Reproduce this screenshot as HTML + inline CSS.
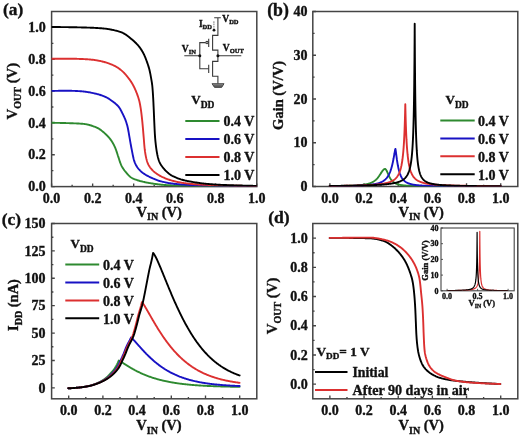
<!DOCTYPE html>
<html><head><meta charset="utf-8"><style>
html,body{margin:0;padding:0;background:#fff;}
svg{display:block;}
svg text{font-family:'Liberation Serif', 'Times New Roman', serif;font-weight:bold;fill:#111;stroke:#111;stroke-width:0.35px;}
</style></head><body>
<svg width="520" height="437" viewBox="0 0 520 437">
<rect width="520" height="437" fill="#fff"/>
<path d="M51.60 186.60V183.40 M92.64 186.60V183.40 M133.68 186.60V183.40 M174.72 186.60V183.40 M215.76 186.60V183.40 M256.80 186.60V183.40 M72.12 186.60V184.80 M113.16 186.60V184.80 M154.20 186.60V184.80 M195.24 186.60V184.80 M236.28 186.60V184.80 M51.60 186.60H54.80 M51.60 154.76H54.80 M51.60 122.93H54.80 M51.60 91.09H54.80 M51.60 59.25H54.80 M51.60 27.42H54.80 M51.60 170.68H53.40 M51.60 138.85H53.40 M51.60 107.01H53.40 M51.60 75.17H53.40 M51.60 43.34H53.40" stroke="#444" stroke-width="1.35" fill="none"/>
<rect x="51.60" y="11.50" width="205.20" height="175.10" stroke="#444" stroke-width="1.5" fill="none"/>
<path d="M329.88 186.50V183.30 M364.05 186.50V183.30 M398.22 186.50V183.30 M432.38 186.50V183.30 M466.55 186.50V183.30 M500.72 186.50V183.30 M346.97 186.50V184.70 M381.13 186.50V184.70 M415.30 186.50V184.70 M449.47 186.50V184.70 M483.63 186.50V184.70 M312.80 186.50H316.00 M312.80 142.75H316.00 M312.80 99.00H316.00 M312.80 55.25H316.00 M312.80 11.50H316.00 M312.80 164.62H314.60 M312.80 120.88H314.60 M312.80 77.12H314.60 M312.80 33.38H314.60" stroke="#444" stroke-width="1.35" fill="none"/>
<rect x="312.80" y="11.50" width="205.00" height="175.00" stroke="#444" stroke-width="1.5" fill="none"/>
<path d="M68.70 398.80V395.60 M102.90 398.80V395.60 M137.10 398.80V395.60 M171.30 398.80V395.60 M205.50 398.80V395.60 M239.70 398.80V395.60 M85.80 398.80V397.00 M120.00 398.80V397.00 M154.20 398.80V397.00 M188.40 398.80V397.00 M222.60 398.80V397.00 M51.60 387.84H54.80 M51.60 360.45H54.80 M51.60 333.06H54.80 M51.60 305.67H54.80 M51.60 278.28H54.80 M51.60 250.89H54.80 M51.60 223.50H54.80 M51.60 374.15H53.40 M51.60 346.76H53.40 M51.60 319.37H53.40 M51.60 291.98H53.40 M51.60 264.59H53.40 M51.60 237.20H53.40" stroke="#444" stroke-width="1.35" fill="none"/>
<rect x="51.60" y="223.50" width="205.20" height="175.30" stroke="#444" stroke-width="1.5" fill="none"/>
<path d="M329.88 398.80V395.60 M364.05 398.80V395.60 M398.22 398.80V395.60 M432.38 398.80V395.60 M466.55 398.80V395.60 M500.72 398.80V395.60 M346.97 398.80V397.00 M381.13 398.80V397.00 M415.30 398.80V397.00 M449.47 398.80V397.00 M483.63 398.80V397.00 M312.80 384.19H316.00 M312.80 354.98H316.00 M312.80 325.76H316.00 M312.80 296.54H316.00 M312.80 267.33H316.00 M312.80 238.11H316.00 M312.80 369.58H314.60 M312.80 340.37H314.60 M312.80 311.15H314.60 M312.80 281.93H314.60 M312.80 252.72H314.60" stroke="#444" stroke-width="1.35" fill="none"/>
<rect x="312.80" y="223.50" width="205.00" height="175.30" stroke="#444" stroke-width="1.5" fill="none"/>
<text x="45.80" y="191.30" font-size="14" text-anchor="end" >0.0</text>
<text x="45.80" y="159.46" font-size="14" text-anchor="end" >0.2</text>
<text x="45.80" y="127.63" font-size="14" text-anchor="end" >0.4</text>
<text x="45.80" y="95.79" font-size="14" text-anchor="end" >0.6</text>
<text x="45.80" y="63.95" font-size="14" text-anchor="end" >0.8</text>
<text x="45.80" y="32.12" font-size="14" text-anchor="end" >1.0</text>
<text x="51.60" y="202.60" font-size="14" text-anchor="middle" >0.0</text>
<text x="92.64" y="202.60" font-size="14" text-anchor="middle" >0.2</text>
<text x="133.68" y="202.60" font-size="14" text-anchor="middle" >0.4</text>
<text x="174.72" y="202.60" font-size="14" text-anchor="middle" >0.6</text>
<text x="215.76" y="202.60" font-size="14" text-anchor="middle" >0.8</text>
<text x="256.80" y="202.60" font-size="14" text-anchor="middle" >1.0</text>
<text x="307.50" y="191.20" font-size="14" text-anchor="end" >0</text>
<text x="307.50" y="147.45" font-size="14" text-anchor="end" >10</text>
<text x="307.50" y="103.70" font-size="14" text-anchor="end" >20</text>
<text x="307.50" y="59.95" font-size="14" text-anchor="end" >30</text>
<text x="307.50" y="16.20" font-size="14" text-anchor="end" >40</text>
<text x="329.88" y="202.60" font-size="14" text-anchor="middle" >0.0</text>
<text x="364.05" y="202.60" font-size="14" text-anchor="middle" >0.2</text>
<text x="398.22" y="202.60" font-size="14" text-anchor="middle" >0.4</text>
<text x="432.38" y="202.60" font-size="14" text-anchor="middle" >0.6</text>
<text x="466.55" y="202.60" font-size="14" text-anchor="middle" >0.8</text>
<text x="500.72" y="202.60" font-size="14" text-anchor="middle" >1.0</text>
<text x="45.50" y="392.54" font-size="14" text-anchor="end" >0</text>
<text x="45.50" y="365.15" font-size="14" text-anchor="end" >25</text>
<text x="45.50" y="337.76" font-size="14" text-anchor="end" >50</text>
<text x="45.50" y="310.37" font-size="14" text-anchor="end" >75</text>
<text x="45.50" y="282.98" font-size="14" text-anchor="end" >100</text>
<text x="45.50" y="255.59" font-size="14" text-anchor="end" >125</text>
<text x="45.50" y="228.20" font-size="14" text-anchor="end" >150</text>
<text x="68.70" y="414.80" font-size="14" text-anchor="middle" >0.0</text>
<text x="102.90" y="414.80" font-size="14" text-anchor="middle" >0.2</text>
<text x="137.10" y="414.80" font-size="14" text-anchor="middle" >0.4</text>
<text x="171.30" y="414.80" font-size="14" text-anchor="middle" >0.6</text>
<text x="205.50" y="414.80" font-size="14" text-anchor="middle" >0.8</text>
<text x="239.70" y="414.80" font-size="14" text-anchor="middle" >1.0</text>
<text x="307.80" y="388.89" font-size="14" text-anchor="end" >0.0</text>
<text x="307.80" y="359.68" font-size="14" text-anchor="end" >0.2</text>
<text x="307.80" y="330.46" font-size="14" text-anchor="end" >0.4</text>
<text x="307.80" y="301.24" font-size="14" text-anchor="end" >0.6</text>
<text x="307.80" y="272.03" font-size="14" text-anchor="end" >0.8</text>
<text x="307.80" y="242.81" font-size="14" text-anchor="end" >1.0</text>
<text x="329.88" y="414.80" font-size="14" text-anchor="middle" >0.0</text>
<text x="364.05" y="414.80" font-size="14" text-anchor="middle" >0.2</text>
<text x="398.22" y="414.80" font-size="14" text-anchor="middle" >0.4</text>
<text x="432.38" y="414.80" font-size="14" text-anchor="middle" >0.6</text>
<text x="466.55" y="414.80" font-size="14" text-anchor="middle" >0.8</text>
<text x="500.72" y="414.80" font-size="14" text-anchor="middle" >1.0</text>
<text x="3.00" y="14.90" font-size="17.4" text-anchor="start" >(a)</text>
<text x="267.20" y="16.40" font-size="17.8" text-anchor="start" >(b)</text>
<text x="1.80" y="224.70" font-size="17.4" text-anchor="start" >(c)</text>
<text x="268.20" y="223.20" font-size="17.6" text-anchor="start" >(d)</text>
<text x="136.50" y="216.60" font-size="14.5" text-anchor="start" >V<tspan font-size="10" dy="3.8">IN</tspan><tspan dy="-3.8"> (V)</tspan></text>
<text x="398.50" y="216.60" font-size="14.5" text-anchor="start" >V<tspan font-size="10" dy="3.8">IN</tspan><tspan dy="-3.8"> (V)</tspan></text>
<text x="136.30" y="430.00" font-size="14.5" text-anchor="start" >V<tspan font-size="10" dy="3.8">IN</tspan><tspan dy="-3.8"> (V)</tspan></text>
<text x="398.50" y="430.00" font-size="14.5" text-anchor="start" >V<tspan font-size="10" dy="3.8">IN</tspan><tspan dy="-3.8"> (V)</tspan></text>
<text transform="translate(17.20,119.40) rotate(-90)" font-size="14.8">V<tspan font-size="10" dy="3.8">OUT</tspan><tspan dy="-3.8"> (V)</tspan></text>
<text transform="translate(283.40,129.90) rotate(-90)" font-size="14.5">Gain (V/V)</text>
<text transform="translate(18.30,331.00) rotate(-90)" font-size="14.5">I<tspan font-size="10" dy="3.8">DD</tspan><tspan dy="-3.8"> (nA)</tspan></text>
<text transform="translate(277.20,334.20) rotate(-90)" font-size="14.8">V<tspan font-size="10" dy="3.8">OUT</tspan><tspan dy="-3.8"> (V)</tspan></text>
<text x="191.30" y="104.20" font-size="13" text-anchor="start" >V<tspan font-size="9.5" dy="3.8">DD</tspan></text>
<path d="M185.3 121.10H219.5" stroke="#2e8a30" stroke-width="2.0"/>
<text x="223.50" y="126.30" font-size="14" text-anchor="start" >0.4 V</text>
<path d="M185.3 139.10H219.5" stroke="#1812c4" stroke-width="2.0"/>
<text x="223.50" y="144.30" font-size="14" text-anchor="start" >0.6 V</text>
<path d="M185.3 157.10H219.5" stroke="#dc3030" stroke-width="2.0"/>
<text x="223.50" y="162.30" font-size="14" text-anchor="start" >0.8 V</text>
<path d="M185.3 175.10H219.5" stroke="#000000" stroke-width="2.0"/>
<text x="223.50" y="180.30" font-size="14" text-anchor="start" >1.0 V</text>
<text x="445.50" y="104.00" font-size="13" text-anchor="start" >V<tspan font-size="9.5" dy="3.8">DD</tspan></text>
<path d="M440.3 120.60H474.7" stroke="#2e8a30" stroke-width="2.0"/>
<text x="478.10" y="126.10" font-size="14" text-anchor="start" >0.4 V</text>
<path d="M440.3 138.45H474.7" stroke="#1812c4" stroke-width="2.0"/>
<text x="478.10" y="143.95" font-size="14" text-anchor="start" >0.6 V</text>
<path d="M440.3 156.30H474.7" stroke="#dc3030" stroke-width="2.0"/>
<text x="478.10" y="161.80" font-size="14" text-anchor="start" >0.8 V</text>
<path d="M440.3 174.15H474.7" stroke="#000000" stroke-width="2.0"/>
<text x="478.10" y="179.65" font-size="14" text-anchor="start" >1.0 V</text>
<text x="70.50" y="247.90" font-size="13" text-anchor="start" >V<tspan font-size="9.5" dy="3.8">DD</tspan></text>
<path d="M65.3 264.60H99.2" stroke="#2e8a30" stroke-width="2.0"/>
<text x="103.10" y="270.30" font-size="14" text-anchor="start" >0.4 V</text>
<path d="M65.3 282.50H99.2" stroke="#1812c4" stroke-width="2.0"/>
<text x="103.10" y="288.20" font-size="14" text-anchor="start" >0.6 V</text>
<path d="M65.3 300.40H99.2" stroke="#dc3030" stroke-width="2.0"/>
<text x="103.10" y="306.10" font-size="14" text-anchor="start" >0.8 V</text>
<path d="M65.3 318.30H99.2" stroke="#000000" stroke-width="2.0"/>
<text x="103.10" y="324.00" font-size="14" text-anchor="start" >1.0 V</text>
<text x="316.40" y="355.60" font-size="13.3" text-anchor="start" >V<tspan font-size="9.2" dy="3.8">DD</tspan><tspan dy="-3.8">= 1 V</tspan></text>
<text x="352.40" y="377.00" font-size="13.8" text-anchor="start" >Initial</text>
<text x="352.60" y="394.80" font-size="14.1" text-anchor="start" >After 90 days in air</text>
<path d="M315 372H347.5" stroke="#000" stroke-width="2.0"/>
<path d="M315 390H347.5" stroke="#dc3030" stroke-width="2.0"/>
<g stroke="#3a3a3a" stroke-width="1.1" fill="none">
<path d="M214.2 17.8H220.8 M217.9 17.8V35.4H212.6V50.1H217.9V61.4H212.6V76.3H217.9V83.5"/>
<path d="M208.7 38.8V47 M208.7 64.8V73"/>
<path d="M205.6 42.6H199.8V68.8H208.7 M184.3 55.8H199.8 M217.9 55.8H241.3"/>
<circle cx="207.0" cy="42.6" r="1.2"/>
<path d="M212.0 83.7H224.0L221.7 87.4H214.5Z" fill="#9a9a9a" stroke-width="0.9"/>
<path d="M213.2 85.2H222.8 M214.0 86.4H222.0" stroke-width="0.7"/>
<path d="M213.9 21.3V28.8" stroke="#8a8a8a" stroke-width="1.1" stroke-dasharray="1.6 0.7"/>
</g>
<circle cx="199.8" cy="55.8" r="1.5" fill="#111"/>
<circle cx="217.9" cy="55.8" r="1.5" fill="#111"/>
<circle cx="214" cy="30.2" r="1.4" fill="#111"/>
<text x="222.30" y="21.70" font-size="9.5" text-anchor="start" >V<tspan font-size="6.5" dy="2.2">DD</tspan></text>
<text x="198.90" y="27.00" font-size="9.5" text-anchor="start" >I<tspan font-size="6.5" dy="2.2">DD</tspan></text>
<text x="181.80" y="51.80" font-size="9.5" text-anchor="start" >V<tspan font-size="6.5" dy="2.2">IN</tspan></text>
<text x="222.80" y="50.90" font-size="9.5" text-anchor="start" >V<tspan font-size="6.5" dy="2.2">OUT</tspan></text>
<clipPath id="ca"><rect x="51.6" y="11.5" width="205.20000000000002" height="175.1"/></clipPath>
<g clip-path="url(#ca)">
<path d="M51.60 122.80 L52.10 122.80 L52.60 122.81 L53.35 122.81 L53.85 122.82 L54.35 122.82 L55.10 122.83 L55.60 122.84 L56.10 122.85 L56.85 122.86 L57.35 122.87 L57.85 122.88 L58.60 122.89 L59.10 122.90 L59.60 122.91 L60.35 122.93 L60.85 122.94 L61.35 122.95 L62.10 122.97 L62.60 122.98 L63.35 123.00 L63.85 123.02 L64.35 123.03 L65.10 123.05 L65.60 123.07 L66.10 123.08 L66.85 123.10 L67.35 123.12 L67.85 123.13 L68.60 123.16 L69.10 123.17 L69.60 123.19 L70.34 123.21 L70.84 123.23 L71.34 123.24 L72.09 123.27 L72.59 123.29 L73.09 123.30 L73.84 123.33 L74.34 123.35 L75.09 123.38 L75.59 123.40 L76.09 123.42 L76.84 123.46 L77.34 123.48 L77.84 123.50 L78.59 123.54 L79.09 123.57 L79.59 123.60 L80.33 123.65 L80.83 123.68 L81.33 123.72 L82.08 123.77 L82.58 123.81 L83.08 123.85 L83.82 123.92 L84.32 123.98 L85.06 124.07 L85.56 124.15 L86.05 124.23 L86.79 124.37 L87.28 124.47 L87.76 124.58 L88.49 124.75 L88.98 124.88 L89.46 125.01 L90.18 125.22 L90.66 125.36 L91.14 125.51 L91.85 125.75 L92.32 125.91 L92.79 126.08 L93.49 126.34 L93.96 126.52 L94.43 126.70 L95.12 126.98 L95.58 127.17 L96.27 127.47 L96.73 127.67 L97.19 127.87 L97.86 128.20 L98.30 128.43 L98.74 128.67 L99.38 129.06 L99.80 129.33 L100.22 129.61 L100.83 130.05 L101.23 130.35 L101.62 130.65 L102.21 131.12 L102.59 131.44 L102.97 131.76 L103.54 132.25 L103.92 132.57 L104.30 132.90 L104.86 133.40 L105.23 133.74 L105.77 134.25 L106.14 134.60 L106.50 134.94 L107.03 135.47 L107.38 135.83 L107.72 136.19 L108.23 136.74 L108.57 137.11 L108.90 137.49 L109.39 138.06 L109.71 138.44 L110.02 138.83 L110.48 139.42 L110.77 139.83 L111.06 140.23 L111.49 140.85 L111.76 141.27 L112.16 141.90 L112.43 142.33 L112.68 142.76 L113.05 143.41 L113.29 143.85 L113.53 144.29 L113.88 144.95 L114.10 145.40 L114.32 145.85 L114.64 146.53 L114.85 146.98 L115.05 147.44 L115.34 148.13 L115.53 148.59 L115.71 149.06 L115.97 149.76 L116.14 150.23 L116.30 150.70 L116.54 151.41 L116.70 151.89 L116.93 152.60 L117.08 153.08 L117.23 153.55 L117.46 154.27 L117.62 154.74 L117.77 155.22 L118.01 155.93 L118.17 156.41 L118.33 156.88 L118.56 157.59 L118.72 158.07 L118.87 158.54 L119.10 159.26 L119.25 159.74 L119.40 160.21 L119.63 160.93 L119.79 161.40 L119.95 161.87 L120.19 162.58 L120.36 163.05 L120.63 163.75 L120.82 164.22 L121.01 164.68 L121.32 165.36 L121.53 165.81 L121.76 166.26 L122.11 166.92 L122.36 167.35 L122.62 167.78 L123.02 168.41 L123.30 168.82 L123.59 169.23 L124.03 169.84 L124.32 170.24 L124.63 170.64 L125.09 171.23 L125.41 171.62 L125.88 172.20 L126.20 172.58 L126.53 172.96 L127.02 173.53 L127.35 173.91 L127.68 174.28 L128.18 174.83 L128.53 175.20 L128.88 175.55 L129.42 176.07 L129.79 176.40 L130.18 176.72 L130.77 177.17 L131.18 177.45 L131.60 177.72 L132.25 178.09 L132.70 178.32 L133.14 178.54 L133.83 178.86 L134.28 179.06 L134.98 179.34 L135.44 179.52 L135.91 179.69 L136.62 179.94 L137.09 180.10 L137.57 180.26 L138.28 180.48 L138.76 180.62 L139.24 180.76 L139.96 180.97 L140.45 181.10 L140.93 181.23 L141.66 181.42 L142.14 181.54 L142.63 181.66 L143.36 181.83 L143.84 181.94 L144.33 182.05 L145.07 182.21 L145.55 182.31 L146.29 182.46 L146.78 182.56 L147.27 182.65 L148.01 182.79 L148.50 182.88 L148.99 182.96 L149.73 183.09 L150.23 183.17 L150.72 183.25 L151.46 183.37 L151.95 183.45 L152.45 183.52 L153.19 183.63 L153.68 183.70 L154.18 183.78 L154.92 183.88 L155.42 183.95 L156.16 184.06 L156.65 184.13 L157.15 184.19 L157.89 184.29 L158.39 184.35 L158.89 184.41 L159.63 184.50 L160.13 184.56 L160.62 184.62 L161.37 184.69 L161.87 184.74 L162.37 184.79 L163.11 184.86 L163.61 184.90 L164.11 184.93 L164.86 184.99 L165.36 185.02 L165.86 185.05 L166.60 185.10 L167.10 185.13 L167.85 185.17 L168.35 185.20 L168.85 185.22 L169.60 185.26 L170.10 185.29 L170.60 185.32 L171.35 185.35 L171.85 185.38 L172.35 185.40 L173.10 185.43 L173.59 185.46 L174.09 185.48 L174.84 185.51 L175.34 185.53 L175.84 185.55 L176.59 185.58 L177.09 185.60 L177.59 185.61 L178.34 185.64 L178.84 185.66 L179.59 185.68 L180.09 185.69 L180.59 185.71 L181.34 185.73 L181.84 185.74 L182.34 185.75 L183.09 185.76 L183.59 185.77 L184.09 185.78 L184.84 185.80 L185.34 185.80 L185.84 185.81 L186.59 185.82 L187.09 185.83 L187.59 185.84 L188.34 185.85 L188.84 185.85 L189.59 185.86 L190.09 185.87 L190.59 185.88 L191.34 185.89 L191.84 185.89 L192.34 185.90 L193.09 185.91 L193.59 185.91 L194.09 185.92 L194.84 185.93 L195.34 185.93 L195.84 185.94 L196.59 185.94 L197.09 185.95 L197.59 185.95 L198.34 185.96 L198.84 185.97 L199.34 185.97 L200.09 185.98 L200.59 185.98 L201.34 185.99 L201.84 185.99 L202.34 186.00 L203.09 186.00 L203.59 186.01 L204.09 186.01 L204.84 186.02 L205.34 186.02 L205.84 186.02 L206.59 186.03 L207.09 186.03 L207.59 186.03 L208.34 186.04 L208.84 186.04 L209.34 186.05 L210.09 186.05 L210.59 186.05 L211.09 186.06 L211.84 186.06 L212.34 186.06 L213.09 186.07 L213.59 186.07 L214.09 186.07 L214.84 186.08 L215.34 186.08 L215.84 186.08 L216.59 186.08 L217.09 186.09 L217.59 186.09 L218.34 186.09 L218.84 186.10 L219.34 186.10 L220.09 186.10 L220.59 186.10 L221.09 186.10 L221.84 186.11 L222.34 186.11 L223.09 186.11 L223.59 186.11 L224.09 186.12 L224.84 186.12 L225.34 186.12 L225.84 186.12 L226.59 186.13 L227.09 186.13 L227.59 186.13 L228.34 186.13 L228.84 186.14 L229.34 186.14 L230.09 186.14 L230.59 186.14 L231.09 186.14 L231.84 186.15 L232.34 186.15 L232.84 186.15 L233.59 186.15 L234.09 186.15 L234.84 186.16 L235.34 186.16 L235.84 186.16 L236.59 186.16 L237.09 186.16 L237.59 186.17 L238.34 186.17 L238.84 186.17 L239.34 186.17 L240.09 186.17 L240.59 186.18 L241.09 186.18 L241.84 186.18 L242.34 186.18 L242.84 186.18 L243.59 186.18 L244.09 186.18 L244.59 186.19 L245.34 186.19 L245.84 186.19 L246.59 186.19 L247.09 186.19 L247.59 186.19 L248.34 186.19 L248.84 186.19 L249.34 186.19 L250.09 186.20 L250.59 186.20 L251.09 186.20 L251.84 186.20 L252.34 186.20 L252.84 186.20 L253.59 186.20 L254.09 186.20 L254.59 186.20 L255.34 186.20 L255.84 186.20 L256.59 186.20" stroke="#2e8a30" stroke-width="1.9" fill="none" stroke-linejoin="round" stroke-linecap="round" />
<path d="M51.60 90.90 L52.10 90.89 L52.85 90.88 L53.35 90.87 L54.10 90.87 L54.60 90.86 L55.35 90.85 L56.10 90.84 L56.60 90.84 L57.35 90.83 L57.85 90.83 L58.60 90.82 L59.35 90.82 L59.85 90.82 L60.60 90.81 L61.10 90.81 L61.85 90.81 L62.60 90.81 L63.10 90.81 L63.85 90.80 L64.35 90.80 L65.10 90.80 L65.85 90.80 L66.35 90.80 L67.10 90.80 L67.60 90.80 L68.35 90.80 L69.10 90.80 L69.60 90.80 L70.35 90.80 L70.85 90.81 L71.60 90.82 L72.35 90.83 L72.85 90.84 L73.60 90.87 L74.10 90.89 L74.85 90.91 L75.60 90.95 L76.10 90.97 L76.85 91.01 L77.34 91.04 L78.09 91.08 L78.84 91.13 L79.34 91.16 L80.09 91.21 L80.59 91.24 L81.34 91.29 L82.08 91.35 L82.58 91.39 L83.33 91.47 L83.83 91.52 L84.57 91.61 L85.31 91.71 L85.81 91.78 L86.55 91.89 L87.04 91.97 L87.78 92.09 L88.52 92.22 L89.02 92.30 L89.75 92.44 L90.24 92.53 L90.98 92.68 L91.72 92.82 L92.21 92.92 L92.94 93.07 L93.43 93.17 L94.16 93.33 L94.90 93.49 L95.38 93.61 L96.11 93.78 L96.60 93.90 L97.32 94.09 L98.05 94.29 L98.53 94.42 L99.25 94.63 L99.73 94.78 L100.44 95.00 L101.16 95.23 L101.63 95.39 L102.34 95.64 L102.81 95.81 L103.51 96.08 L104.20 96.35 L104.67 96.55 L105.35 96.85 L105.80 97.06 L106.47 97.40 L107.13 97.75 L107.57 98.00 L108.21 98.38 L108.64 98.64 L109.27 99.05 L109.90 99.46 L110.31 99.74 L110.92 100.17 L111.33 100.46 L111.94 100.90 L112.54 101.35 L112.94 101.65 L113.54 102.10 L113.93 102.41 L114.52 102.87 L115.11 103.34 L115.50 103.66 L116.07 104.14 L116.44 104.47 L116.99 104.98 L117.53 105.50 L117.87 105.86 L118.37 106.42 L118.69 106.81 L119.14 107.41 L119.56 108.02 L119.83 108.44 L120.22 109.08 L120.47 109.52 L120.83 110.18 L121.18 110.84 L121.40 111.29 L121.74 111.96 L121.96 112.40 L122.29 113.08 L122.63 113.75 L122.85 114.20 L123.18 114.87 L123.40 115.32 L123.72 115.99 L124.04 116.67 L124.25 117.13 L124.56 117.81 L124.76 118.27 L125.05 118.96 L125.33 119.65 L125.51 120.12 L125.77 120.83 L125.94 121.30 L126.18 122.01 L126.41 122.72 L126.56 123.20 L126.78 123.92 L126.92 124.40 L127.12 125.12 L127.31 125.84 L127.43 126.33 L127.61 127.06 L127.72 127.54 L127.88 128.27 L128.03 129.01 L128.13 129.50 L128.27 130.24 L128.36 130.73 L128.49 131.47 L128.62 132.21 L128.70 132.70 L128.83 133.44 L128.91 133.93 L129.03 134.67 L129.16 135.41 L129.25 135.90 L129.38 136.64 L129.47 137.13 L129.60 137.87 L129.73 138.61 L129.82 139.10 L129.95 139.84 L130.03 140.33 L130.16 141.07 L130.29 141.81 L130.38 142.30 L130.51 143.04 L130.59 143.54 L130.72 144.27 L130.86 145.01 L130.95 145.50 L131.08 146.24 L131.17 146.73 L131.31 147.47 L131.45 148.21 L131.54 148.70 L131.69 149.43 L131.79 149.92 L131.93 150.66 L132.07 151.40 L132.17 151.89 L132.31 152.62 L132.41 153.12 L132.55 153.85 L132.69 154.59 L132.79 155.08 L132.94 155.81 L133.05 156.30 L133.21 157.03 L133.38 157.76 L133.49 158.25 L133.68 158.98 L133.80 159.46 L134.01 160.18 L134.22 160.90 L134.38 161.38 L134.63 162.08 L134.80 162.55 L135.09 163.24 L135.29 163.70 L135.61 164.38 L135.96 165.04 L136.20 165.48 L136.57 166.13 L136.84 166.55 L137.25 167.18 L137.68 167.79 L137.98 168.19 L138.45 168.77 L138.78 169.15 L139.29 169.70 L139.81 170.24 L140.16 170.59 L140.71 171.10 L141.08 171.44 L141.65 171.93 L142.23 172.40 L142.62 172.71 L143.22 173.17 L143.62 173.46 L144.24 173.89 L144.86 174.30 L145.28 174.57 L145.92 174.96 L146.35 175.21 L147.01 175.58 L147.66 175.94 L148.11 176.18 L148.77 176.52 L149.22 176.75 L149.89 177.08 L150.57 177.40 L151.02 177.61 L151.70 177.92 L152.16 178.13 L152.84 178.44 L153.53 178.73 L153.99 178.93 L154.68 179.22 L155.15 179.41 L155.84 179.68 L156.55 179.95 L157.02 180.12 L157.72 180.37 L158.20 180.53 L158.91 180.76 L159.63 180.97 L160.11 181.11 L160.83 181.31 L161.32 181.43 L162.04 181.62 L162.77 181.80 L163.26 181.91 L163.99 182.08 L164.48 182.19 L165.21 182.35 L165.94 182.50 L166.43 182.60 L167.17 182.74 L167.66 182.83 L168.40 182.97 L169.14 183.09 L169.63 183.17 L170.37 183.28 L170.87 183.36 L171.61 183.46 L172.36 183.55 L172.85 183.61 L173.60 183.70 L174.09 183.76 L174.84 183.84 L175.58 183.92 L176.08 183.98 L176.83 184.05 L177.33 184.10 L178.07 184.17 L178.82 184.24 L179.32 184.28 L180.06 184.34 L180.56 184.38 L181.31 184.44 L182.06 184.50 L182.56 184.53 L183.31 184.59 L183.80 184.62 L184.55 184.67 L185.30 184.72 L185.80 184.75 L186.55 184.79 L187.05 184.82 L187.80 184.87 L188.55 184.91 L189.04 184.94 L189.79 184.98 L190.29 185.01 L191.04 185.04 L191.79 185.08 L192.29 185.11 L193.04 185.14 L193.54 185.17 L194.29 185.20 L195.04 185.23 L195.54 185.25 L196.29 185.28 L196.79 185.30 L197.54 185.32 L198.29 185.35 L198.79 185.36 L199.53 185.39 L200.03 185.40 L200.78 185.42 L201.53 185.44 L202.03 185.45 L202.78 185.47 L203.28 185.48 L204.03 185.50 L204.78 185.51 L205.28 185.53 L206.03 185.54 L206.53 185.55 L207.28 185.57 L208.03 185.58 L208.53 185.59 L209.28 185.61 L209.78 185.62 L210.53 185.63 L211.28 185.65 L211.78 185.65 L212.53 185.67 L213.03 185.68 L213.78 185.69 L214.53 185.70 L215.03 185.71 L215.78 185.72 L216.28 185.73 L217.03 185.74 L217.78 185.75 L218.28 185.76 L219.03 185.77 L219.53 185.78 L220.28 185.79 L221.03 185.80 L221.53 185.80 L222.28 185.81 L222.78 185.82 L223.53 185.83 L224.28 185.84 L224.78 185.84 L225.53 185.85 L226.03 185.86 L226.78 185.87 L227.53 185.87 L228.03 185.88 L228.78 185.89 L229.28 185.89 L230.03 185.90 L230.78 185.91 L231.28 185.91 L232.03 185.92 L232.53 185.93 L233.28 185.93 L234.03 185.94 L234.53 185.95 L235.28 185.95 L235.78 185.96 L236.53 185.96 L237.28 185.97 L237.78 185.98 L238.53 185.98 L239.03 185.99 L239.78 185.99 L240.53 186.00 L241.03 186.00 L241.78 186.01 L242.28 186.01 L243.03 186.02 L243.78 186.03 L244.28 186.03 L245.03 186.04 L245.53 186.04 L246.28 186.05 L247.03 186.05 L247.53 186.05 L248.28 186.06 L248.78 186.06 L249.53 186.07 L250.28 186.07 L250.78 186.07 L251.53 186.08 L252.03 186.08 L252.78 186.08 L253.53 186.09 L254.03 186.09 L254.78 186.09 L255.28 186.09 L256.03 186.10 L256.78 186.10" stroke="#1812c4" stroke-width="1.9" fill="none" stroke-linejoin="round" stroke-linecap="round" />
<path d="M51.60 58.80 L52.10 58.79 L52.85 58.78 L53.60 58.77 L54.35 58.76 L55.10 58.75 L55.85 58.75 L56.60 58.74 L57.35 58.73 L57.85 58.73 L58.60 58.72 L59.35 58.72 L60.10 58.72 L60.85 58.71 L61.60 58.71 L62.35 58.71 L63.10 58.71 L63.60 58.70 L64.35 58.70 L65.10 58.70 L65.85 58.70 L66.60 58.70 L67.35 58.70 L68.10 58.70 L68.85 58.70 L69.35 58.70 L70.10 58.70 L70.85 58.71 L71.60 58.71 L72.35 58.72 L73.10 58.73 L73.85 58.75 L74.60 58.77 L75.10 58.78 L75.85 58.80 L76.60 58.82 L77.35 58.85 L78.10 58.87 L78.85 58.90 L79.60 58.93 L80.35 58.96 L80.85 58.98 L81.59 59.00 L82.34 59.04 L83.09 59.07 L83.84 59.10 L84.59 59.14 L85.34 59.19 L86.09 59.23 L86.59 59.26 L87.34 59.31 L88.08 59.36 L88.83 59.42 L89.58 59.48 L90.33 59.54 L91.07 59.61 L91.82 59.68 L92.57 59.75 L93.06 59.80 L93.81 59.89 L94.55 59.98 L95.30 60.09 L96.04 60.20 L96.78 60.33 L97.51 60.46 L98.25 60.60 L98.74 60.70 L99.48 60.85 L100.21 61.01 L100.94 61.18 L101.67 61.36 L102.40 61.53 L103.12 61.72 L103.85 61.91 L104.33 62.03 L105.06 62.23 L105.78 62.44 L106.50 62.66 L107.21 62.88 L107.92 63.12 L108.63 63.36 L109.34 63.62 L109.80 63.79 L110.50 64.06 L111.20 64.34 L111.89 64.63 L112.58 64.93 L113.26 65.24 L113.94 65.56 L114.61 65.89 L115.06 66.11 L115.73 66.46 L116.38 66.82 L117.03 67.20 L117.67 67.59 L118.29 68.01 L118.91 68.44 L119.51 68.88 L119.91 69.18 L120.50 69.65 L121.08 70.12 L121.65 70.61 L122.21 71.10 L122.77 71.61 L123.31 72.12 L123.85 72.65 L124.20 73.00 L124.71 73.55 L125.22 74.10 L125.71 74.67 L126.19 75.24 L126.67 75.82 L127.14 76.40 L127.61 76.99 L128.07 77.58 L128.37 77.98 L128.83 78.57 L129.28 79.17 L129.72 79.78 L130.16 80.39 L130.58 81.01 L131.00 81.63 L131.41 82.26 L131.68 82.68 L132.07 83.32 L132.45 83.96 L132.82 84.62 L133.18 85.28 L133.53 85.94 L133.87 86.61 L134.20 87.28 L134.42 87.73 L134.74 88.41 L135.05 89.09 L135.35 89.78 L135.65 90.47 L135.94 91.16 L136.22 91.85 L136.50 92.55 L136.68 93.01 L136.95 93.71 L137.21 94.42 L137.47 95.12 L137.72 95.83 L137.97 96.53 L138.21 97.25 L138.44 97.96 L138.59 98.44 L138.80 99.16 L139.00 99.88 L139.19 100.60 L139.37 101.33 L139.54 102.06 L139.70 102.80 L139.85 103.53 L139.95 104.02 L140.09 104.76 L140.23 105.49 L140.35 106.23 L140.48 106.97 L140.60 107.71 L140.71 108.45 L140.83 109.19 L140.90 109.69 L141.00 110.43 L141.11 111.18 L141.21 111.92 L141.30 112.66 L141.40 113.41 L141.49 114.15 L141.58 114.90 L141.67 115.64 L141.72 116.14 L141.81 116.88 L141.89 117.63 L141.97 118.37 L142.05 119.12 L142.13 119.86 L142.21 120.61 L142.28 121.36 L142.33 121.85 L142.41 122.60 L142.48 123.35 L142.55 124.09 L142.62 124.84 L142.69 125.59 L142.76 126.33 L142.83 127.08 L142.87 127.58 L142.94 128.33 L143.00 129.07 L143.06 129.82 L143.13 130.57 L143.19 131.32 L143.25 132.06 L143.31 132.81 L143.35 133.31 L143.42 134.06 L143.48 134.80 L143.54 135.55 L143.61 136.30 L143.67 137.05 L143.73 137.79 L143.79 138.54 L143.83 139.04 L143.89 139.79 L143.94 140.53 L144.00 141.28 L144.06 142.03 L144.12 142.78 L144.17 143.53 L144.23 144.27 L144.28 144.77 L144.34 145.52 L144.41 146.27 L144.48 147.01 L144.55 147.76 L144.63 148.50 L144.72 149.25 L144.80 149.99 L144.87 150.49 L144.96 151.23 L145.07 151.98 L145.18 152.72 L145.30 153.46 L145.42 154.20 L145.55 154.94 L145.69 155.67 L145.84 156.41 L145.94 156.90 L146.10 157.63 L146.27 158.36 L146.44 159.09 L146.63 159.82 L146.83 160.54 L147.05 161.26 L147.28 161.97 L147.45 162.44 L147.72 163.14 L148.03 163.82 L148.35 164.49 L148.70 165.16 L149.07 165.81 L149.46 166.45 L149.88 167.08 L150.16 167.49 L150.61 168.09 L151.08 168.67 L151.56 169.24 L152.07 169.79 L152.60 170.32 L153.14 170.85 L153.69 171.35 L154.07 171.68 L154.64 172.16 L155.22 172.64 L155.82 173.09 L156.42 173.54 L157.03 173.97 L157.65 174.39 L158.29 174.79 L158.71 175.05 L159.35 175.44 L160.01 175.81 L160.66 176.17 L161.33 176.52 L162.00 176.86 L162.67 177.18 L163.35 177.49 L163.81 177.69 L164.50 177.99 L165.19 178.28 L165.89 178.56 L166.59 178.83 L167.29 179.09 L168.00 179.34 L168.71 179.59 L169.18 179.75 L169.89 179.98 L170.61 180.21 L171.33 180.42 L172.05 180.63 L172.77 180.83 L173.50 181.02 L174.22 181.20 L174.95 181.37 L175.44 181.48 L176.17 181.65 L176.90 181.81 L177.64 181.96 L178.37 182.11 L179.11 182.25 L179.85 182.39 L180.59 182.52 L181.08 182.61 L181.82 182.73 L182.56 182.85 L183.30 182.96 L184.04 183.07 L184.79 183.17 L185.53 183.27 L186.27 183.36 L186.77 183.42 L187.51 183.51 L188.26 183.59 L189.01 183.68 L189.75 183.76 L190.50 183.83 L191.24 183.91 L191.99 183.98 L192.49 184.02 L193.24 184.09 L193.98 184.15 L194.73 184.21 L195.48 184.26 L196.23 184.31 L196.97 184.36 L197.72 184.41 L198.22 184.44 L198.97 184.49 L199.72 184.53 L200.47 184.57 L201.22 184.61 L201.97 184.65 L202.72 184.69 L203.46 184.72 L203.96 184.75 L204.71 184.78 L205.46 184.81 L206.21 184.85 L206.96 184.88 L207.71 184.91 L208.46 184.94 L209.21 184.97 L209.71 184.99 L210.46 185.02 L211.21 185.05 L211.96 185.07 L212.71 185.10 L213.46 185.13 L214.21 185.15 L214.96 185.18 L215.71 185.21 L216.20 185.22 L216.95 185.25 L217.70 185.27 L218.45 185.30 L219.20 185.32 L219.95 185.34 L220.70 185.37 L221.45 185.39 L221.95 185.40 L222.70 185.42 L223.45 185.44 L224.20 185.46 L224.95 185.48 L225.70 185.50 L226.45 185.52 L227.20 185.54 L227.70 185.55 L228.45 185.57 L229.20 185.58 L229.95 185.60 L230.70 185.61 L231.45 185.63 L232.20 185.64 L232.95 185.66 L233.45 185.67 L234.20 185.68 L234.95 185.70 L235.70 185.71 L236.45 185.73 L237.20 185.74 L237.95 185.75 L238.70 185.77 L239.20 185.78 L239.95 185.79 L240.70 185.80 L241.45 185.81 L242.20 185.83 L242.95 185.84 L243.70 185.85 L244.45 185.86 L244.95 185.87 L245.70 185.88 L246.45 185.89 L247.20 185.90 L247.95 185.91 L248.70 185.92 L249.45 185.93 L250.20 185.94 L250.70 185.95 L251.45 185.95 L252.20 185.96 L252.95 185.97 L253.70 185.98 L254.45 185.98 L255.20 185.99 L255.95 185.99 L256.70 186.00" stroke="#dc3030" stroke-width="1.9" fill="none" stroke-linejoin="round" stroke-linecap="round" />
<path d="M51.60 27.00 L52.35 27.00 L53.10 27.01 L53.85 27.01 L54.60 27.02 L55.35 27.02 L56.35 27.03 L57.10 27.04 L57.85 27.04 L58.60 27.05 L59.35 27.06 L60.10 27.07 L61.10 27.08 L61.85 27.09 L62.60 27.10 L63.35 27.11 L64.10 27.12 L64.85 27.13 L65.85 27.14 L66.60 27.15 L67.35 27.16 L68.10 27.17 L68.85 27.18 L69.60 27.19 L70.60 27.21 L71.35 27.22 L72.10 27.23 L72.85 27.25 L73.60 27.26 L74.60 27.28 L75.35 27.29 L76.10 27.31 L76.85 27.32 L77.60 27.34 L78.35 27.35 L79.35 27.38 L80.10 27.39 L80.85 27.41 L81.60 27.43 L82.35 27.45 L83.10 27.47 L84.10 27.50 L84.85 27.52 L85.59 27.54 L86.34 27.56 L87.09 27.59 L87.84 27.61 L88.84 27.64 L89.59 27.67 L90.34 27.70 L91.09 27.72 L91.84 27.75 L92.59 27.78 L93.59 27.82 L94.34 27.86 L95.09 27.89 L95.84 27.93 L96.59 27.97 L97.58 28.03 L98.33 28.08 L99.08 28.13 L99.83 28.19 L100.58 28.25 L101.32 28.31 L102.32 28.39 L103.07 28.46 L103.81 28.53 L104.56 28.60 L105.31 28.68 L106.05 28.78 L107.04 28.91 L107.78 29.03 L108.52 29.15 L109.26 29.27 L110.00 29.40 L110.74 29.54 L111.72 29.73 L112.46 29.87 L113.19 30.02 L113.92 30.18 L114.66 30.34 L115.63 30.57 L116.36 30.75 L117.08 30.94 L117.81 31.14 L118.53 31.35 L119.24 31.57 L120.19 31.88 L120.90 32.13 L121.60 32.40 L122.29 32.70 L122.96 33.01 L123.63 33.36 L124.50 33.85 L125.14 34.24 L125.77 34.65 L126.39 35.07 L127.00 35.51 L127.60 35.95 L128.39 36.56 L128.98 37.03 L129.56 37.50 L130.14 37.97 L130.72 38.45 L131.29 38.94 L132.06 39.58 L132.63 40.07 L133.20 40.56 L133.76 41.05 L134.32 41.55 L135.05 42.23 L135.59 42.75 L136.13 43.28 L136.65 43.82 L137.16 44.36 L137.66 44.92 L138.32 45.68 L138.79 46.26 L139.26 46.85 L139.71 47.44 L140.16 48.05 L140.59 48.66 L141.15 49.48 L141.56 50.11 L141.96 50.75 L142.34 51.39 L142.72 52.04 L143.08 52.70 L143.54 53.59 L143.87 54.26 L144.19 54.94 L144.50 55.62 L144.80 56.31 L145.18 57.23 L145.46 57.93 L145.74 58.62 L146.01 59.32 L146.27 60.02 L146.53 60.73 L146.88 61.67 L147.13 62.37 L147.38 63.08 L147.63 63.79 L147.87 64.50 L148.11 65.21 L148.41 66.16 L148.63 66.88 L148.85 67.60 L149.05 68.32 L149.25 69.04 L149.43 69.77 L149.67 70.74 L149.83 71.47 L149.99 72.21 L150.14 72.94 L150.29 73.68 L150.43 74.41 L150.61 75.40 L150.74 76.13 L150.88 76.87 L151.01 77.61 L151.15 78.35 L151.32 79.33 L151.46 80.07 L151.58 80.81 L151.71 81.55 L151.83 82.29 L151.94 83.03 L152.07 84.02 L152.17 84.77 L152.25 85.51 L152.33 86.26 L152.40 87.00 L152.47 87.75 L152.55 88.75 L152.61 89.49 L152.67 90.24 L152.73 90.99 L152.78 91.74 L152.83 92.49 L152.90 93.48 L152.95 94.23 L153.00 94.98 L153.04 95.73 L153.09 96.48 L153.13 97.23 L153.19 98.22 L153.23 98.97 L153.27 99.72 L153.31 100.47 L153.35 101.22 L153.40 102.22 L153.43 102.97 L153.47 103.72 L153.50 104.47 L153.54 105.22 L153.57 105.97 L153.62 106.96 L153.65 107.71 L153.69 108.46 L153.72 109.21 L153.76 109.96 L153.79 110.71 L153.84 111.71 L153.87 112.46 L153.90 113.21 L153.93 113.96 L153.96 114.71 L153.99 115.46 L154.04 116.46 L154.07 117.20 L154.10 117.95 L154.13 118.70 L154.16 119.45 L154.21 120.45 L154.24 121.20 L154.27 121.95 L154.31 122.70 L154.34 123.45 L154.38 124.20 L154.42 125.20 L154.46 125.95 L154.49 126.69 L154.52 127.44 L154.56 128.19 L154.59 128.94 L154.64 129.94 L154.68 130.69 L154.72 131.44 L154.76 132.19 L154.80 132.94 L154.84 133.69 L154.90 134.68 L154.95 135.43 L155.00 136.18 L155.05 136.93 L155.11 137.68 L155.17 138.42 L155.25 139.42 L155.32 140.17 L155.39 140.91 L155.46 141.66 L155.54 142.41 L155.65 143.40 L155.73 144.15 L155.82 144.89 L155.91 145.64 L156.00 146.38 L156.10 147.12 L156.23 148.12 L156.34 148.86 L156.44 149.60 L156.56 150.34 L156.67 151.08 L156.80 151.82 L156.97 152.81 L157.11 153.54 L157.25 154.28 L157.40 155.01 L157.57 155.75 L157.73 156.48 L157.97 157.45 L158.17 158.17 L158.37 158.89 L158.58 159.61 L158.81 160.33 L159.14 161.27 L159.42 161.97 L159.73 162.65 L160.07 163.32 L160.43 163.97 L160.82 164.61 L161.38 165.44 L161.80 166.06 L162.24 166.66 L162.69 167.27 L163.15 167.86 L163.62 168.44 L164.27 169.20 L164.77 169.76 L165.29 170.30 L165.82 170.83 L166.36 171.35 L166.91 171.86 L167.65 172.53 L168.22 173.02 L168.79 173.50 L169.38 173.96 L169.99 174.40 L170.61 174.83 L171.46 175.35 L172.11 175.72 L172.77 176.07 L173.44 176.41 L174.12 176.73 L175.03 177.15 L175.71 177.45 L176.41 177.74 L177.10 178.02 L177.80 178.29 L178.50 178.55 L179.45 178.88 L180.16 179.12 L180.87 179.35 L181.59 179.56 L182.31 179.77 L183.03 179.97 L184.00 180.23 L184.73 180.41 L185.46 180.58 L186.19 180.75 L186.92 180.91 L187.66 181.06 L188.64 181.26 L189.37 181.40 L190.11 181.54 L190.85 181.67 L191.59 181.80 L192.33 181.93 L193.31 182.09 L194.05 182.21 L194.79 182.33 L195.53 182.44 L196.28 182.56 L197.26 182.70 L198.01 182.81 L198.75 182.92 L199.49 183.02 L200.24 183.12 L200.98 183.21 L201.97 183.34 L202.72 183.43 L203.46 183.51 L204.21 183.60 L204.95 183.67 L205.70 183.75 L206.69 183.84 L207.44 183.91 L208.19 183.98 L208.94 184.04 L209.68 184.11 L210.43 184.17 L211.43 184.25 L212.18 184.31 L212.92 184.36 L213.67 184.42 L214.42 184.47 L215.42 184.54 L216.17 184.59 L216.91 184.63 L217.66 184.67 L218.41 184.72 L219.16 184.76 L220.16 184.81 L220.91 184.84 L221.66 184.88 L222.41 184.91 L223.16 184.94 L223.91 184.97 L224.90 185.01 L225.65 185.04 L226.40 185.07 L227.15 185.10 L227.90 185.13 L228.65 185.15 L229.65 185.19 L230.40 185.21 L231.15 185.24 L231.90 185.26 L232.65 185.29 L233.40 185.31 L234.40 185.34 L235.15 185.36 L235.90 185.38 L236.65 185.40 L237.40 185.43 L238.40 185.45 L239.15 185.48 L239.90 185.50 L240.65 185.52 L241.40 185.54 L242.15 185.56 L243.15 185.59 L243.90 185.61 L244.65 185.63 L245.39 185.65 L246.14 185.66 L246.89 185.68 L247.89 185.71 L248.64 185.73 L249.39 185.74 L250.14 185.76 L250.89 185.78 L251.64 185.79 L252.64 185.82 L253.39 185.83 L254.14 185.85 L254.89 185.86 L255.64 185.88 L256.64 185.90" stroke="#000000" stroke-width="1.9" fill="none" stroke-linejoin="round" stroke-linecap="round" />
</g>
<clipPath id="cb"><rect x="312.8" y="11.5" width="204.99999999999994" height="175.0"/></clipPath>
<g clip-path="url(#cb)">
<path d="M329.70 186.21 L330.04 186.20 L330.39 186.20 L330.73 186.20 L331.07 186.19 L331.41 186.19 L331.76 186.19 L332.10 186.18 L332.44 186.18 L332.79 186.17 L333.13 186.17 L333.47 186.16 L333.81 186.16 L334.16 186.16 L334.50 186.15 L334.84 186.15 L335.19 186.14 L335.53 186.14 L335.87 186.13 L336.21 186.13 L336.56 186.12 L336.90 186.12 L337.24 186.11 L337.59 186.11 L337.93 186.10 L338.27 186.09 L338.62 186.09 L338.96 186.08 L339.30 186.08 L339.64 186.07 L339.99 186.06 L340.33 186.06 L340.67 186.05 L341.02 186.04 L341.36 186.04 L341.70 186.03 L342.04 186.02 L342.39 186.01 L342.73 186.01 L343.07 186.00 L343.42 185.99 L343.76 185.98 L344.10 185.97 L344.44 185.97 L344.79 185.96 L345.13 185.95 L345.47 185.94 L345.82 185.93 L346.16 185.92 L346.50 185.91 L346.84 185.90 L347.19 185.89 L347.53 185.88 L347.87 185.87 L348.22 185.85 L348.56 185.84 L348.90 185.83 L349.24 185.82 L349.59 185.81 L349.93 185.79 L350.27 185.78 L350.62 185.76 L350.96 185.75 L351.30 185.74 L351.64 185.72 L351.99 185.71 L352.33 185.69 L352.67 185.67 L353.02 185.66 L353.36 185.64 L353.70 185.62 L354.04 185.60 L354.39 185.58 L354.73 185.56 L355.07 185.54 L355.42 185.52 L355.76 185.50 L356.10 185.48 L356.45 185.45 L356.79 185.43 L357.13 185.41 L357.47 185.38 L357.82 185.35 L358.16 185.33 L358.50 185.30 L358.85 185.27 L359.19 185.24 L359.53 185.20 L359.87 185.17 L360.22 185.14 L360.56 185.10 L360.90 185.07 L361.25 185.03 L361.59 184.99 L361.93 184.95 L362.27 184.90 L362.62 184.86 L362.96 184.81 L363.30 184.76 L363.65 184.71 L363.99 184.66 L364.33 184.61 L364.67 184.55 L365.02 184.49 L365.36 184.43 L365.70 184.36 L366.05 184.29 L366.39 184.22 L366.73 184.15 L367.07 184.07 L367.42 183.99 L367.76 183.90 L368.10 183.81 L368.45 183.72 L368.79 183.62 L369.13 183.51 L369.47 183.40 L369.82 183.29 L370.16 183.17 L370.50 183.04 L370.85 182.90 L371.19 182.76 L371.53 182.61 L371.87 182.45 L372.22 182.28 L372.56 182.11 L372.90 181.92 L373.25 181.72 L373.59 181.52 L373.93 181.30 L374.28 181.06 L374.62 180.82 L374.96 180.56 L375.30 180.28 L375.65 179.99 L375.99 179.68 L376.33 179.35 L376.68 179.01 L377.02 178.65 L377.36 178.27 L377.70 177.87 L378.05 177.44 L378.39 177.00 L378.73 176.54 L379.08 176.07 L379.42 175.57 L379.76 175.06 L380.10 174.53 L380.45 174.00 L380.79 173.46 L381.00 173.13 L381.05 173.05 L381.10 172.97 L381.13 172.92 L381.15 172.89 L381.20 172.81 L381.25 172.73 L381.30 172.66 L381.35 172.58 L381.40 172.50 L381.45 172.42 L381.48 172.38 L381.50 172.34 L381.55 172.27 L381.60 172.19 L381.65 172.11 L381.70 172.04 L381.75 171.96 L381.80 171.89 L381.82 171.86 L381.85 171.81 L381.90 171.74 L381.95 171.66 L382.00 171.59 L382.05 171.52 L382.10 171.44 L382.15 171.37 L382.16 171.35 L382.20 171.30 L382.25 171.23 L382.30 171.16 L382.35 171.09 L382.40 171.02 L382.45 170.95 L382.50 170.88 L382.50 170.88 L382.55 170.82 L382.60 170.75 L382.65 170.68 L382.70 170.62 L382.75 170.56 L382.80 170.49 L382.85 170.44 L382.85 170.43 L382.90 170.37 L382.95 170.31 L383.00 170.25 L383.05 170.20 L383.10 170.14 L383.15 170.08 L383.19 170.04 L383.20 170.03 L383.25 169.98 L383.30 169.92 L383.35 169.87 L383.40 169.82 L383.45 169.78 L383.50 169.73 L383.53 169.70 L383.55 169.68 L383.60 169.64 L383.65 169.59 L383.70 169.55 L383.75 169.51 L383.80 169.47 L383.85 169.44 L383.88 169.42 L383.90 169.40 L383.95 169.36 L384.00 169.33 L384.05 169.30 L384.10 169.27 L384.15 169.24 L384.20 169.21 L384.22 169.20 L384.25 169.19 L384.30 169.16 L384.35 169.14 L384.40 169.12 L384.45 169.10 L384.50 169.08 L384.55 169.07 L384.56 169.06 L384.60 169.05 L384.65 169.04 L384.70 169.03 L384.75 169.02 L384.80 169.01 L384.85 169.01 L384.90 169.00 L384.90 169.00 L384.95 169.00 L385.00 169.00 L385.05 169.00 L385.10 169.01 L385.15 169.02 L385.20 169.03 L385.25 169.04 L385.25 169.05 L385.30 169.07 L385.35 169.09 L385.40 169.12 L385.45 169.15 L385.50 169.18 L385.55 169.22 L385.59 169.25 L385.60 169.26 L385.65 169.30 L385.70 169.35 L385.75 169.40 L385.80 169.45 L385.85 169.51 L385.90 169.57 L385.93 169.61 L385.95 169.63 L386.00 169.70 L386.05 169.77 L386.10 169.84 L386.15 169.91 L386.20 169.99 L386.25 170.07 L386.28 170.11 L386.30 170.15 L386.35 170.23 L386.40 170.32 L386.45 170.41 L386.50 170.50 L386.55 170.59 L386.60 170.69 L386.62 170.72 L386.65 170.78 L386.70 170.88 L386.75 170.98 L386.80 171.08 L386.85 171.18 L386.90 171.29 L386.95 171.39 L386.96 171.42 L387.00 171.50 L387.05 171.61 L387.10 171.72 L387.15 171.83 L387.20 171.94 L387.25 172.05 L387.30 172.16 L387.30 172.17 L387.35 172.27 L387.40 172.39 L387.45 172.50 L387.50 172.61 L387.55 172.73 L387.60 172.84 L387.65 172.95 L387.65 172.96 L387.70 173.08 L387.75 173.19 L387.80 173.31 L387.85 173.42 L387.90 173.54 L387.95 173.66 L387.99 173.75 L388.00 173.77 L388.05 173.89 L388.10 174.00 L388.15 174.12 L388.20 174.23 L388.25 174.35 L388.30 174.46 L388.33 174.54 L388.35 174.57 L388.40 174.69 L388.45 174.80 L388.50 174.91 L388.55 175.02 L388.60 175.13 L388.65 175.25 L388.68 175.30 L388.70 175.35 L388.75 175.46 L388.80 175.57 L388.85 175.68 L388.90 175.79 L388.95 175.89 L389.00 176.00 L389.02 176.04 L389.36 176.74 L389.71 177.39 L390.05 178.01 L390.39 178.58 L390.73 179.11 L391.08 179.60 L391.42 180.06 L391.76 180.48 L392.11 180.86 L392.45 181.21 L392.79 181.54 L393.13 181.84 L393.48 182.12 L393.82 182.37 L394.16 182.61 L394.51 182.83 L394.85 183.03 L395.19 183.21 L395.53 183.39 L395.88 183.55 L396.22 183.70 L396.56 183.84 L396.91 183.97 L397.25 184.09 L397.59 184.20 L397.93 184.30 L398.28 184.40 L398.62 184.49 L398.96 184.58 L399.31 184.66 L399.65 184.74 L399.99 184.81 L400.33 184.88 L400.68 184.94 L401.02 185.00 L401.36 185.06 L401.71 185.11 L402.05 185.16 L402.39 185.21 L402.73 185.26 L403.08 185.30 L403.42 185.34 L403.76 185.38 L404.11 185.42 L404.45 185.46 L404.79 185.49 L405.13 185.52 L405.48 185.55 L405.82 185.58 L406.16 185.61 L406.51 185.64 L406.85 185.66 L407.19 185.69 L407.54 185.71 L407.88 185.73 L408.22 185.75 L408.56 185.77 L408.91 185.79 L409.25 185.81 L409.59 185.83 L409.94 185.85 L410.28 185.87 L410.62 185.88 L410.96 185.90 L411.31 185.91 L411.65 185.93 L411.99 185.94 L412.34 185.96 L412.68 185.97 L413.02 185.98 L413.36 185.99 L413.71 186.00 L414.05 186.02 L414.39 186.03 L414.74 186.04 L415.08 186.05 L415.42 186.06 L415.76 186.07 L416.11 186.08 L416.45 186.09 L416.79 186.09 L417.14 186.10 L417.48 186.11 L417.82 186.12 L418.16 186.13 L418.51 186.13 L418.85 186.14 L419.19 186.15 L419.54 186.15 L419.88 186.16 L420.22 186.17 L420.56 186.17 L420.91 186.18 L421.25 186.19 L421.59 186.19 L421.94 186.20 L422.28 186.20 L422.62 186.21 L422.96 186.21 L423.31 186.22 L423.65 186.22 L423.99 186.23 L424.34 186.23 L424.68 186.24 L425.02 186.24 L425.37 186.25 L425.71 186.25 L426.05 186.25 L426.39 186.26 L426.74 186.26 L427.08 186.27 L427.42 186.27 L427.77 186.27 L428.11 186.28 L428.45 186.28 L428.79 186.28 L429.14 186.29 L429.48 186.29 L429.82 186.29 L430.17 186.30 L430.51 186.30 L430.85 186.30 L431.19 186.31 L431.54 186.31 L431.88 186.31 L432.22 186.31 L432.57 186.32 L432.91 186.32 L433.25 186.32 L433.59 186.32 L433.94 186.33 L434.28 186.33 L434.62 186.33 L434.97 186.33 L435.31 186.34 L435.65 186.34 L435.99 186.34 L436.34 186.34 L436.68 186.34 L437.02 186.35 L437.37 186.35 L437.71 186.35 L438.05 186.35 L438.39 186.35 L438.74 186.36 L439.08 186.36 L439.42 186.36 L439.77 186.36 L440.11 186.36 L440.45 186.36 L440.79 186.37 L441.14 186.37 L441.48 186.37 L441.82 186.37 L442.17 186.37 L442.51 186.37 L442.85 186.38 L443.20 186.38 L443.54 186.38 L443.88 186.38 L444.22 186.38 L444.57 186.38 L444.91 186.38 L445.25 186.39 L445.60 186.39 L445.94 186.39 L446.28 186.39 L446.62 186.39 L446.97 186.39 L447.31 186.39 L447.65 186.39 L448.00 186.39 L448.34 186.40 L448.68 186.40 L449.02 186.40 L449.37 186.40 L449.71 186.40 L450.05 186.40 L450.40 186.40 L450.74 186.40 L451.08 186.40 L451.42 186.41 L451.77 186.41 L452.11 186.41 L452.45 186.41 L452.80 186.41 L453.14 186.41 L453.48 186.41 L453.82 186.41 L454.17 186.41 L454.51 186.41 L454.85 186.41 L455.20 186.42 L455.54 186.42 L455.88 186.42 L456.22 186.42 L456.57 186.42 L456.91 186.42 L457.25 186.42 L457.60 186.42 L457.94 186.42 L458.28 186.42 L458.63 186.42 L458.97 186.42 L459.31 186.42 L459.65 186.42 L460.00 186.43 L460.34 186.43 L460.68 186.43 L461.03 186.43 L461.37 186.43 L461.71 186.43 L462.05 186.43 L462.40 186.43 L462.74 186.43 L463.08 186.43 L463.43 186.43 L463.77 186.43 L464.11 186.43 L464.45 186.43 L464.80 186.43 L465.14 186.43 L465.48 186.44 L465.83 186.44 L466.17 186.44 L466.51 186.44 L466.85 186.44 L467.20 186.44 L467.54 186.44 L467.88 186.44 L468.23 186.44 L468.57 186.44 L468.91 186.44 L469.25 186.44 L469.60 186.44 L469.94 186.44 L470.28 186.44 L470.63 186.44 L470.97 186.44 L471.31 186.44 L471.65 186.44 L472.00 186.44 L472.34 186.45 L472.68 186.45 L473.03 186.45 L473.37 186.45 L473.71 186.45 L474.05 186.45 L474.40 186.45 L474.74 186.45 L475.08 186.45 L475.43 186.45 L475.77 186.45 L476.11 186.45 L476.46 186.45 L476.80 186.45 L477.14 186.45 L477.48 186.45 L477.83 186.45 L478.17 186.45 L478.51 186.45 L478.86 186.45 L479.20 186.45 L479.54 186.45 L479.88 186.45 L480.23 186.45 L480.57 186.45 L480.91 186.45 L481.26 186.45 L481.60 186.46 L481.94 186.46 L482.28 186.46 L482.63 186.46 L482.97 186.46 L483.31 186.46 L483.66 186.46 L484.00 186.46 L484.34 186.46 L484.68 186.46 L485.03 186.46 L485.37 186.46 L485.71 186.46 L486.06 186.46 L486.40 186.46 L486.74 186.46 L487.08 186.46 L487.43 186.46 L487.77 186.46 L488.11 186.46 L488.46 186.46 L488.80 186.46 L489.14 186.46 L489.48 186.46 L489.83 186.46 L490.17 186.46 L490.51 186.46 L490.86 186.46 L491.20 186.46 L491.54 186.46 L491.88 186.46 L492.23 186.46 L492.57 186.46 L492.91 186.46 L493.26 186.46 L493.60 186.46 L493.94 186.46 L494.29 186.46 L494.63 186.47 L494.97 186.47 L495.31 186.47 L495.66 186.47 L496.00 186.47 L496.34 186.47 L496.69 186.47 L497.03 186.47 L497.37 186.47 L497.71 186.47 L498.06 186.47 L498.40 186.47 L498.74 186.47 L499.09 186.47 L499.43 186.47 L499.77 186.47 L500.11 186.47 L500.46 186.47 L500.80 186.47" stroke="#2e8a30" stroke-width="1.9" fill="none" stroke-linejoin="round" stroke-linecap="round" />
<path d="M329.70 186.21 L330.04 186.20 L330.39 186.20 L330.73 186.20 L331.07 186.19 L331.41 186.19 L331.76 186.19 L332.10 186.18 L332.44 186.18 L332.79 186.18 L333.13 186.17 L333.47 186.17 L333.81 186.17 L334.16 186.16 L334.50 186.16 L334.84 186.16 L335.19 186.15 L335.53 186.15 L335.87 186.15 L336.21 186.14 L336.56 186.14 L336.90 186.13 L337.24 186.13 L337.59 186.13 L337.93 186.12 L338.27 186.12 L338.62 186.11 L338.96 186.11 L339.30 186.10 L339.64 186.10 L339.99 186.09 L340.33 186.09 L340.67 186.08 L341.02 186.08 L341.36 186.07 L341.70 186.07 L342.04 186.06 L342.39 186.06 L342.73 186.05 L343.07 186.05 L343.42 186.04 L343.76 186.04 L344.10 186.03 L344.44 186.02 L344.79 186.02 L345.13 186.01 L345.47 186.01 L345.82 186.00 L346.16 185.99 L346.50 185.99 L346.84 185.98 L347.19 185.97 L347.53 185.97 L347.87 185.96 L348.22 185.95 L348.56 185.94 L348.90 185.94 L349.24 185.93 L349.59 185.92 L349.93 185.91 L350.27 185.90 L350.62 185.89 L350.96 185.89 L351.30 185.88 L351.64 185.87 L351.99 185.86 L352.33 185.85 L352.67 185.84 L353.02 185.83 L353.36 185.82 L353.70 185.81 L354.04 185.80 L354.39 185.79 L354.73 185.78 L355.07 185.76 L355.42 185.75 L355.76 185.74 L356.10 185.73 L356.45 185.72 L356.79 185.70 L357.13 185.69 L357.47 185.68 L357.82 185.66 L358.16 185.65 L358.50 185.63 L358.85 185.62 L359.19 185.60 L359.53 185.59 L359.87 185.57 L360.22 185.56 L360.56 185.54 L360.90 185.52 L361.25 185.50 L361.59 185.48 L361.93 185.47 L362.27 185.45 L362.62 185.43 L362.96 185.41 L363.30 185.38 L363.65 185.36 L363.99 185.34 L364.33 185.32 L364.67 185.29 L365.02 185.27 L365.36 185.24 L365.70 185.22 L366.05 185.19 L366.39 185.16 L366.73 185.14 L367.07 185.11 L367.42 185.08 L367.76 185.05 L368.10 185.01 L368.45 184.98 L368.79 184.95 L369.13 184.91 L369.47 184.87 L369.82 184.83 L370.16 184.80 L370.50 184.75 L370.85 184.71 L371.19 184.67 L371.53 184.62 L371.87 184.58 L372.22 184.53 L372.56 184.48 L372.90 184.42 L373.25 184.37 L373.59 184.31 L373.93 184.25 L374.28 184.19 L374.62 184.13 L374.96 184.06 L375.30 183.99 L375.65 183.92 L375.99 183.84 L376.33 183.76 L376.68 183.68 L377.02 183.60 L377.36 183.51 L377.70 183.41 L378.05 183.31 L378.39 183.21 L378.73 183.10 L379.08 182.99 L379.42 182.87 L379.76 182.75 L380.10 182.62 L380.45 182.48 L380.79 182.33 L381.13 182.18 L381.48 182.02 L381.82 181.85 L382.16 181.67 L382.50 181.48 L382.85 181.28 L383.19 181.07 L383.53 180.84 L383.88 180.60 L384.22 180.35 L384.56 180.08 L384.90 179.80 L385.25 179.49 L385.59 179.17 L385.93 178.82 L386.28 178.45 L386.62 178.05 L386.96 177.63 L387.30 177.17 L387.65 176.69 L387.99 176.16 L388.33 175.60 L388.68 174.99 L389.02 174.34 L389.36 173.63 L389.71 172.87 L390.05 172.04 L390.39 171.15 L390.73 170.18 L391.08 169.14 L391.40 168.07 L391.42 168.00 L391.45 167.90 L391.50 167.72 L391.55 167.55 L391.60 167.37 L391.65 167.19 L391.70 167.01 L391.75 166.82 L391.76 166.78 L391.80 166.64 L391.85 166.45 L391.90 166.26 L391.95 166.07 L392.00 165.87 L392.05 165.67 L392.10 165.47 L392.11 165.45 L392.15 165.27 L392.20 165.07 L392.25 164.86 L392.30 164.65 L392.35 164.44 L392.40 164.23 L392.45 164.02 L392.45 164.01 L392.50 163.80 L392.55 163.57 L392.60 163.35 L392.65 163.13 L392.70 162.90 L392.75 162.67 L392.79 162.48 L392.80 162.44 L392.85 162.20 L392.90 161.97 L392.95 161.73 L393.00 161.49 L393.05 161.24 L393.10 160.99 L393.13 160.83 L393.15 160.75 L393.20 160.49 L393.25 160.24 L393.30 159.99 L393.35 159.73 L393.40 159.47 L393.45 159.20 L393.48 159.06 L393.50 158.94 L393.55 158.67 L393.60 158.40 L393.65 158.13 L393.70 157.86 L393.75 157.59 L393.80 157.31 L393.82 157.20 L393.85 157.03 L393.90 156.75 L393.95 156.47 L394.00 156.19 L394.05 155.90 L394.10 155.62 L394.15 155.33 L394.16 155.26 L394.20 155.04 L394.25 154.75 L394.30 154.47 L394.35 154.18 L394.40 153.89 L394.45 153.60 L394.50 153.31 L394.51 153.28 L394.55 153.02 L394.60 152.73 L394.65 152.45 L394.70 152.16 L394.75 151.88 L394.80 151.60 L394.85 151.34 L394.85 151.33 L394.90 151.05 L394.95 150.79 L395.00 150.53 L395.05 150.27 L395.10 150.02 L395.15 149.79 L395.19 149.60 L395.20 149.56 L395.25 149.35 L395.30 149.16 L395.35 148.99 L395.40 148.88 L395.45 149.04 L395.50 149.28 L395.53 149.47 L395.55 149.56 L395.60 149.86 L395.65 150.19 L395.70 150.53 L395.75 150.88 L395.80 151.23 L395.85 151.60 L395.88 151.80 L395.90 151.97 L395.95 152.35 L396.00 152.73 L396.05 153.12 L396.10 153.50 L396.15 153.89 L396.20 154.27 L396.22 154.43 L396.25 154.66 L396.30 155.04 L396.35 155.43 L396.40 155.81 L396.45 156.19 L396.50 156.56 L396.55 156.94 L396.56 157.03 L396.60 157.31 L396.65 157.68 L396.70 158.04 L396.75 158.40 L396.80 158.76 L396.85 159.12 L396.90 159.47 L396.91 159.51 L396.95 159.81 L397.00 160.16 L397.05 160.49 L397.10 160.83 L397.15 161.16 L397.20 161.49 L397.25 161.80 L397.25 161.81 L397.30 162.12 L397.35 162.44 L397.40 162.75 L397.45 163.05 L397.50 163.35 L397.55 163.65 L397.59 163.89 L397.60 163.94 L397.65 164.23 L397.70 164.51 L397.75 164.79 L397.80 165.07 L397.85 165.34 L397.90 165.61 L397.93 165.79 L397.95 165.87 L398.00 166.13 L398.05 166.39 L398.10 166.64 L398.15 166.89 L398.20 167.13 L398.25 167.37 L398.28 167.50 L398.30 167.61 L398.35 167.84 L398.40 168.07 L398.45 168.30 L398.50 168.52 L398.55 168.74 L398.60 168.96 L398.62 169.04 L398.65 169.17 L398.70 169.38 L398.75 169.58 L398.80 169.79 L398.85 169.99 L398.90 170.18 L398.95 170.38 L398.96 170.43 L399.00 170.57 L399.05 170.76 L399.10 170.94 L399.15 171.12 L399.20 171.30 L399.25 171.48 L399.30 171.65 L399.31 171.67 L399.35 171.83 L399.40 171.99 L399.65 172.80 L399.99 173.81 L400.33 174.72 L400.68 175.55 L401.02 176.29 L401.36 176.97 L401.71 177.59 L402.05 178.15 L402.39 178.67 L402.73 179.14 L403.08 179.57 L403.42 179.96 L403.76 180.33 L404.11 180.66 L404.45 180.98 L404.79 181.26 L405.13 181.53 L405.48 181.78 L405.82 182.01 L406.16 182.22 L406.51 182.42 L406.85 182.60 L407.19 182.78 L407.54 182.94 L407.88 183.09 L408.22 183.24 L408.56 183.37 L408.91 183.50 L409.25 183.62 L409.59 183.73 L409.94 183.84 L410.28 183.94 L410.62 184.03 L410.96 184.12 L411.31 184.21 L411.65 184.29 L411.99 184.36 L412.34 184.44 L412.68 184.51 L413.02 184.57 L413.36 184.63 L413.71 184.69 L414.05 184.75 L414.39 184.81 L414.74 184.86 L415.08 184.91 L415.42 184.95 L415.76 185.00 L416.11 185.04 L416.45 185.08 L416.79 185.12 L417.14 185.16 L417.48 185.20 L417.82 185.23 L418.16 185.27 L418.51 185.30 L418.85 185.33 L419.19 185.36 L419.54 185.39 L419.88 185.42 L420.22 185.44 L420.56 185.47 L420.91 185.50 L421.25 185.52 L421.59 185.54 L421.94 185.57 L422.28 185.59 L422.62 185.61 L422.96 185.63 L423.31 185.65 L423.65 185.67 L423.99 185.68 L424.34 185.70 L424.68 185.72 L425.02 185.74 L425.37 185.75 L425.71 185.77 L426.05 185.78 L426.39 185.80 L426.74 185.81 L427.08 185.82 L427.42 185.84 L427.77 185.85 L428.11 185.86 L428.45 185.88 L428.79 185.89 L429.14 185.90 L429.48 185.91 L429.82 185.92 L430.17 185.93 L430.51 185.94 L430.85 185.95 L431.19 185.96 L431.54 185.97 L431.88 185.98 L432.22 185.99 L432.57 186.00 L432.91 186.01 L433.25 186.02 L433.59 186.02 L433.94 186.03 L434.28 186.04 L434.62 186.05 L434.97 186.05 L435.31 186.06 L435.65 186.07 L435.99 186.08 L436.34 186.08 L436.68 186.09 L437.02 186.10 L437.37 186.10 L437.71 186.11 L438.05 186.11 L438.39 186.12 L438.74 186.13 L439.08 186.13 L439.42 186.14 L439.77 186.14 L440.11 186.15 L440.45 186.15 L440.79 186.16 L441.14 186.16 L441.48 186.17 L441.82 186.17 L442.17 186.18 L442.51 186.18 L442.85 186.18 L443.20 186.19 L443.54 186.19 L443.88 186.20 L444.22 186.20 L444.57 186.21 L444.91 186.21 L445.25 186.21 L445.60 186.22 L445.94 186.22 L446.28 186.22 L446.62 186.23 L446.97 186.23 L447.31 186.23 L447.65 186.24 L448.00 186.24 L448.34 186.24 L448.68 186.25 L449.02 186.25 L449.37 186.25 L449.71 186.26 L450.05 186.26 L450.40 186.26 L450.74 186.27 L451.08 186.27 L451.42 186.27 L451.77 186.27 L452.11 186.28 L452.45 186.28 L452.80 186.28 L453.14 186.28 L453.48 186.29 L453.82 186.29 L454.17 186.29 L454.51 186.29 L454.85 186.30 L455.20 186.30 L455.54 186.30 L455.88 186.30 L456.22 186.30 L456.57 186.31 L456.91 186.31 L457.25 186.31 L457.60 186.31 L457.94 186.31 L458.28 186.32 L458.63 186.32 L458.97 186.32 L459.31 186.32 L459.65 186.32 L460.00 186.33 L460.34 186.33 L460.68 186.33 L461.03 186.33 L461.37 186.33 L461.71 186.33 L462.05 186.34 L462.40 186.34 L462.74 186.34 L463.08 186.34 L463.43 186.34 L463.77 186.34 L464.11 186.35 L464.45 186.35 L464.80 186.35 L465.14 186.35 L465.48 186.35 L465.83 186.35 L466.17 186.35 L466.51 186.36 L466.85 186.36 L467.20 186.36 L467.54 186.36 L467.88 186.36 L468.23 186.36 L468.57 186.36 L468.91 186.36 L469.25 186.37 L469.60 186.37 L469.94 186.37 L470.28 186.37 L470.63 186.37 L470.97 186.37 L471.31 186.37 L471.65 186.37 L472.00 186.38 L472.34 186.38 L472.68 186.38 L473.03 186.38 L473.37 186.38 L473.71 186.38 L474.05 186.38 L474.40 186.38 L474.74 186.38 L475.08 186.38 L475.43 186.39 L475.77 186.39 L476.11 186.39 L476.46 186.39 L476.80 186.39 L477.14 186.39 L477.48 186.39 L477.83 186.39 L478.17 186.39 L478.51 186.39 L478.86 186.39 L479.20 186.40 L479.54 186.40 L479.88 186.40 L480.23 186.40 L480.57 186.40 L480.91 186.40 L481.26 186.40 L481.60 186.40 L481.94 186.40 L482.28 186.40 L482.63 186.40 L482.97 186.40 L483.31 186.40 L483.66 186.41 L484.00 186.41 L484.34 186.41 L484.68 186.41 L485.03 186.41 L485.37 186.41 L485.71 186.41 L486.06 186.41 L486.40 186.41 L486.74 186.41 L487.08 186.41 L487.43 186.41 L487.77 186.41 L488.11 186.41 L488.46 186.41 L488.80 186.42 L489.14 186.42 L489.48 186.42 L489.83 186.42 L490.17 186.42 L490.51 186.42 L490.86 186.42 L491.20 186.42 L491.54 186.42 L491.88 186.42 L492.23 186.42 L492.57 186.42 L492.91 186.42 L493.26 186.42 L493.60 186.42 L493.94 186.42 L494.29 186.42 L494.63 186.42 L494.97 186.43 L495.31 186.43 L495.66 186.43 L496.00 186.43 L496.34 186.43 L496.69 186.43 L497.03 186.43 L497.37 186.43 L497.71 186.43 L498.06 186.43 L498.40 186.43 L498.74 186.43 L499.09 186.43 L499.43 186.43 L499.77 186.43 L500.11 186.43 L500.46 186.43 L500.80 186.43" stroke="#1812c4" stroke-width="1.9" fill="none" stroke-linejoin="round" stroke-linecap="round" />
<path d="M329.70 186.00 L330.04 186.00 L330.39 185.99 L330.73 185.99 L331.07 185.99 L331.41 185.98 L331.76 185.98 L332.10 185.98 L332.44 185.97 L332.79 185.97 L333.13 185.97 L333.47 185.96 L333.81 185.96 L334.16 185.96 L334.50 185.95 L334.84 185.95 L335.19 185.94 L335.53 185.94 L335.87 185.94 L336.21 185.93 L336.56 185.93 L336.90 185.92 L337.24 185.92 L337.59 185.92 L337.93 185.91 L338.27 185.91 L338.62 185.90 L338.96 185.90 L339.30 185.89 L339.64 185.89 L339.99 185.88 L340.33 185.88 L340.67 185.87 L341.02 185.87 L341.36 185.86 L341.70 185.86 L342.04 185.85 L342.39 185.85 L342.73 185.84 L343.07 185.84 L343.42 185.83 L343.76 185.83 L344.10 185.82 L344.44 185.82 L344.79 185.81 L345.13 185.81 L345.47 185.80 L345.82 185.80 L346.16 185.79 L346.50 185.78 L346.84 185.78 L347.19 185.77 L347.53 185.76 L347.87 185.76 L348.22 185.75 L348.56 185.75 L348.90 185.74 L349.24 185.73 L349.59 185.73 L349.93 185.72 L350.27 185.71 L350.62 185.70 L350.96 185.70 L351.30 185.69 L351.64 185.68 L351.99 185.68 L352.33 185.67 L352.67 185.66 L353.02 185.65 L353.36 185.64 L353.70 185.64 L354.04 185.63 L354.39 185.62 L354.73 185.61 L355.07 185.60 L355.42 185.59 L355.76 185.58 L356.10 185.58 L356.45 185.57 L356.79 185.56 L357.13 185.55 L357.47 185.54 L357.82 185.53 L358.16 185.52 L358.50 185.51 L358.85 185.50 L359.19 185.49 L359.53 185.47 L359.87 185.46 L360.22 185.45 L360.56 185.44 L360.90 185.43 L361.25 185.42 L361.59 185.41 L361.93 185.39 L362.27 185.38 L362.62 185.37 L362.96 185.36 L363.30 185.34 L363.65 185.33 L363.99 185.31 L364.33 185.30 L364.67 185.29 L365.02 185.27 L365.36 185.26 L365.70 185.24 L366.05 185.23 L366.39 185.21 L366.73 185.19 L367.07 185.18 L367.42 185.16 L367.76 185.14 L368.10 185.13 L368.45 185.11 L368.79 185.09 L369.13 185.07 L369.47 185.05 L369.82 185.03 L370.16 185.01 L370.50 184.99 L370.85 184.97 L371.19 184.95 L371.53 184.93 L371.87 184.91 L372.22 184.88 L372.56 184.86 L372.90 184.83 L373.25 184.81 L373.59 184.78 L373.93 184.76 L374.28 184.73 L374.62 184.70 L374.96 184.68 L375.30 184.65 L375.65 184.62 L375.99 184.59 L376.33 184.56 L376.68 184.52 L377.02 184.49 L377.36 184.46 L377.70 184.42 L378.05 184.39 L378.39 184.35 L378.73 184.31 L379.08 184.27 L379.42 184.23 L379.76 184.19 L380.10 184.15 L380.45 184.10 L380.79 184.06 L381.13 184.01 L381.48 183.96 L381.82 183.91 L382.16 183.86 L382.50 183.81 L382.85 183.75 L383.19 183.69 L383.53 183.63 L383.88 183.57 L384.22 183.51 L384.56 183.44 L384.90 183.37 L385.25 183.30 L385.59 183.23 L385.93 183.15 L386.28 183.07 L386.62 182.99 L386.96 182.90 L387.30 182.81 L387.65 182.72 L387.99 182.62 L388.33 182.52 L388.68 182.41 L389.02 182.30 L389.36 182.18 L389.71 182.06 L390.05 181.93 L390.39 181.79 L390.73 181.65 L391.08 181.50 L391.42 181.35 L391.76 181.18 L392.11 181.01 L392.45 180.82 L392.79 180.63 L393.13 180.42 L393.48 180.20 L393.82 179.97 L394.16 179.73 L394.51 179.47 L394.85 179.19 L395.19 178.89 L395.53 178.57 L395.88 178.23 L396.22 177.86 L396.56 177.47 L396.91 177.04 L397.25 176.58 L397.59 176.08 L397.93 175.54 L398.28 174.95 L398.62 174.30 L398.96 173.59 L399.31 172.81 L399.65 171.95 L399.99 171.00 L400.33 169.93 L400.68 168.74 L401.02 167.39 L401.30 166.16 L401.35 165.93 L401.36 165.87 L401.40 165.69 L401.45 165.45 L401.50 165.20 L401.55 164.95 L401.60 164.69 L401.65 164.43 L401.70 164.16 L401.71 164.13 L401.75 163.89 L401.80 163.61 L401.85 163.33 L401.90 163.04 L401.95 162.74 L402.00 162.44 L402.05 162.14 L402.05 162.13 L402.10 161.81 L402.15 161.49 L402.20 161.16 L402.25 160.82 L402.30 160.48 L402.35 160.13 L402.39 159.83 L402.40 159.77 L402.45 159.40 L402.50 159.02 L402.55 158.63 L402.60 158.24 L402.65 157.83 L402.70 157.42 L402.73 157.13 L402.75 157.00 L402.80 156.56 L402.85 156.12 L402.90 155.66 L402.95 155.19 L403.00 154.71 L403.05 154.22 L403.08 153.94 L403.10 153.71 L403.15 153.19 L403.20 152.66 L403.25 152.11 L403.30 151.55 L403.35 150.97 L403.40 150.38 L403.42 150.13 L403.45 149.77 L403.50 149.14 L403.55 148.49 L403.60 147.83 L403.65 147.14 L403.70 146.44 L403.75 145.71 L403.76 145.52 L403.80 144.96 L403.85 144.19 L403.90 143.40 L403.95 142.58 L404.00 141.73 L404.05 140.85 L404.10 139.95 L404.11 139.84 L404.15 139.02 L404.20 138.05 L404.25 137.05 L404.30 136.02 L404.35 134.95 L404.40 133.84 L404.45 132.71 L404.45 132.69 L404.50 131.50 L404.55 130.26 L404.60 128.98 L404.65 127.65 L404.70 126.26 L404.75 124.82 L404.79 123.57 L404.80 123.32 L404.85 121.76 L404.90 120.14 L404.95 118.44 L405.00 116.68 L405.05 114.83 L405.10 112.90 L405.13 111.51 L405.15 110.89 L405.20 108.78 L405.25 106.57 L405.30 104.25 L405.35 106.57 L405.40 108.78 L405.45 110.89 L405.48 112.02 L405.50 112.90 L405.55 114.83 L405.60 116.68 L405.65 118.44 L405.70 120.14 L405.75 121.76 L405.80 123.32 L405.82 123.95 L405.85 124.82 L405.90 126.26 L405.95 127.65 L406.00 128.98 L406.05 130.26 L406.10 131.50 L406.15 132.69 L406.16 133.00 L406.20 133.84 L406.25 134.95 L406.30 136.02 L406.35 137.05 L406.40 138.05 L406.45 139.02 L406.50 139.95 L406.51 140.07 L406.55 140.85 L406.60 141.73 L406.65 142.58 L406.70 143.40 L406.75 144.19 L406.80 144.96 L406.85 145.70 L406.85 145.71 L406.90 146.44 L406.95 147.14 L407.00 147.83 L407.05 148.49 L407.10 149.14 L407.15 149.77 L407.19 150.28 L407.20 150.38 L407.25 150.97 L407.30 151.55 L407.35 152.11 L407.40 152.66 L407.45 153.19 L407.50 153.71 L407.54 154.07 L407.55 154.22 L407.60 154.71 L407.65 155.19 L407.70 155.66 L407.75 156.12 L407.80 156.56 L407.85 157.00 L407.88 157.23 L407.90 157.42 L407.95 157.83 L408.00 158.24 L408.05 158.63 L408.10 159.02 L408.15 159.40 L408.20 159.77 L408.22 159.92 L408.25 160.13 L408.30 160.48 L408.35 160.82 L408.40 161.16 L408.45 161.49 L408.50 161.81 L408.55 162.13 L408.56 162.22 L408.60 162.44 L408.65 162.74 L408.70 163.04 L408.75 163.33 L408.80 163.61 L408.85 163.89 L408.90 164.16 L408.91 164.20 L408.95 164.43 L409.00 164.69 L409.05 164.95 L409.10 165.20 L409.15 165.45 L409.20 165.69 L409.25 165.93 L409.25 165.93 L409.30 166.16 L409.59 167.44 L409.94 168.78 L410.28 169.97 L410.62 171.03 L410.96 171.99 L411.31 172.84 L411.65 173.62 L411.99 174.33 L412.34 174.97 L412.68 175.56 L413.02 176.10 L413.36 176.60 L413.71 177.06 L414.05 177.48 L414.39 177.88 L414.74 178.24 L415.08 178.58 L415.42 178.90 L415.76 179.20 L416.11 179.48 L416.45 179.74 L416.79 179.98 L417.14 180.21 L417.48 180.43 L417.82 180.64 L418.16 180.83 L418.51 181.01 L418.85 181.19 L419.19 181.35 L419.54 181.51 L419.88 181.66 L420.22 181.80 L420.56 181.93 L420.91 182.06 L421.25 182.18 L421.59 182.30 L421.94 182.41 L422.28 182.52 L422.62 182.62 L422.96 182.72 L423.31 182.81 L423.65 182.90 L423.99 182.99 L424.34 183.07 L424.68 183.15 L425.02 183.23 L425.37 183.30 L425.71 183.38 L426.05 183.44 L426.39 183.51 L426.74 183.57 L427.08 183.64 L427.42 183.69 L427.77 183.75 L428.11 183.81 L428.45 183.86 L428.79 183.91 L429.14 183.96 L429.48 184.01 L429.82 184.06 L430.17 184.10 L430.51 184.15 L430.85 184.19 L431.19 184.23 L431.54 184.27 L431.88 184.31 L432.22 184.35 L432.57 184.39 L432.91 184.42 L433.25 184.46 L433.59 184.49 L433.94 184.52 L434.28 184.56 L434.62 184.59 L434.97 184.62 L435.31 184.65 L435.65 184.68 L435.99 184.71 L436.34 184.73 L436.68 184.76 L437.02 184.79 L437.37 184.81 L437.71 184.84 L438.05 184.86 L438.39 184.88 L438.74 184.91 L439.08 184.93 L439.42 184.95 L439.77 184.97 L440.11 184.99 L440.45 185.01 L440.79 185.03 L441.14 185.05 L441.48 185.07 L441.82 185.09 L442.17 185.11 L442.51 185.13 L442.85 185.14 L443.20 185.16 L443.54 185.18 L443.88 185.20 L444.22 185.21 L444.57 185.23 L444.91 185.24 L445.25 185.26 L445.60 185.27 L445.94 185.29 L446.28 185.30 L446.62 185.32 L446.97 185.33 L447.31 185.34 L447.65 185.36 L448.00 185.37 L448.34 185.38 L448.68 185.39 L449.02 185.41 L449.37 185.42 L449.71 185.43 L450.05 185.44 L450.40 185.45 L450.74 185.46 L451.08 185.48 L451.42 185.49 L451.77 185.50 L452.11 185.51 L452.45 185.52 L452.80 185.53 L453.14 185.54 L453.48 185.55 L453.82 185.56 L454.17 185.57 L454.51 185.58 L454.85 185.58 L455.20 185.59 L455.54 185.60 L455.88 185.61 L456.22 185.62 L456.57 185.63 L456.91 185.64 L457.25 185.64 L457.60 185.65 L457.94 185.66 L458.28 185.67 L458.63 185.68 L458.97 185.68 L459.31 185.69 L459.65 185.70 L460.00 185.70 L460.34 185.71 L460.68 185.72 L461.03 185.73 L461.37 185.73 L461.71 185.74 L462.05 185.75 L462.40 185.75 L462.74 185.76 L463.08 185.77 L463.43 185.77 L463.77 185.78 L464.11 185.78 L464.45 185.79 L464.80 185.80 L465.14 185.80 L465.48 185.81 L465.83 185.81 L466.17 185.82 L466.51 185.82 L466.85 185.83 L467.20 185.83 L467.54 185.84 L467.88 185.84 L468.23 185.85 L468.57 185.85 L468.91 185.86 L469.25 185.86 L469.60 185.87 L469.94 185.87 L470.28 185.88 L470.63 185.88 L470.97 185.89 L471.31 185.89 L471.65 185.90 L472.00 185.90 L472.34 185.91 L472.68 185.91 L473.03 185.92 L473.37 185.92 L473.71 185.92 L474.05 185.93 L474.40 185.93 L474.74 185.94 L475.08 185.94 L475.43 185.94 L475.77 185.95 L476.11 185.95 L476.46 185.96 L476.80 185.96 L477.14 185.96 L477.48 185.97 L477.83 185.97 L478.17 185.97 L478.51 185.98 L478.86 185.98 L479.20 185.98 L479.54 185.99 L479.88 185.99 L480.23 185.99 L480.57 186.00 L480.91 186.00 L481.26 186.00 L481.60 186.01 L481.94 186.01 L482.28 186.01 L482.63 186.02 L482.97 186.02 L483.31 186.02 L483.66 186.03 L484.00 186.03 L484.34 186.03 L484.68 186.04 L485.03 186.04 L485.37 186.04 L485.71 186.04 L486.06 186.05 L486.40 186.05 L486.74 186.05 L487.08 186.06 L487.43 186.06 L487.77 186.06 L488.11 186.06 L488.46 186.07 L488.80 186.07 L489.14 186.07 L489.48 186.07 L489.83 186.08 L490.17 186.08 L490.51 186.08 L490.86 186.08 L491.20 186.09 L491.54 186.09 L491.88 186.09 L492.23 186.09 L492.57 186.10 L492.91 186.10 L493.26 186.10 L493.60 186.10 L493.94 186.10 L494.29 186.11 L494.63 186.11 L494.97 186.11 L495.31 186.11 L495.66 186.12 L496.00 186.12 L496.34 186.12 L496.69 186.12 L497.03 186.12 L497.37 186.13 L497.71 186.13 L498.06 186.13 L498.40 186.13 L498.74 186.13 L499.09 186.14 L499.43 186.14 L499.77 186.14 L500.11 186.14 L500.46 186.14 L500.80 186.15" stroke="#dc3030" stroke-width="1.9" fill="none" stroke-linejoin="round" stroke-linecap="round" />
<path d="M329.70 185.94 L330.04 185.93 L330.39 185.93 L330.73 185.93 L331.07 185.93 L331.41 185.92 L331.76 185.92 L332.10 185.92 L332.44 185.91 L332.79 185.91 L333.13 185.91 L333.47 185.90 L333.81 185.90 L334.16 185.90 L334.50 185.89 L334.84 185.89 L335.19 185.89 L335.53 185.88 L335.87 185.88 L336.21 185.88 L336.56 185.87 L336.90 185.87 L337.24 185.87 L337.59 185.86 L337.93 185.86 L338.27 185.86 L338.62 185.85 L338.96 185.85 L339.30 185.84 L339.64 185.84 L339.99 185.84 L340.33 185.83 L340.67 185.83 L341.02 185.82 L341.36 185.82 L341.70 185.82 L342.04 185.81 L342.39 185.81 L342.73 185.80 L343.07 185.80 L343.42 185.80 L343.76 185.79 L344.10 185.79 L344.44 185.78 L344.79 185.78 L345.13 185.77 L345.47 185.77 L345.82 185.76 L346.16 185.76 L346.50 185.75 L346.84 185.75 L347.19 185.74 L347.53 185.74 L347.87 185.73 L348.22 185.73 L348.56 185.72 L348.90 185.72 L349.24 185.71 L349.59 185.71 L349.93 185.70 L350.27 185.70 L350.62 185.69 L350.96 185.69 L351.30 185.68 L351.64 185.68 L351.99 185.67 L352.33 185.66 L352.67 185.66 L353.02 185.65 L353.36 185.65 L353.70 185.64 L354.04 185.63 L354.39 185.63 L354.73 185.62 L355.07 185.62 L355.42 185.61 L355.76 185.60 L356.10 185.60 L356.45 185.59 L356.79 185.58 L357.13 185.57 L357.47 185.57 L357.82 185.56 L358.16 185.55 L358.50 185.55 L358.85 185.54 L359.19 185.53 L359.53 185.52 L359.87 185.52 L360.22 185.51 L360.56 185.50 L360.90 185.49 L361.25 185.48 L361.59 185.47 L361.93 185.47 L362.27 185.46 L362.62 185.45 L362.96 185.44 L363.30 185.43 L363.65 185.42 L363.99 185.41 L364.33 185.40 L364.67 185.39 L365.02 185.38 L365.36 185.37 L365.70 185.36 L366.05 185.35 L366.39 185.34 L366.73 185.33 L367.07 185.32 L367.42 185.31 L367.76 185.30 L368.10 185.29 L368.45 185.28 L368.79 185.27 L369.13 185.25 L369.47 185.24 L369.82 185.23 L370.16 185.22 L370.50 185.20 L370.85 185.19 L371.19 185.18 L371.53 185.17 L371.87 185.15 L372.22 185.14 L372.56 185.12 L372.90 185.11 L373.25 185.09 L373.59 185.08 L373.93 185.06 L374.28 185.05 L374.62 185.03 L374.96 185.02 L375.30 185.00 L375.65 184.98 L375.99 184.97 L376.33 184.95 L376.68 184.93 L377.02 184.91 L377.36 184.90 L377.70 184.88 L378.05 184.86 L378.39 184.84 L378.73 184.82 L379.08 184.80 L379.42 184.78 L379.76 184.76 L380.10 184.73 L380.45 184.71 L380.79 184.69 L381.13 184.67 L381.48 184.64 L381.82 184.62 L382.16 184.59 L382.50 184.57 L382.85 184.54 L383.19 184.51 L383.53 184.49 L383.88 184.46 L384.22 184.43 L384.56 184.40 L384.90 184.37 L385.25 184.34 L385.59 184.31 L385.93 184.27 L386.28 184.24 L386.62 184.21 L386.96 184.17 L387.30 184.13 L387.65 184.10 L387.99 184.06 L388.33 184.02 L388.68 183.98 L389.02 183.93 L389.36 183.89 L389.71 183.85 L390.05 183.80 L390.39 183.75 L390.73 183.70 L391.08 183.65 L391.42 183.60 L391.76 183.55 L392.11 183.49 L392.45 183.43 L392.79 183.37 L393.13 183.31 L393.48 183.25 L393.82 183.18 L394.16 183.11 L394.51 183.04 L394.85 182.97 L395.19 182.89 L395.53 182.81 L395.88 182.73 L396.22 182.65 L396.56 182.56 L396.91 182.46 L397.25 182.37 L397.59 182.26 L397.93 182.16 L398.28 182.05 L398.62 181.93 L398.96 181.81 L399.31 181.68 L399.65 181.55 L399.99 181.41 L400.33 181.26 L400.68 181.11 L401.02 180.94 L401.36 180.77 L401.71 180.59 L402.05 180.40 L402.39 180.19 L402.73 179.98 L403.08 179.75 L403.42 179.50 L403.76 179.24 L404.11 178.97 L404.45 178.67 L404.79 178.35 L405.13 178.01 L405.48 177.64 L405.82 177.24 L406.16 176.81 L406.51 176.34 L406.85 175.84 L407.19 175.28 L407.54 174.67 L407.88 174.00 L408.22 173.26 L408.56 172.44 L408.91 171.52 L409.25 170.50 L409.59 169.34 L409.94 168.02 L410.28 166.52 L410.62 164.78 L410.70 164.34 L410.75 164.06 L410.80 163.77 L410.85 163.47 L410.90 163.16 L410.95 162.85 L410.96 162.76 L411.00 162.53 L411.05 162.20 L411.10 161.86 L411.15 161.52 L411.20 161.16 L411.25 160.80 L411.30 160.43 L411.31 160.38 L411.35 160.05 L411.40 159.66 L411.45 159.25 L411.50 158.84 L411.55 158.42 L411.60 157.98 L411.65 157.54 L411.65 157.54 L411.70 157.08 L411.75 156.60 L411.80 156.12 L411.85 155.61 L411.90 155.10 L411.95 154.57 L411.99 154.10 L412.00 154.02 L412.05 153.46 L412.10 152.87 L412.15 152.27 L412.20 151.66 L412.25 151.02 L412.30 150.36 L412.34 149.87 L412.35 149.67 L412.40 148.97 L412.45 148.24 L412.50 147.48 L412.55 146.70 L412.60 145.89 L412.65 145.05 L412.68 144.56 L412.70 144.18 L412.75 143.27 L412.80 142.34 L412.85 141.36 L412.90 140.35 L412.95 139.29 L413.00 138.19 L413.02 137.71 L413.05 137.05 L413.10 135.85 L413.15 134.61 L413.20 133.31 L413.25 131.95 L413.30 130.52 L413.35 129.03 L413.36 128.60 L413.40 127.47 L413.45 125.83 L413.50 124.11 L413.55 122.31 L413.60 120.40 L413.65 118.40 L413.70 116.28 L413.71 115.98 L413.75 114.05 L413.80 111.68 L413.85 109.18 L413.90 106.53 L413.95 103.70 L414.00 100.70 L414.05 97.51 L414.05 97.50 L414.10 94.08 L414.15 90.43 L414.20 86.51 L414.25 82.29 L414.30 77.75 L414.35 72.85 L414.39 68.34 L414.40 67.55 L414.45 61.79 L414.50 55.52 L414.55 48.67 L414.60 41.16 L414.65 32.89 L414.70 23.75 L414.74 30.75 L414.75 33.42 L414.80 42.16 L414.85 50.11 L414.90 57.35 L414.95 63.97 L415.00 70.05 L415.05 75.63 L415.08 78.63 L415.10 80.79 L415.15 85.56 L415.20 89.98 L415.25 94.09 L415.30 97.91 L415.35 101.48 L415.40 104.81 L415.42 106.17 L415.45 107.93 L415.50 110.86 L415.55 113.61 L415.60 116.20 L415.65 118.64 L415.70 120.94 L415.75 123.11 L415.76 123.71 L415.80 125.17 L415.85 127.11 L415.90 128.96 L415.95 130.71 L416.00 132.38 L416.05 133.96 L416.10 135.47 L416.11 135.68 L416.15 136.91 L416.20 138.28 L416.25 139.59 L416.30 140.84 L416.35 142.03 L416.40 143.18 L416.45 144.28 L416.45 144.28 L416.50 145.33 L416.55 146.34 L416.60 147.30 L416.65 148.23 L416.70 149.13 L416.75 149.99 L416.79 150.70 L416.80 150.81 L416.85 151.61 L416.90 152.37 L416.95 153.11 L417.00 153.83 L417.05 154.51 L417.10 155.18 L417.14 155.64 L417.15 155.82 L417.20 156.44 L417.25 157.04 L417.30 157.62 L417.35 158.18 L417.40 158.72 L417.45 159.25 L417.48 159.54 L417.50 159.76 L417.55 160.25 L417.60 160.73 L417.65 161.19 L417.70 161.64 L417.75 162.08 L417.80 162.51 L417.82 162.69 L417.85 162.92 L417.90 163.32 L417.95 163.71 L418.00 164.09 L418.05 164.46 L418.10 164.82 L418.15 165.16 L418.16 165.26 L418.20 165.50 L418.25 165.83 L418.30 166.16 L418.35 166.47 L418.40 166.78 L418.45 167.07 L418.50 167.36 L418.51 167.41 L418.55 167.65 L418.60 167.92 L418.65 168.19 L418.70 168.46 L418.85 169.21 L419.19 170.75 L419.54 172.07 L419.88 173.22 L420.22 174.22 L420.56 175.11 L420.91 175.89 L421.25 176.58 L421.59 177.21 L421.94 177.77 L422.28 178.28 L422.62 178.73 L422.96 179.15 L423.31 179.53 L423.65 179.88 L423.99 180.21 L424.34 180.50 L424.68 180.78 L425.02 181.03 L425.37 181.27 L425.71 181.48 L426.05 181.69 L426.39 181.88 L426.74 182.06 L427.08 182.22 L427.42 182.38 L427.77 182.53 L428.11 182.67 L428.45 182.80 L428.79 182.92 L429.14 183.04 L429.48 183.15 L429.82 183.26 L430.17 183.36 L430.51 183.45 L430.85 183.54 L431.19 183.63 L431.54 183.71 L431.88 183.78 L432.22 183.86 L432.57 183.93 L432.91 184.00 L433.25 184.06 L433.59 184.12 L433.94 184.18 L434.28 184.24 L434.62 184.30 L434.97 184.35 L435.31 184.40 L435.65 184.45 L435.99 184.49 L436.34 184.54 L436.68 184.58 L437.02 184.62 L437.37 184.67 L437.71 184.70 L438.05 184.74 L438.39 184.78 L438.74 184.81 L439.08 184.85 L439.42 184.88 L439.77 184.91 L440.11 184.94 L440.45 184.97 L440.79 185.00 L441.14 185.03 L441.48 185.05 L441.82 185.08 L442.17 185.11 L442.51 185.13 L442.85 185.15 L443.20 185.18 L443.54 185.20 L443.88 185.22 L444.22 185.24 L444.57 185.26 L444.91 185.28 L445.25 185.30 L445.60 185.32 L445.94 185.34 L446.28 185.36 L446.62 185.38 L446.97 185.39 L447.31 185.41 L447.65 185.43 L448.00 185.44 L448.34 185.46 L448.68 185.47 L449.02 185.49 L449.37 185.50 L449.71 185.52 L450.05 185.53 L450.40 185.55 L450.74 185.56 L451.08 185.57 L451.42 185.58 L451.77 185.60 L452.11 185.61 L452.45 185.62 L452.80 185.63 L453.14 185.64 L453.48 185.65 L453.82 185.66 L454.17 185.68 L454.51 185.69 L454.85 185.70 L455.20 185.71 L455.54 185.72 L455.88 185.72 L456.22 185.73 L456.57 185.74 L456.91 185.75 L457.25 185.76 L457.60 185.77 L457.94 185.78 L458.28 185.79 L458.63 185.79 L458.97 185.80 L459.31 185.81 L459.65 185.82 L460.00 185.83 L460.34 185.83 L460.68 185.84 L461.03 185.85 L461.37 185.85 L461.71 185.86 L462.05 185.87 L462.40 185.87 L462.74 185.88 L463.08 185.89 L463.43 185.89 L463.77 185.90 L464.11 185.91 L464.45 185.91 L464.80 185.92 L465.14 185.92 L465.48 185.93 L465.83 185.93 L466.17 185.94 L466.51 185.95 L466.85 185.95 L467.20 185.96 L467.54 185.96 L467.88 185.97 L468.23 185.97 L468.57 185.98 L468.91 185.98 L469.25 185.99 L469.60 185.99 L469.94 186.00 L470.28 186.00 L470.63 186.00 L470.97 186.01 L471.31 186.01 L471.65 186.02 L472.00 186.02 L472.34 186.03 L472.68 186.03 L473.03 186.03 L473.37 186.04 L473.71 186.04 L474.05 186.05 L474.40 186.05 L474.74 186.05 L475.08 186.06 L475.43 186.06 L475.77 186.06 L476.11 186.07 L476.46 186.07 L476.80 186.08 L477.14 186.08 L477.48 186.08 L477.83 186.09 L478.17 186.09 L478.51 186.09 L478.86 186.10 L479.20 186.10 L479.54 186.10 L479.88 186.10 L480.23 186.11 L480.57 186.11 L480.91 186.11 L481.26 186.12 L481.60 186.12 L481.94 186.12 L482.28 186.12 L482.63 186.13 L482.97 186.13 L483.31 186.13 L483.66 186.14 L484.00 186.14 L484.34 186.14 L484.68 186.14 L485.03 186.15 L485.37 186.15 L485.71 186.15 L486.06 186.15 L486.40 186.16 L486.74 186.16 L487.08 186.16 L487.43 186.16 L487.77 186.17 L488.11 186.17 L488.46 186.17 L488.80 186.17 L489.14 186.17 L489.48 186.18 L489.83 186.18 L490.17 186.18 L490.51 186.18 L490.86 186.19 L491.20 186.19 L491.54 186.19 L491.88 186.19 L492.23 186.19 L492.57 186.20 L492.91 186.20 L493.26 186.20 L493.60 186.20 L493.94 186.20 L494.29 186.21 L494.63 186.21 L494.97 186.21 L495.31 186.21 L495.66 186.21 L496.00 186.21 L496.34 186.22 L496.69 186.22 L497.03 186.22 L497.37 186.22 L497.71 186.22 L498.06 186.22 L498.40 186.23 L498.74 186.23 L499.09 186.23 L499.43 186.23 L499.77 186.23 L500.11 186.23 L500.46 186.24 L500.80 186.24" stroke="#000000" stroke-width="1.9" fill="none" stroke-linejoin="round" stroke-linecap="round" />
</g>
<path d="M68.30 388.30 L68.47 388.29 L68.63 388.29 L68.80 388.28 L68.97 388.28 L69.14 388.27 L69.30 388.27 L69.47 388.26 L69.64 388.25 L69.80 388.24 L69.97 388.24 L70.14 388.23 L70.30 388.22 L70.47 388.21 L70.63 388.20 L70.80 388.20 L70.97 388.19 L71.13 388.18 L71.30 388.17 L71.47 388.16 L71.63 388.15 L71.80 388.14 L71.97 388.13 L72.13 388.12 L72.30 388.11 L72.46 388.10 L72.63 388.08 L72.80 388.07 L72.96 388.06 L73.13 388.05 L73.29 388.04 L73.46 388.03 L73.62 388.01 L73.79 388.00 L73.96 387.99 L74.12 387.98 L74.29 387.96 L74.45 387.95 L74.62 387.94 L74.78 387.92 L74.95 387.91 L75.12 387.90 L75.28 387.88 L75.45 387.87 L75.61 387.86 L75.78 387.84 L75.94 387.83 L76.11 387.81 L76.27 387.80 L76.44 387.78 L76.60 387.77 L76.77 387.76 L76.93 387.74 L77.10 387.73 L77.27 387.71 L77.43 387.70 L77.60 387.68 L77.76 387.67 L77.93 387.65 L78.09 387.63 L78.26 387.62 L78.42 387.60 L78.59 387.58 L78.75 387.57 L78.92 387.55 L79.08 387.53 L79.24 387.51 L79.41 387.50 L79.57 387.48 L79.74 387.46 L79.90 387.44 L80.07 387.42 L80.23 387.40 L80.40 387.38 L80.56 387.36 L80.72 387.34 L80.89 387.32 L81.05 387.30 L81.22 387.28 L81.38 387.25 L81.55 387.23 L81.71 387.21 L81.87 387.19 L82.04 387.16 L82.20 387.14 L82.36 387.12 L82.53 387.09 L82.69 387.07 L82.85 387.05 L83.02 387.02 L83.18 387.00 L83.35 386.97 L83.51 386.95 L83.67 386.92 L83.84 386.90 L84.00 386.87 L84.16 386.84 L84.32 386.82 L84.49 386.79 L84.65 386.76 L84.81 386.73 L84.98 386.71 L85.14 386.68 L85.30 386.65 L85.46 386.62 L85.63 386.59 L85.79 386.56 L85.95 386.53 L86.11 386.50 L86.28 386.47 L86.44 386.44 L86.60 386.41 L86.76 386.38 L86.93 386.35 L87.09 386.32 L87.25 386.29 L87.41 386.26 L87.58 386.22 L87.74 386.19 L87.90 386.16 L88.06 386.13 L88.22 386.09 L88.38 386.06 L88.55 386.03 L88.71 385.99 L88.87 385.96 L89.03 385.92 L89.19 385.89 L89.35 385.85 L89.51 385.81 L89.68 385.77 L89.84 385.73 L90.00 385.69 L90.16 385.65 L90.32 385.61 L90.48 385.56 L90.64 385.52 L90.80 385.47 L90.96 385.43 L91.12 385.38 L91.27 385.33 L91.43 385.29 L91.59 385.24 L91.75 385.19 L91.91 385.14 L92.07 385.09 L92.23 385.04 L92.39 384.99 L92.54 384.93 L92.70 384.88 L92.86 384.83 L93.02 384.77 L93.18 384.72 L93.33 384.66 L93.49 384.61 L93.65 384.55 L93.81 384.49 L93.96 384.44 L94.12 384.38 L94.28 384.32 L94.44 384.26 L94.59 384.20 L94.75 384.14 L94.91 384.08 L95.06 384.02 L95.22 383.96 L95.38 383.90 L95.53 383.84 L95.69 383.77 L95.84 383.71 L96.00 383.65 L96.16 383.59 L96.31 383.52 L96.47 383.46 L96.63 383.39 L96.78 383.33 L96.94 383.26 L97.09 383.20 L97.25 383.13 L97.41 383.07 L97.56 383.00 L97.72 382.93 L97.87 382.87 L98.03 382.80 L98.18 382.73 L98.34 382.66 L98.49 382.59 L98.65 382.51 L98.80 382.44 L98.96 382.37 L99.11 382.29 L99.26 382.22 L99.42 382.14 L99.57 382.07 L99.72 381.99 L99.88 381.91 L100.03 381.83 L100.18 381.75 L100.34 381.67 L100.49 381.59 L100.64 381.51 L100.80 381.42 L100.95 381.34 L101.10 381.26 L101.25 381.17 L101.40 381.08 L101.56 381.00 L101.71 380.91 L101.86 380.82 L102.01 380.73 L102.16 380.64 L102.31 380.55 L102.46 380.45 L102.61 380.36 L102.76 380.27 L102.91 380.17 L103.07 380.08 L103.22 379.98 L103.37 379.88 L103.51 379.79 L103.66 379.69 L103.81 379.59 L103.96 379.49 L104.11 379.38 L104.26 379.28 L104.41 379.18 L104.56 379.07 L104.71 378.97 L104.86 378.86 L105.00 378.75 L105.15 378.64 L105.30 378.53 L105.44 378.42 L105.59 378.30 L105.74 378.19 L105.88 378.07 L106.03 377.95 L106.17 377.83 L106.32 377.70 L106.46 377.58 L106.61 377.45 L106.75 377.32 L106.90 377.19 L107.04 377.06 L107.18 376.93 L107.33 376.79 L107.47 376.65 L107.61 376.52 L107.75 376.38 L107.89 376.24 L108.04 376.09 L108.18 375.95 L108.32 375.81 L108.46 375.66 L108.60 375.51 L108.74 375.36 L108.88 375.21 L109.02 375.06 L109.16 374.90 L109.30 374.75 L109.44 374.59 L109.57 374.44 L109.71 374.28 L109.85 374.12 L109.99 373.96 L110.13 373.79 L110.26 373.63 L110.40 373.46 L110.54 373.30 L110.71 373.13 L110.88 372.96 L111.04 372.79 L111.21 372.62 L111.38 372.44 L111.55 372.26 L111.72 372.08 L111.88 371.90 L112.05 371.72 L112.22 371.53 L112.39 371.34 L112.56 371.15 L112.72 370.95 L112.89 370.75 L113.06 370.55 L113.23 370.35 L113.40 370.14 L113.56 369.93 L113.73 369.72 L113.90 369.50 L114.07 369.28 L114.24 369.06 L114.40 368.83 L114.57 368.60 L114.74 368.36 L114.91 368.12 L115.08 367.88 L115.24 367.63 L115.41 367.38 L115.58 367.12 L115.75 366.84 L115.92 366.56 L116.08 366.26 L116.25 365.95 L116.42 365.63 L116.59 365.30 L116.76 364.96 L116.93 364.62 L117.09 364.27 L117.26 363.91 L117.43 363.56 L117.60 363.19 L117.77 362.83 L117.93 362.47 L118.10 362.10 L118.27 361.74 L118.44 361.37 L118.61 361.01 L118.77 360.66 L118.85 360.50 L119.45 360.80 L120.06 361.15 L120.67 361.52 L121.27 361.90 L121.88 362.29 L122.49 362.68 L123.09 363.07 L123.70 363.46 L124.31 363.85 L124.92 364.24 L125.52 364.62 L126.13 365.01 L126.74 365.39 L127.34 365.77 L127.95 366.15 L128.56 366.52 L129.16 366.89 L129.77 367.25 L130.38 367.61 L130.98 367.97 L131.59 368.32 L132.20 368.67 L132.80 369.01 L133.41 369.35 L134.02 369.68 L134.62 370.01 L135.23 370.34 L135.84 370.65 L136.44 370.97 L137.05 371.28 L137.66 371.59 L138.26 371.89 L138.87 372.18 L139.48 372.47 L140.09 372.76 L140.69 373.04 L141.30 373.32 L141.91 373.59 L142.51 373.86 L143.12 374.13 L143.73 374.38 L144.33 374.64 L144.94 374.89 L145.55 375.14 L146.15 375.38 L146.76 375.62 L147.37 375.85 L147.97 376.08 L148.58 376.31 L149.19 376.53 L149.79 376.75 L150.40 376.96 L151.01 377.17 L151.61 377.37 L152.22 377.58 L152.83 377.78 L153.43 377.97 L154.04 378.16 L154.65 378.35 L155.26 378.53 L155.86 378.71 L156.47 378.89 L157.08 379.06 L157.68 379.23 L158.29 379.40 L158.90 379.57 L159.50 379.73 L160.11 379.88 L160.72 380.04 L161.32 380.19 L161.93 380.34 L162.54 380.48 L163.14 380.63 L163.75 380.77 L164.36 380.91 L164.96 381.04 L165.57 381.17 L166.18 381.30 L166.78 381.43 L167.39 381.55 L168.00 381.67 L168.60 381.79 L169.21 381.91 L169.82 382.02 L170.43 382.14 L171.03 382.25 L171.64 382.35 L172.25 382.46 L172.85 382.56 L173.46 382.66 L174.07 382.76 L174.67 382.86 L175.28 382.95 L175.89 383.05 L176.49 383.14 L177.10 383.23 L177.71 383.32 L178.31 383.40 L178.92 383.48 L179.53 383.57 L180.13 383.65 L180.74 383.73 L181.35 383.80 L181.95 383.88 L182.56 383.95 L183.17 384.02 L183.77 384.09 L184.38 384.16 L184.99 384.23 L185.60 384.30 L186.20 384.36 L186.81 384.43 L187.42 384.49 L188.02 384.55 L188.63 384.61 L189.24 384.67 L189.84 384.72 L190.45 384.78 L191.06 384.83 L191.66 384.89 L192.27 384.94 L192.88 384.99 L193.48 385.04 L194.09 385.09 L194.70 385.14 L195.30 385.18 L195.91 385.23 L196.52 385.27 L197.12 385.32 L197.73 385.36 L198.34 385.40 L198.94 385.44 L199.55 385.48 L200.16 385.52 L200.76 385.56 L201.37 385.60 L201.98 385.64 L202.59 385.67 L203.19 385.71 L203.80 385.74 L204.41 385.77 L205.01 385.81 L205.62 385.84 L206.23 385.87 L206.83 385.90 L207.44 385.93 L208.05 385.96 L208.65 385.99 L209.26 386.02 L209.87 386.04 L210.47 386.07 L211.08 386.10 L211.69 386.12 L212.29 386.15 L212.90 386.17 L213.51 386.19 L214.11 386.22 L214.72 386.24 L215.33 386.26 L215.93 386.28 L216.54 386.31 L217.15 386.33 L217.76 386.35 L218.36 386.37 L218.97 386.39 L219.58 386.40 L220.18 386.42 L220.79 386.44 L221.40 386.46 L222.00 386.48 L222.61 386.49 L223.22 386.51 L223.82 386.53 L224.43 386.54 L225.04 386.56 L225.64 386.57 L226.25 386.59 L226.86 386.60 L227.46 386.61 L228.07 386.63 L228.68 386.64 L229.28 386.65 L229.89 386.67 L230.50 386.68 L231.10 386.69 L231.71 386.70 L232.32 386.72 L232.93 386.73 L233.53 386.74 L234.14 386.75 L234.75 386.76 L235.35 386.77 L235.96 386.78 L236.57 386.79 L237.17 386.80 L237.78 386.81 L238.39 386.82 L238.99 386.83 L239.60 386.84" stroke="#2e8a30" stroke-width="1.9" fill="none" stroke-linejoin="round" stroke-linecap="round" />
<path d="M68.30 388.30 L68.47 388.29 L68.64 388.29 L68.80 388.28 L68.97 388.28 L69.14 388.27 L69.31 388.27 L69.47 388.26 L69.64 388.25 L69.81 388.24 L69.98 388.24 L70.14 388.23 L70.31 388.22 L70.48 388.21 L70.65 388.20 L70.81 388.20 L70.98 388.19 L71.15 388.18 L71.32 388.17 L71.48 388.16 L71.65 388.15 L71.82 388.14 L71.98 388.13 L72.15 388.12 L72.32 388.11 L72.49 388.10 L72.65 388.08 L72.82 388.07 L72.99 388.06 L73.16 388.05 L73.32 388.04 L73.49 388.03 L73.66 388.01 L73.82 388.00 L73.99 387.99 L74.16 387.98 L74.33 387.96 L74.49 387.95 L74.66 387.94 L74.83 387.92 L74.99 387.91 L75.16 387.90 L75.33 387.88 L75.49 387.87 L75.66 387.86 L75.83 387.84 L76.00 387.83 L76.16 387.81 L76.33 387.80 L76.50 387.78 L76.66 387.77 L76.83 387.76 L77.00 387.74 L77.16 387.73 L77.33 387.71 L77.50 387.70 L77.67 387.68 L77.83 387.67 L78.00 387.65 L78.17 387.63 L78.33 387.62 L78.50 387.60 L78.67 387.58 L78.83 387.57 L79.00 387.55 L79.17 387.53 L79.33 387.51 L79.50 387.50 L79.67 387.48 L79.83 387.46 L80.00 387.44 L80.17 387.42 L80.33 387.40 L80.50 387.38 L80.67 387.36 L80.83 387.34 L81.00 387.32 L81.17 387.30 L81.33 387.28 L81.50 387.25 L81.67 387.23 L81.83 387.21 L82.00 387.19 L82.17 387.16 L82.33 387.14 L82.50 387.12 L82.66 387.09 L82.83 387.07 L83.00 387.05 L83.16 387.02 L83.33 387.00 L83.50 386.97 L83.66 386.95 L83.83 386.92 L83.99 386.90 L84.16 386.87 L84.33 386.84 L84.49 386.82 L84.66 386.79 L84.82 386.76 L84.99 386.73 L85.16 386.71 L85.32 386.68 L85.49 386.65 L85.65 386.62 L85.82 386.59 L85.99 386.56 L86.15 386.53 L86.32 386.50 L86.48 386.47 L86.65 386.44 L86.82 386.41 L86.98 386.38 L87.15 386.35 L87.31 386.32 L87.48 386.29 L87.64 386.26 L87.81 386.22 L87.98 386.19 L88.14 386.16 L88.31 386.13 L88.47 386.09 L88.64 386.06 L88.80 386.03 L88.97 385.99 L89.14 385.96 L89.30 385.92 L89.47 385.89 L89.63 385.85 L89.80 385.81 L89.96 385.77 L90.13 385.73 L90.29 385.69 L90.46 385.65 L90.62 385.61 L90.79 385.56 L90.95 385.52 L91.12 385.47 L91.28 385.43 L91.45 385.38 L91.61 385.33 L91.77 385.29 L91.94 385.24 L92.10 385.19 L92.27 385.14 L92.43 385.09 L92.60 385.04 L92.76 384.99 L92.93 384.93 L93.09 384.88 L93.25 384.83 L93.42 384.77 L93.58 384.72 L93.75 384.66 L93.91 384.61 L94.07 384.55 L94.24 384.49 L94.40 384.44 L94.57 384.38 L94.73 384.32 L94.89 384.26 L95.06 384.20 L95.22 384.14 L95.38 384.08 L95.55 384.02 L95.71 383.96 L95.87 383.90 L96.04 383.84 L96.20 383.77 L96.36 383.71 L96.53 383.65 L96.69 383.59 L96.86 383.52 L97.02 383.46 L97.18 383.39 L97.35 383.33 L97.51 383.26 L97.67 383.20 L97.84 383.13 L98.00 383.07 L98.16 383.00 L98.32 382.93 L98.49 382.87 L98.65 382.80 L98.81 382.73 L98.98 382.66 L99.14 382.59 L99.30 382.51 L99.46 382.44 L99.63 382.37 L99.79 382.29 L99.95 382.22 L100.12 382.14 L100.28 382.07 L100.44 381.99 L100.60 381.91 L100.76 381.83 L100.93 381.75 L101.09 381.67 L101.25 381.59 L101.41 381.51 L101.58 381.42 L101.74 381.34 L101.90 381.26 L102.06 381.17 L102.22 381.08 L102.38 381.00 L102.55 380.91 L102.71 380.82 L102.87 380.73 L103.03 380.64 L103.19 380.55 L103.35 380.45 L103.51 380.36 L103.67 380.27 L103.84 380.17 L104.00 380.08 L104.16 379.98 L104.32 379.88 L104.48 379.79 L104.64 379.69 L104.80 379.59 L104.96 379.49 L105.12 379.38 L105.28 379.28 L105.44 379.18 L105.60 379.07 L105.76 378.97 L105.92 378.86 L106.08 378.75 L106.24 378.64 L106.40 378.53 L106.56 378.42 L106.72 378.30 L106.88 378.19 L107.04 378.07 L107.20 377.95 L107.36 377.83 L107.52 377.70 L107.68 377.58 L107.84 377.45 L108.00 377.32 L108.15 377.19 L108.31 377.06 L108.47 376.93 L108.63 376.79 L108.79 376.65 L108.95 376.52 L109.10 376.38 L109.26 376.24 L109.42 376.09 L109.58 375.95 L109.73 375.81 L109.89 375.66 L110.05 375.51 L110.21 375.36 L110.36 375.21 L110.52 375.06 L110.68 374.90 L110.83 374.75 L110.99 374.59 L111.15 374.44 L111.30 374.28 L111.46 374.12 L111.61 373.96 L111.77 373.79 L111.93 373.63 L112.08 373.46 L112.24 373.30 L112.41 373.13 L112.58 372.96 L112.74 372.79 L112.91 372.62 L113.08 372.44 L113.25 372.26 L113.42 372.08 L113.58 371.90 L113.75 371.72 L113.92 371.53 L114.09 371.34 L114.26 371.15 L114.42 370.95 L114.59 370.75 L114.76 370.55 L114.93 370.35 L115.10 370.14 L115.26 369.93 L115.43 369.72 L115.60 369.50 L115.77 369.28 L115.94 369.06 L116.10 368.83 L116.27 368.60 L116.44 368.36 L116.61 368.12 L116.78 367.88 L116.94 367.63 L117.11 367.38 L117.28 367.12 L117.45 366.84 L117.62 366.56 L117.78 366.26 L117.95 365.95 L118.12 365.63 L118.29 365.30 L118.46 364.96 L118.63 364.62 L118.79 364.27 L118.96 363.91 L119.13 363.56 L119.30 363.19 L119.47 362.83 L119.63 362.47 L119.80 362.10 L119.97 361.74 L120.14 361.37 L120.31 361.01 L120.47 360.66 L120.64 360.30 L120.81 359.94 L120.98 359.59 L121.15 359.22 L121.31 358.86 L121.48 358.50 L121.65 358.13 L121.82 357.76 L121.99 357.39 L122.15 357.02 L122.32 356.64 L122.49 356.26 L122.66 355.88 L122.83 355.50 L122.99 355.11 L123.16 354.73 L123.33 354.33 L123.50 353.94 L123.67 353.54 L123.83 353.13 L124.00 352.72 L124.17 352.29 L124.34 351.86 L124.51 351.43 L124.68 350.99 L124.84 350.55 L125.01 350.11 L125.18 349.68 L125.35 349.24 L125.52 348.81 L125.68 348.39 L125.85 347.97 L126.02 347.56 L126.19 347.16 L126.36 346.77 L126.52 346.40 L126.69 346.03 L126.86 345.67 L127.03 345.32 L127.20 344.98 L127.36 344.65 L127.53 344.32 L127.70 343.99 L127.87 343.67 L128.04 343.35 L128.20 343.04 L128.37 342.72 L128.54 342.41 L128.71 342.10 L128.88 341.79 L129.04 341.48 L129.21 341.16 L129.38 340.84 L129.55 340.52 L129.72 340.19 L129.88 339.86 L130.05 339.52 L130.22 339.18 L130.39 338.83 L130.56 338.47 L130.73 338.10 L130.89 337.72 L130.99 337.50 L131.54 337.89 L132.08 338.37 L132.63 338.90 L133.17 339.45 L133.72 340.03 L134.26 340.61 L134.81 341.21 L135.36 341.82 L135.90 342.43 L136.45 343.04 L136.99 343.65 L137.54 344.27 L138.09 344.89 L138.63 345.51 L139.18 346.12 L139.72 346.73 L140.27 347.35 L140.81 347.95 L141.36 348.56 L141.91 349.16 L142.45 349.76 L143.00 350.35 L143.54 350.94 L144.09 351.52 L144.63 352.10 L145.18 352.67 L145.73 353.23 L146.27 353.80 L146.82 354.35 L147.36 354.90 L147.91 355.44 L148.45 355.98 L149.00 356.51 L149.55 357.03 L150.09 357.55 L150.64 358.06 L151.18 358.57 L151.73 359.07 L152.28 359.56 L152.82 360.04 L153.37 360.52 L153.91 361.00 L154.46 361.46 L155.00 361.92 L155.55 362.37 L156.10 362.82 L156.64 363.26 L157.19 363.70 L157.73 364.12 L158.28 364.54 L158.82 364.96 L159.37 365.37 L159.92 365.77 L160.46 366.16 L161.01 366.55 L161.55 366.94 L162.10 367.32 L162.65 367.69 L163.19 368.05 L163.74 368.41 L164.28 368.77 L164.83 369.11 L165.37 369.46 L165.92 369.79 L166.47 370.13 L167.01 370.45 L167.56 370.77 L168.10 371.09 L168.65 371.40 L169.19 371.70 L169.74 372.00 L170.29 372.29 L170.83 372.58 L171.38 372.86 L171.92 373.14 L172.47 373.42 L173.01 373.69 L173.56 373.95 L174.11 374.21 L174.65 374.47 L175.20 374.72 L175.74 374.96 L176.29 375.20 L176.84 375.44 L177.38 375.67 L177.93 375.90 L178.47 376.12 L179.02 376.34 L179.56 376.56 L180.11 376.77 L180.66 376.98 L181.20 377.19 L181.75 377.39 L182.29 377.58 L182.84 377.77 L183.38 377.96 L183.93 378.15 L184.48 378.33 L185.02 378.51 L185.57 378.69 L186.11 378.86 L186.66 379.03 L187.21 379.19 L187.75 379.35 L188.30 379.51 L188.84 379.67 L189.39 379.82 L189.93 379.97 L190.48 380.12 L191.03 380.26 L191.57 380.40 L192.12 380.54 L192.66 380.68 L193.21 380.81 L193.75 380.94 L194.30 381.07 L194.85 381.19 L195.39 381.32 L195.94 381.44 L196.48 381.55 L197.03 381.67 L197.57 381.78 L198.12 381.89 L198.67 382.00 L199.21 382.11 L199.76 382.21 L200.30 382.31 L200.85 382.41 L201.40 382.51 L201.94 382.61 L202.49 382.70 L203.03 382.79 L203.58 382.88 L204.12 382.97 L204.67 383.06 L205.22 383.14 L205.76 383.22 L206.31 383.31 L206.85 383.38 L207.40 383.46 L207.94 383.54 L208.49 383.61 L209.04 383.69 L209.58 383.76 L210.13 383.83 L210.67 383.90 L211.22 383.96 L211.77 384.03 L212.31 384.09 L212.86 384.15 L213.40 384.22 L213.95 384.28 L214.49 384.33 L215.04 384.39 L215.59 384.45 L216.13 384.50 L216.68 384.56 L217.22 384.61 L217.77 384.66 L218.31 384.71 L218.86 384.76 L219.41 384.81 L219.95 384.86 L220.50 384.90 L221.04 384.95 L221.59 384.99 L222.14 385.04 L222.68 385.08 L223.23 385.12 L223.77 385.16 L224.32 385.20 L224.86 385.24 L225.41 385.28 L225.96 385.31 L226.50 385.35 L227.05 385.39 L227.59 385.42 L228.14 385.45 L228.68 385.49 L229.23 385.52 L229.78 385.55 L230.32 385.58 L230.87 385.61 L231.41 385.64 L231.96 385.67 L232.50 385.70 L233.05 385.73 L233.60 385.75 L234.14 385.78 L234.69 385.81 L235.23 385.83 L235.78 385.86 L236.33 385.88 L236.87 385.90 L237.42 385.93 L237.96 385.95 L238.51 385.97 L239.05 385.99 L239.60 386.01" stroke="#1812c4" stroke-width="1.9" fill="none" stroke-linejoin="round" stroke-linecap="round" />
<path d="M68.30 388.30 L68.47 388.29 L68.64 388.29 L68.80 388.28 L68.97 388.28 L69.14 388.27 L69.31 388.27 L69.48 388.26 L69.64 388.25 L69.81 388.24 L69.98 388.24 L70.15 388.23 L70.32 388.22 L70.48 388.21 L70.65 388.20 L70.82 388.20 L70.99 388.19 L71.16 388.18 L71.32 388.17 L71.49 388.16 L71.66 388.15 L71.83 388.14 L71.99 388.13 L72.16 388.12 L72.33 388.11 L72.50 388.10 L72.67 388.08 L72.83 388.07 L73.00 388.06 L73.17 388.05 L73.34 388.04 L73.51 388.03 L73.67 388.01 L73.84 388.00 L74.01 387.99 L74.18 387.98 L74.35 387.96 L74.51 387.95 L74.68 387.94 L74.85 387.92 L75.02 387.91 L75.18 387.90 L75.35 387.88 L75.52 387.87 L75.69 387.86 L75.86 387.84 L76.02 387.83 L76.19 387.81 L76.36 387.80 L76.53 387.78 L76.70 387.77 L76.86 387.76 L77.03 387.74 L77.20 387.73 L77.37 387.71 L77.54 387.70 L77.70 387.68 L77.87 387.67 L78.04 387.65 L78.21 387.63 L78.37 387.62 L78.54 387.60 L78.71 387.58 L78.88 387.57 L79.05 387.55 L79.21 387.53 L79.38 387.51 L79.55 387.50 L79.72 387.48 L79.88 387.46 L80.05 387.44 L80.22 387.42 L80.39 387.40 L80.56 387.38 L80.72 387.36 L80.89 387.34 L81.06 387.32 L81.23 387.30 L81.39 387.28 L81.56 387.25 L81.73 387.23 L81.90 387.21 L82.07 387.19 L82.23 387.16 L82.40 387.14 L82.57 387.12 L82.74 387.09 L82.90 387.07 L83.07 387.05 L83.24 387.02 L83.41 387.00 L83.58 386.97 L83.74 386.95 L83.91 386.92 L84.08 386.90 L84.25 386.87 L84.41 386.84 L84.58 386.82 L84.75 386.79 L84.92 386.76 L85.08 386.73 L85.25 386.71 L85.42 386.68 L85.59 386.65 L85.76 386.62 L85.92 386.59 L86.09 386.56 L86.26 386.53 L86.43 386.50 L86.59 386.47 L86.76 386.44 L86.93 386.41 L87.10 386.38 L87.26 386.35 L87.43 386.32 L87.60 386.29 L87.77 386.26 L87.93 386.22 L88.10 386.19 L88.27 386.16 L88.44 386.13 L88.61 386.09 L88.77 386.06 L88.94 386.03 L89.11 385.99 L89.28 385.96 L89.44 385.92 L89.61 385.89 L89.78 385.85 L89.95 385.81 L90.11 385.77 L90.28 385.73 L90.45 385.69 L90.62 385.65 L90.78 385.61 L90.95 385.56 L91.12 385.52 L91.29 385.47 L91.45 385.43 L91.62 385.38 L91.79 385.33 L91.96 385.29 L92.12 385.24 L92.29 385.19 L92.46 385.14 L92.63 385.09 L92.79 385.04 L92.96 384.99 L93.13 384.93 L93.29 384.88 L93.46 384.83 L93.63 384.77 L93.80 384.72 L93.96 384.66 L94.13 384.61 L94.30 384.55 L94.47 384.49 L94.63 384.44 L94.80 384.38 L94.97 384.32 L95.14 384.26 L95.30 384.20 L95.47 384.14 L95.64 384.08 L95.80 384.02 L95.97 383.96 L96.14 383.90 L96.31 383.84 L96.47 383.77 L96.64 383.71 L96.81 383.65 L96.97 383.59 L97.14 383.52 L97.31 383.46 L97.48 383.39 L97.64 383.33 L97.81 383.26 L97.98 383.20 L98.15 383.13 L98.31 383.07 L98.48 383.00 L98.65 382.93 L98.81 382.87 L98.98 382.80 L99.15 382.73 L99.32 382.66 L99.48 382.59 L99.65 382.51 L99.82 382.44 L99.98 382.37 L100.15 382.29 L100.32 382.22 L100.48 382.14 L100.65 382.07 L100.82 381.99 L100.99 381.91 L101.15 381.83 L101.32 381.75 L101.49 381.67 L101.65 381.59 L101.82 381.51 L101.99 381.42 L102.15 381.34 L102.32 381.26 L102.49 381.17 L102.66 381.08 L102.82 381.00 L102.99 380.91 L103.16 380.82 L103.32 380.73 L103.49 380.64 L103.66 380.55 L103.82 380.45 L103.99 380.36 L104.16 380.27 L104.32 380.17 L104.49 380.08 L104.66 379.98 L104.82 379.88 L104.99 379.79 L105.16 379.69 L105.32 379.59 L105.49 379.49 L105.66 379.38 L105.82 379.28 L105.99 379.18 L106.16 379.07 L106.32 378.97 L106.49 378.86 L106.66 378.75 L106.82 378.64 L106.99 378.53 L107.16 378.42 L107.32 378.30 L107.49 378.19 L107.66 378.07 L107.82 377.95 L107.99 377.83 L108.16 377.70 L108.32 377.58 L108.49 377.45 L108.66 377.32 L108.82 377.19 L108.99 377.06 L109.15 376.93 L109.32 376.79 L109.49 376.65 L109.65 376.52 L109.82 376.38 L109.99 376.24 L110.15 376.09 L110.32 375.95 L110.48 375.81 L110.65 375.66 L110.82 375.51 L110.98 375.36 L111.15 375.21 L111.31 375.06 L111.48 374.90 L111.65 374.75 L111.81 374.59 L111.98 374.44 L112.14 374.28 L112.31 374.12 L112.48 373.96 L112.64 373.79 L112.81 373.63 L112.97 373.46 L113.14 373.30 L113.31 373.13 L113.48 372.96 L113.64 372.79 L113.81 372.62 L113.98 372.44 L114.15 372.26 L114.32 372.08 L114.48 371.90 L114.65 371.72 L114.82 371.53 L114.99 371.34 L115.16 371.15 L115.32 370.95 L115.49 370.75 L115.66 370.55 L115.83 370.35 L116.00 370.14 L116.16 369.93 L116.33 369.72 L116.50 369.50 L116.67 369.28 L116.84 369.06 L117.00 368.83 L117.17 368.60 L117.34 368.36 L117.51 368.12 L117.68 367.88 L117.84 367.63 L118.01 367.38 L118.18 367.12 L118.35 366.84 L118.52 366.56 L118.68 366.26 L118.85 365.95 L119.02 365.63 L119.19 365.30 L119.36 364.96 L119.53 364.62 L119.69 364.27 L119.86 363.91 L120.03 363.56 L120.20 363.19 L120.37 362.83 L120.53 362.47 L120.70 362.10 L120.87 361.74 L121.04 361.37 L121.21 361.01 L121.37 360.66 L121.54 360.30 L121.71 359.94 L121.88 359.59 L122.05 359.22 L122.21 358.86 L122.38 358.50 L122.55 358.13 L122.72 357.76 L122.89 357.39 L123.05 357.02 L123.22 356.64 L123.39 356.26 L123.56 355.88 L123.73 355.50 L123.89 355.11 L124.06 354.73 L124.23 354.33 L124.40 353.94 L124.57 353.54 L124.73 353.13 L124.90 352.72 L125.07 352.29 L125.24 351.86 L125.41 351.43 L125.58 350.99 L125.74 350.55 L125.91 350.11 L126.08 349.68 L126.25 349.24 L126.42 348.81 L126.58 348.39 L126.75 347.97 L126.92 347.56 L127.09 347.16 L127.26 346.77 L127.42 346.40 L127.59 346.03 L127.76 345.67 L127.93 345.32 L128.10 344.98 L128.26 344.65 L128.43 344.32 L128.60 343.99 L128.77 343.67 L128.94 343.35 L129.10 343.04 L129.27 342.72 L129.44 342.41 L129.61 342.10 L129.78 341.79 L129.94 341.48 L130.11 341.16 L130.28 340.84 L130.45 340.52 L130.62 340.19 L130.78 339.86 L130.95 339.52 L131.12 339.18 L131.29 338.83 L131.46 338.47 L131.63 338.10 L131.79 337.72 L131.96 337.33 L132.13 336.93 L132.30 336.52 L132.47 336.09 L132.63 335.65 L132.80 335.19 L132.97 334.70 L133.14 334.21 L133.31 333.69 L133.47 333.16 L133.64 332.62 L133.81 332.06 L133.98 331.50 L134.15 330.92 L134.31 330.33 L134.48 329.74 L134.65 329.14 L134.82 328.54 L134.99 327.93 L135.15 327.32 L135.32 326.71 L135.49 326.10 L135.66 325.49 L135.83 324.86 L135.99 324.22 L136.16 323.56 L136.33 322.89 L136.50 322.21 L136.67 321.53 L136.83 320.84 L137.00 320.15 L137.17 319.46 L137.34 318.77 L137.51 318.09 L137.68 317.42 L137.84 316.75 L138.01 316.11 L138.18 315.48 L138.35 314.86 L138.52 314.27 L138.68 313.69 L138.85 313.12 L139.02 312.56 L139.19 312.01 L139.36 311.47 L139.52 310.93 L139.69 310.38 L139.86 309.84 L140.03 309.29 L140.20 308.73 L140.36 308.16 L140.53 307.58 L140.70 306.98 L140.87 306.37 L141.04 305.74 L141.20 305.08 L141.37 304.41 L141.54 303.71 L141.71 303.00 L141.88 302.28 L141.89 302.20 L142.38 302.71 L142.87 303.35 L143.36 304.05 L143.85 304.79 L144.35 305.56 L144.84 306.35 L145.33 307.16 L145.82 307.98 L146.31 308.81 L146.80 309.65 L147.29 310.50 L147.78 311.35 L148.27 312.20 L148.76 313.06 L149.26 313.92 L149.75 314.78 L150.24 315.64 L150.73 316.50 L151.22 317.35 L151.71 318.21 L152.20 319.06 L152.69 319.91 L153.18 320.75 L153.67 321.59 L154.17 322.43 L154.66 323.26 L155.15 324.09 L155.64 324.91 L156.13 325.72 L156.62 326.53 L157.11 327.34 L157.60 328.14 L158.09 328.93 L158.58 329.71 L159.08 330.49 L159.57 331.26 L160.06 332.03 L160.55 332.79 L161.04 333.54 L161.53 334.28 L162.02 335.02 L162.51 335.75 L163.00 336.47 L163.49 337.19 L163.99 337.90 L164.48 338.60 L164.97 339.29 L165.46 339.98 L165.95 340.66 L166.44 341.33 L166.93 341.99 L167.42 342.65 L167.91 343.30 L168.40 343.94 L168.90 344.57 L169.39 345.20 L169.88 345.82 L170.37 346.43 L170.86 347.04 L171.35 347.63 L171.84 348.22 L172.33 348.81 L172.82 349.38 L173.31 349.95 L173.81 350.51 L174.30 351.06 L174.79 351.61 L175.28 352.15 L175.77 352.68 L176.26 353.21 L176.75 353.73 L177.24 354.24 L177.73 354.74 L178.22 355.24 L178.72 355.73 L179.21 356.22 L179.70 356.70 L180.19 357.17 L180.68 357.64 L181.17 358.10 L181.66 358.55 L182.15 358.99 L182.64 359.43 L183.13 359.87 L183.63 360.30 L184.12 360.72 L184.61 361.13 L185.10 361.54 L185.59 361.95 L186.08 362.35 L186.57 362.74 L187.06 363.13 L187.55 363.51 L188.04 363.88 L188.54 364.25 L189.03 364.62 L189.52 364.98 L190.01 365.33 L190.50 365.68 L190.99 366.02 L191.48 366.36 L191.97 366.70 L192.46 367.02 L192.95 367.35 L193.45 367.66 L193.94 367.98 L194.43 368.29 L194.92 368.59 L195.41 368.89 L195.90 369.19 L196.39 369.48 L196.88 369.76 L197.37 370.04 L197.86 370.32 L198.36 370.59 L198.85 370.86 L199.34 371.12 L199.83 371.38 L200.32 371.64 L200.81 371.89 L201.30 372.14 L201.79 372.38 L202.28 372.62 L202.77 372.86 L203.27 373.09 L203.76 373.32 L204.25 373.54 L204.74 373.77 L205.23 373.98 L205.72 374.20 L206.21 374.41 L206.70 374.62 L207.19 374.82 L207.68 375.02 L208.18 375.22 L208.67 375.41 L209.16 375.60 L209.65 375.79 L210.14 375.97 L210.63 376.16 L211.12 376.33 L211.61 376.51 L212.10 376.68 L212.59 376.85 L213.09 377.02 L213.58 377.18 L214.07 377.34 L214.56 377.50 L215.05 377.66 L215.54 377.81 L216.03 377.96 L216.52 378.11 L217.01 378.26 L217.50 378.40 L218.00 378.54 L218.49 378.68 L218.98 378.81 L219.47 378.95 L219.96 379.08 L220.45 379.21 L220.94 379.34 L221.43 379.46 L221.92 379.58 L222.41 379.70 L222.91 379.82 L223.40 379.94 L223.89 380.05 L224.38 380.16 L224.87 380.28 L225.36 380.38 L225.85 380.49 L226.34 380.59 L226.83 380.70 L227.32 380.80 L227.82 380.90 L228.31 381.00 L228.80 381.09 L229.29 381.19 L229.78 381.28 L230.27 381.37 L230.76 381.46 L231.25 381.54 L231.74 381.63 L232.23 381.72 L232.73 381.80 L233.22 381.88 L233.71 381.96 L234.20 382.04 L234.69 382.12 L235.18 382.19 L235.67 382.27 L236.16 382.34 L236.65 382.41 L237.14 382.48 L237.64 382.55 L238.13 382.62 L238.62 382.69 L239.11 382.75 L239.60 382.82" stroke="#dc3030" stroke-width="1.9" fill="none" stroke-linejoin="round" stroke-linecap="round" />
<path d="M68.30 388.30 L68.47 388.29 L68.64 388.29 L68.81 388.28 L68.97 388.28 L69.14 388.27 L69.31 388.27 L69.48 388.26 L69.65 388.25 L69.82 388.24 L69.98 388.24 L70.15 388.23 L70.32 388.22 L70.49 388.21 L70.66 388.20 L70.83 388.20 L70.99 388.19 L71.16 388.18 L71.33 388.17 L71.50 388.16 L71.67 388.15 L71.84 388.14 L72.01 388.13 L72.18 388.12 L72.34 388.11 L72.51 388.10 L72.68 388.08 L72.85 388.07 L73.02 388.06 L73.19 388.05 L73.36 388.04 L73.52 388.03 L73.69 388.01 L73.86 388.00 L74.03 387.99 L74.20 387.98 L74.37 387.96 L74.54 387.95 L74.71 387.94 L74.87 387.92 L75.04 387.91 L75.21 387.90 L75.38 387.88 L75.55 387.87 L75.72 387.86 L75.89 387.84 L76.06 387.83 L76.22 387.81 L76.39 387.80 L76.56 387.78 L76.73 387.77 L76.90 387.76 L77.07 387.74 L77.24 387.73 L77.41 387.71 L77.58 387.70 L77.74 387.68 L77.91 387.67 L78.08 387.65 L78.25 387.63 L78.42 387.62 L78.59 387.60 L78.76 387.58 L78.93 387.57 L79.10 387.55 L79.26 387.53 L79.43 387.51 L79.60 387.50 L79.77 387.48 L79.94 387.46 L80.11 387.44 L80.28 387.42 L80.45 387.40 L80.62 387.38 L80.79 387.36 L80.96 387.34 L81.12 387.32 L81.29 387.30 L81.46 387.28 L81.63 387.25 L81.80 387.23 L81.97 387.21 L82.14 387.19 L82.31 387.16 L82.48 387.14 L82.65 387.12 L82.82 387.09 L82.99 387.07 L83.16 387.05 L83.33 387.02 L83.49 387.00 L83.66 386.97 L83.83 386.95 L84.00 386.92 L84.17 386.90 L84.34 386.87 L84.51 386.84 L84.68 386.82 L84.85 386.79 L85.02 386.76 L85.19 386.73 L85.36 386.71 L85.53 386.68 L85.70 386.65 L85.87 386.62 L86.04 386.59 L86.21 386.56 L86.38 386.53 L86.55 386.50 L86.72 386.47 L86.89 386.44 L87.05 386.41 L87.22 386.38 L87.39 386.35 L87.56 386.32 L87.73 386.29 L87.90 386.26 L88.07 386.22 L88.24 386.19 L88.41 386.16 L88.58 386.13 L88.75 386.09 L88.92 386.06 L89.09 386.03 L89.26 385.99 L89.43 385.96 L89.60 385.92 L89.77 385.89 L89.94 385.85 L90.11 385.81 L90.28 385.77 L90.45 385.73 L90.62 385.69 L90.79 385.65 L90.96 385.61 L91.13 385.56 L91.30 385.52 L91.47 385.47 L91.64 385.43 L91.82 385.38 L91.99 385.33 L92.16 385.29 L92.33 385.24 L92.50 385.19 L92.67 385.14 L92.84 385.09 L93.01 385.04 L93.18 384.99 L93.35 384.93 L93.52 384.88 L93.69 384.83 L93.86 384.77 L94.04 384.72 L94.21 384.66 L94.38 384.61 L94.55 384.55 L94.72 384.49 L94.89 384.44 L95.06 384.38 L95.23 384.32 L95.40 384.26 L95.58 384.20 L95.75 384.14 L95.92 384.08 L96.09 384.02 L96.26 383.96 L96.43 383.90 L96.60 383.84 L96.77 383.77 L96.95 383.71 L97.12 383.65 L97.29 383.59 L97.46 383.52 L97.63 383.46 L97.80 383.39 L97.97 383.33 L98.15 383.26 L98.32 383.20 L98.49 383.13 L98.66 383.07 L98.83 383.00 L99.00 382.93 L99.18 382.87 L99.35 382.80 L99.52 382.73 L99.69 382.66 L99.86 382.59 L100.04 382.51 L100.21 382.44 L100.38 382.37 L100.55 382.29 L100.72 382.22 L100.90 382.14 L101.07 382.07 L101.24 381.99 L101.41 381.91 L101.58 381.83 L101.76 381.75 L101.93 381.67 L102.10 381.59 L102.27 381.51 L102.45 381.42 L102.62 381.34 L102.79 381.26 L102.96 381.17 L103.14 381.08 L103.31 381.00 L103.48 380.91 L103.65 380.82 L103.83 380.73 L104.00 380.64 L104.17 380.55 L104.35 380.45 L104.52 380.36 L104.69 380.27 L104.87 380.17 L105.04 380.08 L105.21 379.98 L105.39 379.88 L105.56 379.79 L105.73 379.69 L105.91 379.59 L106.08 379.49 L106.25 379.38 L106.43 379.28 L106.60 379.18 L106.77 379.07 L106.95 378.97 L107.12 378.86 L107.29 378.75 L107.47 378.64 L107.64 378.53 L107.82 378.42 L107.99 378.30 L108.16 378.19 L108.34 378.07 L108.51 377.95 L108.69 377.83 L108.86 377.70 L109.04 377.58 L109.21 377.45 L109.39 377.32 L109.56 377.19 L109.74 377.06 L109.91 376.93 L110.09 376.79 L110.26 376.65 L110.44 376.52 L110.61 376.38 L110.79 376.24 L110.96 376.09 L111.14 375.95 L111.32 375.81 L111.49 375.66 L111.67 375.51 L111.84 375.36 L112.02 375.21 L112.20 375.06 L112.37 374.90 L112.55 374.75 L112.73 374.59 L112.90 374.44 L113.08 374.28 L113.26 374.12 L113.43 373.96 L113.61 373.79 L113.79 373.63 L113.96 373.46 L114.14 373.30 L114.31 373.13 L114.48 372.96 L114.64 372.79 L114.81 372.62 L114.98 372.44 L115.15 372.26 L115.32 372.08 L115.48 371.90 L115.65 371.72 L115.82 371.53 L115.99 371.34 L116.16 371.15 L116.32 370.95 L116.49 370.75 L116.66 370.55 L116.83 370.35 L117.00 370.14 L117.16 369.93 L117.33 369.72 L117.50 369.50 L117.67 369.28 L117.84 369.06 L118.00 368.83 L118.17 368.60 L118.34 368.36 L118.51 368.12 L118.68 367.88 L118.84 367.63 L119.01 367.38 L119.18 367.12 L119.35 366.84 L119.52 366.56 L119.68 366.26 L119.85 365.95 L120.02 365.63 L120.19 365.30 L120.36 364.96 L120.53 364.62 L120.69 364.27 L120.86 363.91 L121.03 363.56 L121.20 363.19 L121.37 362.83 L121.53 362.47 L121.70 362.10 L121.87 361.74 L122.04 361.37 L122.21 361.01 L122.37 360.66 L122.54 360.30 L122.71 359.94 L122.88 359.59 L123.05 359.22 L123.21 358.86 L123.38 358.50 L123.55 358.13 L123.72 357.76 L123.89 357.39 L124.05 357.02 L124.22 356.64 L124.39 356.26 L124.56 355.88 L124.73 355.50 L124.89 355.11 L125.06 354.73 L125.23 354.33 L125.40 353.94 L125.57 353.54 L125.73 353.13 L125.90 352.72 L126.07 352.29 L126.24 351.86 L126.41 351.43 L126.58 350.99 L126.74 350.55 L126.91 350.11 L127.08 349.68 L127.25 349.24 L127.42 348.81 L127.58 348.39 L127.75 347.97 L127.92 347.56 L128.09 347.16 L128.26 346.77 L128.42 346.40 L128.59 346.03 L128.76 345.67 L128.93 345.32 L129.10 344.98 L129.26 344.65 L129.43 344.32 L129.60 343.99 L129.77 343.67 L129.94 343.35 L130.10 343.04 L130.27 342.72 L130.44 342.41 L130.61 342.10 L130.78 341.79 L130.94 341.48 L131.11 341.16 L131.28 340.84 L131.45 340.52 L131.62 340.19 L131.78 339.86 L131.95 339.52 L132.12 339.18 L132.29 338.83 L132.46 338.47 L132.63 338.10 L132.79 337.72 L132.96 337.33 L133.13 336.93 L133.30 336.52 L133.47 336.09 L133.63 335.65 L133.80 335.19 L133.97 334.70 L134.14 334.21 L134.31 333.69 L134.47 333.16 L134.64 332.62 L134.81 332.06 L134.98 331.50 L135.15 330.92 L135.31 330.33 L135.48 329.74 L135.65 329.14 L135.82 328.54 L135.99 327.93 L136.15 327.32 L136.32 326.71 L136.49 326.10 L136.66 325.49 L136.83 324.86 L136.99 324.22 L137.16 323.56 L137.33 322.89 L137.50 322.21 L137.67 321.53 L137.83 320.84 L138.00 320.15 L138.17 319.46 L138.34 318.77 L138.51 318.09 L138.68 317.42 L138.84 316.75 L139.01 316.11 L139.18 315.48 L139.35 314.86 L139.52 314.27 L139.68 313.69 L139.85 313.12 L140.02 312.56 L140.19 312.01 L140.36 311.47 L140.52 310.93 L140.69 310.38 L140.86 309.84 L141.03 309.29 L141.20 308.73 L141.36 308.16 L141.53 307.58 L141.70 306.98 L141.87 306.37 L142.04 305.74 L142.20 305.08 L142.37 304.41 L142.54 303.71 L142.71 303.00 L142.88 302.28 L143.04 301.53 L143.21 300.78 L143.38 300.01 L143.55 299.23 L143.72 298.43 L143.88 297.63 L144.05 296.81 L144.22 295.98 L144.39 295.15 L144.56 294.31 L144.73 293.46 L144.89 292.60 L145.06 291.74 L145.23 290.87 L145.40 290.00 L145.57 289.12 L145.73 288.24 L145.90 287.36 L146.07 286.48 L146.24 285.59 L146.41 284.71 L146.57 283.83 L146.74 282.95 L146.91 282.07 L147.08 281.20 L147.25 280.33 L147.41 279.46 L147.58 278.60 L147.75 277.75 L147.92 276.90 L148.09 276.06 L148.25 275.23 L148.42 274.39 L148.59 273.54 L148.76 272.68 L148.93 271.83 L149.09 270.99 L149.26 270.17 L149.43 269.37 L149.60 268.61 L149.77 267.87 L149.93 267.17 L150.10 266.50 L150.27 265.84 L150.44 265.18 L150.61 264.53 L150.78 263.88 L150.94 263.21 L151.11 262.51 L151.28 261.79 L151.45 261.04 L151.62 260.28 L151.78 259.49 L151.95 258.70 L152.12 257.89 L152.29 257.07 L152.46 256.23 L152.62 255.38 L152.79 254.52 L152.96 253.64 L153.10 252.90 L153.53 253.33 L153.97 253.94 L154.40 254.63 L154.84 255.38 L155.27 256.18 L155.71 257.02 L156.14 257.89 L156.58 258.79 L157.01 259.71 L157.45 260.66 L157.88 261.62 L158.32 262.60 L158.75 263.59 L159.19 264.59 L159.62 265.61 L160.05 266.63 L160.49 267.67 L160.92 268.71 L161.36 269.75 L161.79 270.81 L162.23 271.86 L162.66 272.92 L163.10 273.98 L163.53 275.05 L163.97 276.11 L164.40 277.18 L164.84 278.25 L165.27 279.31 L165.71 280.38 L166.14 281.45 L166.57 282.51 L167.01 283.57 L167.44 284.63 L167.88 285.69 L168.31 286.74 L168.75 287.79 L169.18 288.84 L169.62 289.88 L170.05 290.92 L170.49 291.96 L170.92 292.99 L171.36 294.01 L171.79 295.03 L172.23 296.05 L172.66 297.06 L173.09 298.06 L173.53 299.06 L173.96 300.05 L174.40 301.04 L174.83 302.01 L175.27 302.99 L175.70 303.96 L176.14 304.92 L176.57 305.87 L177.01 306.82 L177.44 307.76 L177.88 308.69 L178.31 309.61 L178.75 310.53 L179.18 311.44 L179.62 312.35 L180.05 313.25 L180.48 314.14 L180.92 315.02 L181.35 315.89 L181.79 316.76 L182.22 317.62 L182.66 318.47 L183.09 319.32 L183.53 320.15 L183.96 320.98 L184.40 321.80 L184.83 322.62 L185.27 323.42 L185.70 324.22 L186.14 325.01 L186.57 325.80 L187.00 326.57 L187.44 327.34 L187.87 328.10 L188.31 328.85 L188.74 329.60 L189.18 330.34 L189.61 331.07 L190.05 331.79 L190.48 332.50 L190.92 333.21 L191.35 333.91 L191.79 334.60 L192.22 335.29 L192.66 335.96 L193.09 336.63 L193.52 337.30 L193.96 337.95 L194.39 338.60 L194.83 339.24 L195.26 339.87 L195.70 340.50 L196.13 341.12 L196.57 341.73 L197.00 342.34 L197.44 342.93 L197.87 343.52 L198.31 344.11 L198.74 344.69 L199.18 345.26 L199.61 345.82 L200.04 346.38 L200.48 346.93 L200.91 347.47 L201.35 348.01 L201.78 348.54 L202.22 349.06 L202.65 349.58 L203.09 350.09 L203.52 350.59 L203.96 351.09 L204.39 351.58 L204.83 352.07 L205.26 352.55 L205.70 353.02 L206.13 353.49 L206.56 353.95 L207.00 354.41 L207.43 354.86 L207.87 355.30 L208.30 355.74 L208.74 356.17 L209.17 356.60 L209.61 357.02 L210.04 357.44 L210.48 357.85 L210.91 358.25 L211.35 358.65 L211.78 359.04 L212.22 359.43 L212.65 359.82 L213.08 360.19 L213.52 360.57 L213.95 360.94 L214.39 361.30 L214.82 361.66 L215.26 362.01 L215.69 362.36 L216.13 362.70 L216.56 363.04 L217.00 363.38 L217.43 363.70 L217.87 364.03 L218.30 364.35 L218.74 364.67 L219.17 364.98 L219.61 365.28 L220.04 365.59 L220.47 365.89 L220.91 366.18 L221.34 366.47 L221.78 366.75 L222.21 367.04 L222.65 367.31 L223.08 367.59 L223.52 367.86 L223.95 368.12 L224.39 368.39 L224.82 368.64 L225.26 368.90 L225.69 369.15 L226.13 369.39 L226.56 369.64 L226.99 369.88 L227.43 370.11 L227.86 370.35 L228.30 370.58 L228.73 370.80 L229.17 371.02 L229.60 371.24 L230.04 371.46 L230.47 371.67 L230.91 371.88 L231.34 372.09 L231.78 372.29 L232.21 372.49 L232.65 372.69 L233.08 372.88 L233.51 373.07 L233.95 373.26 L234.38 373.45 L234.82 373.63 L235.25 373.81 L235.69 373.98 L236.12 374.16 L236.56 374.33 L236.99 374.50 L237.43 374.66 L237.86 374.83 L238.30 374.99 L238.73 375.15 L239.17 375.30 L239.60 375.46" stroke="#000000" stroke-width="1.9" fill="none" stroke-linejoin="round" stroke-linecap="round" />
<path d="M329.70 237.90 L330.20 237.90 L330.95 237.90 L331.70 237.90 L332.20 237.90 L332.95 237.90 L333.70 237.90 L334.45 237.90 L334.95 237.90 L335.70 237.90 L336.45 237.90 L337.20 237.90 L337.70 237.90 L338.45 237.90 L339.20 237.90 L339.95 237.90 L340.45 237.90 L341.20 237.90 L341.95 237.90 L342.70 237.90 L343.20 237.90 L343.95 237.90 L344.70 237.90 L345.45 237.90 L345.95 237.90 L346.70 237.91 L347.45 237.91 L348.20 237.92 L348.70 237.92 L349.45 237.93 L350.20 237.94 L350.70 237.94 L351.45 237.95 L352.20 237.97 L352.95 237.98 L353.45 237.99 L354.20 238.00 L354.95 238.01 L355.70 238.02 L356.20 238.03 L356.95 238.05 L357.70 238.06 L358.45 238.07 L358.95 238.08 L359.70 238.09 L360.45 238.11 L361.20 238.12 L361.70 238.13 L362.45 238.14 L363.20 238.15 L363.95 238.16 L364.45 238.17 L365.20 238.18 L365.95 238.20 L366.70 238.21 L367.20 238.22 L367.95 238.24 L368.70 238.26 L369.45 238.29 L369.95 238.31 L370.69 238.35 L371.44 238.40 L371.94 238.44 L372.69 238.51 L373.43 238.60 L374.17 238.70 L374.67 238.77 L375.41 238.89 L376.15 239.02 L376.88 239.16 L377.37 239.26 L378.11 239.42 L378.84 239.58 L379.57 239.76 L380.05 239.88 L380.78 240.07 L381.50 240.26 L382.22 240.47 L382.70 240.61 L383.42 240.84 L384.12 241.08 L384.82 241.36 L385.28 241.55 L385.96 241.87 L386.62 242.22 L387.27 242.59 L387.70 242.85 L388.33 243.26 L388.95 243.68 L389.56 244.11 L389.96 244.41 L390.56 244.86 L391.16 245.31 L391.55 245.62 L392.14 246.09 L392.72 246.56 L393.30 247.03 L393.69 247.35 L394.26 247.84 L394.82 248.33 L395.38 248.83 L395.74 249.18 L396.28 249.70 L396.81 250.23 L397.34 250.76 L397.68 251.13 L398.19 251.68 L398.69 252.23 L399.18 252.80 L399.51 253.18 L399.99 253.76 L400.46 254.34 L400.92 254.93 L401.23 255.32 L401.68 255.92 L402.12 256.53 L402.56 257.14 L402.84 257.55 L403.26 258.17 L403.68 258.79 L404.08 259.43 L404.34 259.85 L404.73 260.49 L405.10 261.14 L405.35 261.58 L405.70 262.24 L406.05 262.90 L406.39 263.57 L406.61 264.02 L406.93 264.70 L407.24 265.38 L407.55 266.06 L407.75 266.52 L408.04 267.21 L408.33 267.91 L408.61 268.60 L408.79 269.07 L409.06 269.77 L409.32 270.47 L409.57 271.18 L409.74 271.65 L409.99 272.36 L410.23 273.07 L410.47 273.78 L410.63 274.25 L410.86 274.96 L411.09 275.68 L411.31 276.40 L411.45 276.87 L411.66 277.59 L411.86 278.32 L412.05 279.04 L412.16 279.53 L412.33 280.26 L412.49 280.99 L412.58 281.48 L412.72 282.22 L412.85 282.96 L412.97 283.70 L413.05 284.19 L413.16 284.94 L413.27 285.68 L413.37 286.42 L413.44 286.92 L413.54 287.66 L413.63 288.40 L413.72 289.15 L413.78 289.65 L413.86 290.39 L413.94 291.14 L414.02 291.88 L414.07 292.38 L414.14 293.13 L414.21 293.87 L414.28 294.62 L414.33 295.12 L414.39 295.86 L414.46 296.61 L414.52 297.36 L414.56 297.86 L414.62 298.61 L414.67 299.35 L414.73 300.10 L414.77 300.60 L414.82 301.35 L414.87 302.10 L414.90 302.59 L414.95 303.34 L415.00 304.09 L415.05 304.84 L415.08 305.34 L415.12 306.09 L415.16 306.84 L415.20 307.59 L415.23 308.09 L415.27 308.83 L415.31 309.58 L415.34 310.33 L415.37 310.83 L415.40 311.58 L415.43 312.33 L415.46 313.08 L415.49 313.58 L415.52 314.33 L415.55 315.08 L415.58 315.83 L415.60 316.33 L415.63 317.08 L415.66 317.83 L415.69 318.58 L415.71 319.07 L415.74 319.82 L415.77 320.57 L415.80 321.32 L415.83 321.82 L415.86 322.57 L415.89 323.32 L415.91 323.82 L415.94 324.57 L415.96 325.32 L415.99 326.07 L416.01 326.57 L416.04 327.32 L416.07 328.07 L416.10 328.82 L416.12 329.32 L416.15 330.07 L416.19 330.81 L416.22 331.56 L416.24 332.06 L416.28 332.81 L416.32 333.56 L416.36 334.31 L416.39 334.81 L416.44 335.56 L416.49 336.31 L416.54 337.05 L416.57 337.55 L416.63 338.30 L416.68 339.05 L416.75 339.80 L416.79 340.30 L416.85 341.04 L416.92 341.79 L416.99 342.54 L417.04 343.03 L417.12 343.78 L417.20 344.52 L417.26 345.02 L417.34 345.77 L417.43 346.51 L417.53 347.26 L417.59 347.75 L417.69 348.49 L417.80 349.24 L417.91 349.98 L417.99 350.47 L418.11 351.21 L418.25 351.95 L418.39 352.69 L418.49 353.17 L418.65 353.91 L418.82 354.64 L419.00 355.36 L419.13 355.85 L419.33 356.57 L419.54 357.29 L419.76 358.01 L419.91 358.48 L420.15 359.20 L420.39 359.90 L420.65 360.61 L420.83 361.08 L421.10 361.77 L421.39 362.47 L421.69 363.15 L421.90 363.61 L422.23 364.28 L422.58 364.94 L422.82 365.38 L423.22 366.01 L423.63 366.63 L424.07 367.24 L424.38 367.64 L424.85 368.22 L425.34 368.79 L425.84 369.34 L426.19 369.70 L426.71 370.24 L427.25 370.75 L427.81 371.26 L428.18 371.59 L428.76 372.06 L429.35 372.52 L429.96 372.96 L430.37 373.25 L431.00 373.66 L431.63 374.06 L432.27 374.44 L432.71 374.69 L433.37 375.05 L434.03 375.40 L434.70 375.73 L435.15 375.95 L435.83 376.27 L436.52 376.57 L437.21 376.86 L437.67 377.05 L438.37 377.31 L439.08 377.57 L439.55 377.73 L440.27 377.95 L440.98 378.16 L441.71 378.36 L442.19 378.49 L442.92 378.67 L443.65 378.84 L444.38 379.01 L444.87 379.11 L445.60 379.26 L446.34 379.41 L447.08 379.55 L447.57 379.64 L448.31 379.77 L449.05 379.89 L449.79 380.01 L450.28 380.09 L451.02 380.20 L451.76 380.31 L452.51 380.42 L453.00 380.48 L453.74 380.58 L454.49 380.68 L455.23 380.77 L455.73 380.83 L456.47 380.92 L457.22 381.00 L457.96 381.09 L458.46 381.14 L459.21 381.22 L459.95 381.30 L460.45 381.35 L461.20 381.42 L461.94 381.49 L462.69 381.56 L463.19 381.61 L463.94 381.68 L464.68 381.75 L465.43 381.81 L465.93 381.86 L466.67 381.92 L467.42 381.98 L468.17 382.05 L468.67 382.09 L469.42 382.15 L470.16 382.21 L470.91 382.26 L471.41 382.30 L472.16 382.36 L472.90 382.41 L473.65 382.47 L474.15 382.50 L474.90 382.56 L475.65 382.61 L476.40 382.66 L476.89 382.69 L477.64 382.75 L478.39 382.79 L479.14 382.84 L479.64 382.88 L480.39 382.92 L481.14 382.97 L481.63 383.00 L482.38 383.05 L483.13 383.10 L483.88 383.14 L484.38 383.17 L485.13 383.22 L485.88 383.26 L486.63 383.31 L487.12 383.33 L487.87 383.38 L488.62 383.42 L489.37 383.46 L489.87 383.49 L490.62 383.53 L491.37 383.57 L492.12 383.61 L492.62 383.64 L493.37 383.67 L494.11 383.71 L494.86 383.75 L495.36 383.77 L496.11 383.81 L496.86 383.84 L497.61 383.88 L498.11 383.90 L498.86 383.93 L499.61 383.97 L500.36 384.00" stroke="#000000" stroke-width="1.9" fill="none" stroke-linejoin="round" stroke-linecap="round" />
<path d="M329.70 237.90 L330.20 237.90 L330.95 237.90 L331.70 237.89 L332.20 237.89 L332.95 237.89 L333.70 237.88 L334.45 237.88 L334.95 237.88 L335.70 237.87 L336.45 237.87 L337.20 237.86 L337.70 237.86 L338.45 237.85 L339.20 237.85 L339.95 237.84 L340.45 237.84 L341.20 237.83 L341.95 237.83 L342.70 237.82 L343.20 237.82 L343.95 237.81 L344.70 237.80 L345.45 237.79 L345.95 237.79 L346.70 237.78 L347.45 237.77 L348.20 237.76 L348.70 237.75 L349.45 237.74 L350.20 237.72 L350.95 237.71 L351.45 237.70 L352.20 237.69 L352.95 237.68 L353.70 237.66 L354.20 237.66 L354.95 237.64 L355.70 237.63 L356.45 237.62 L356.95 237.62 L357.70 237.61 L358.45 237.61 L359.20 237.60 L359.70 237.60 L360.45 237.60 L361.20 237.60 L361.95 237.60 L362.45 237.60 L363.20 237.60 L363.95 237.60 L364.70 237.60 L365.20 237.60 L365.95 237.60 L366.70 237.60 L367.45 237.60 L367.95 237.60 L368.70 237.60 L369.45 237.60 L370.20 237.61 L370.70 237.63 L371.45 237.65 L372.20 237.69 L372.94 237.75 L373.44 237.80 L374.19 237.87 L374.93 237.96 L375.67 238.07 L376.17 238.14 L376.91 238.26 L377.65 238.38 L378.39 238.52 L378.88 238.61 L379.61 238.75 L380.35 238.90 L381.08 239.05 L381.57 239.15 L382.31 239.31 L383.04 239.46 L383.77 239.63 L384.26 239.74 L384.99 239.92 L385.71 240.12 L386.43 240.33 L386.91 240.47 L387.62 240.70 L388.33 240.95 L389.04 241.20 L389.50 241.38 L390.20 241.65 L390.90 241.93 L391.59 242.22 L392.05 242.41 L392.74 242.71 L393.42 243.03 L394.09 243.35 L394.54 243.58 L395.20 243.92 L395.86 244.29 L396.51 244.66 L396.93 244.92 L397.57 245.32 L398.20 245.73 L398.82 246.15 L399.23 246.43 L399.85 246.86 L400.45 247.30 L401.05 247.76 L401.44 248.07 L402.03 248.54 L402.60 249.02 L403.17 249.51 L403.54 249.84 L404.09 250.35 L404.63 250.87 L405.17 251.39 L405.52 251.74 L406.05 252.28 L406.56 252.83 L407.07 253.38 L407.40 253.76 L407.89 254.32 L408.37 254.90 L408.84 255.48 L409.15 255.87 L409.61 256.47 L410.06 257.06 L410.51 257.67 L410.80 258.07 L411.23 258.69 L411.65 259.31 L412.05 259.94 L412.32 260.36 L412.71 261.01 L413.08 261.65 L413.45 262.31 L413.70 262.74 L414.06 263.40 L414.41 264.06 L414.75 264.73 L414.97 265.18 L415.30 265.85 L415.62 266.53 L415.92 267.22 L416.12 267.68 L416.40 268.37 L416.67 269.07 L416.94 269.77 L417.11 270.24 L417.36 270.95 L417.61 271.66 L417.84 272.37 L418.00 272.84 L418.22 273.56 L418.44 274.28 L418.64 275.00 L418.77 275.48 L418.96 276.21 L419.13 276.94 L419.29 277.67 L419.38 278.16 L419.52 278.90 L419.64 279.64 L419.76 280.38 L419.83 280.87 L419.93 281.61 L420.03 282.36 L420.12 283.10 L420.18 283.60 L420.27 284.34 L420.35 285.09 L420.43 285.83 L420.48 286.33 L420.56 287.08 L420.63 287.82 L420.70 288.57 L420.75 289.07 L420.82 289.82 L420.89 290.56 L420.97 291.31 L421.01 291.81 L421.09 292.55 L421.16 293.30 L421.24 294.05 L421.29 294.54 L421.37 295.29 L421.44 296.03 L421.52 296.78 L421.57 297.28 L421.65 298.02 L421.73 298.77 L421.80 299.52 L421.85 300.01 L421.93 300.76 L422.00 301.51 L422.07 302.25 L422.12 302.75 L422.18 303.50 L422.25 304.24 L422.31 304.99 L422.35 305.49 L422.41 306.24 L422.46 306.99 L422.51 307.73 L422.55 308.23 L422.59 308.98 L422.64 309.73 L422.68 310.48 L422.71 310.98 L422.75 311.73 L422.79 312.48 L422.83 313.23 L422.86 313.72 L422.90 314.47 L422.93 315.22 L422.97 315.97 L422.99 316.47 L423.03 317.22 L423.06 317.97 L423.09 318.72 L423.11 319.22 L423.15 319.97 L423.18 320.72 L423.21 321.47 L423.23 321.97 L423.26 322.72 L423.29 323.47 L423.32 324.21 L423.33 324.71 L423.36 325.46 L423.38 326.21 L423.41 326.96 L423.43 327.46 L423.45 328.21 L423.48 328.96 L423.50 329.71 L423.52 330.21 L423.54 330.96 L423.57 331.71 L423.60 332.46 L423.62 332.96 L423.65 333.71 L423.68 334.46 L423.71 335.21 L423.73 335.71 L423.76 336.46 L423.79 337.21 L423.83 337.96 L423.85 338.45 L423.88 339.20 L423.91 339.95 L423.95 340.70 L423.97 341.20 L424.01 341.95 L424.04 342.70 L424.08 343.45 L424.11 343.95 L424.15 344.70 L424.20 345.45 L424.25 346.19 L424.28 346.69 L424.34 347.44 L424.39 348.19 L424.45 348.94 L424.50 349.43 L424.57 350.18 L424.65 350.93 L424.74 351.67 L424.81 352.17 L424.92 352.91 L425.05 353.64 L425.20 354.38 L425.30 354.87 L425.47 355.60 L425.64 356.33 L425.83 357.05 L425.97 357.54 L426.17 358.26 L426.39 358.97 L426.62 359.69 L426.78 360.16 L427.03 360.87 L427.29 361.57 L427.56 362.27 L427.75 362.73 L428.04 363.43 L428.35 364.11 L428.67 364.78 L428.91 365.22 L429.28 365.87 L429.68 366.51 L430.10 367.12 L430.39 367.53 L430.85 368.12 L431.33 368.69 L431.83 369.25 L432.17 369.62 L432.70 370.15 L433.25 370.66 L433.81 371.16 L434.19 371.47 L434.79 371.93 L435.40 372.36 L436.02 372.78 L436.45 373.04 L437.09 373.42 L437.75 373.79 L438.41 374.14 L438.85 374.37 L439.52 374.71 L440.19 375.04 L440.87 375.37 L441.32 375.58 L442.00 375.89 L442.69 376.19 L443.38 376.48 L443.84 376.67 L444.54 376.95 L445.24 377.22 L445.94 377.49 L446.41 377.66 L447.11 377.92 L447.82 378.18 L448.52 378.44 L448.99 378.61 L449.69 378.87 L450.40 379.12 L451.11 379.37 L451.58 379.53 L452.29 379.76 L453.01 379.97 L453.73 380.17 L454.22 380.30 L454.95 380.47 L455.68 380.62 L456.42 380.77 L456.91 380.86 L457.65 381.00 L458.39 381.12 L459.13 381.24 L459.62 381.32 L460.36 381.43 L461.10 381.54 L461.85 381.64 L462.34 381.71 L463.09 381.80 L463.83 381.89 L464.58 381.98 L465.07 382.04 L465.82 382.11 L466.56 382.19 L467.31 382.26 L467.81 382.31 L468.56 382.37 L469.30 382.44 L470.05 382.50 L470.55 382.54 L471.30 382.59 L472.04 382.65 L472.79 382.70 L473.29 382.74 L474.04 382.79 L474.79 382.84 L475.54 382.89 L476.04 382.92 L476.78 382.96 L477.53 383.01 L478.28 383.05 L478.78 383.08 L479.53 383.12 L480.28 383.16 L481.03 383.20 L481.53 383.23 L482.28 383.27 L483.02 383.30 L483.77 383.34 L484.27 383.36 L485.02 383.40 L485.77 383.44 L486.52 383.47 L487.02 383.49 L487.77 383.53 L488.52 383.56 L489.27 383.60 L489.77 383.62 L490.52 383.65 L491.27 383.68 L492.02 383.71 L492.52 383.73 L493.26 383.76 L494.01 383.79 L494.76 383.82 L495.26 383.84 L496.01 383.86 L496.76 383.89 L497.51 383.91 L498.01 383.93 L498.76 383.95 L499.51 383.97 L500.26 384.00" stroke="#dc3030" stroke-width="1.9" fill="none" stroke-linejoin="round" stroke-linecap="round" />
<rect x="441.0" y="228.0" width="73.20000000000005" height="62.80000000000001" fill="#fff" stroke="#444" stroke-width="1.1"/>
<clipPath id="ci"><rect x="441.0" y="228.0" width="73.20000000000005" height="62.80000000000001"/></clipPath>
<g clip-path="url(#ci)">
<path d="M447.30 290.61 L447.45 290.61 L447.60 290.61 L447.75 290.60 L447.90 290.60 L448.05 290.60 L448.21 290.60 L448.36 290.60 L448.51 290.60 L448.66 290.60 L448.81 290.60 L448.96 290.59 L449.11 290.59 L449.26 290.59 L449.41 290.59 L449.56 290.59 L449.71 290.59 L449.86 290.59 L450.02 290.58 L450.17 290.58 L450.32 290.58 L450.47 290.58 L450.62 290.58 L450.77 290.58 L450.92 290.57 L451.07 290.57 L451.22 290.57 L451.37 290.57 L451.52 290.57 L451.68 290.57 L451.83 290.56 L451.98 290.56 L452.13 290.56 L452.28 290.56 L452.43 290.56 L452.58 290.56 L452.73 290.55 L452.88 290.55 L453.03 290.55 L453.18 290.55 L453.34 290.55 L453.49 290.54 L453.64 290.54 L453.79 290.54 L453.94 290.54 L454.09 290.54 L454.24 290.53 L454.39 290.53 L454.54 290.53 L454.69 290.53 L454.84 290.52 L454.99 290.52 L455.15 290.52 L455.30 290.52 L455.45 290.51 L455.60 290.51 L455.75 290.51 L455.90 290.51 L456.05 290.50 L456.20 290.50 L456.35 290.50 L456.50 290.50 L456.65 290.49 L456.81 290.49 L456.96 290.49 L457.11 290.49 L457.26 290.48 L457.41 290.48 L457.56 290.48 L457.71 290.47 L457.86 290.47 L458.01 290.47 L458.16 290.46 L458.31 290.46 L458.46 290.46 L458.62 290.45 L458.77 290.45 L458.92 290.45 L459.07 290.44 L459.22 290.44 L459.37 290.44 L459.52 290.43 L459.67 290.43 L459.82 290.43 L459.97 290.42 L460.12 290.42 L460.28 290.41 L460.43 290.41 L460.58 290.41 L460.73 290.40 L460.88 290.40 L461.03 290.39 L461.18 290.39 L461.33 290.38 L461.48 290.38 L461.63 290.37 L461.78 290.37 L461.94 290.36 L462.09 290.36 L462.24 290.35 L462.39 290.35 L462.54 290.34 L462.69 290.34 L462.84 290.33 L462.99 290.33 L463.14 290.32 L463.29 290.32 L463.44 290.31 L463.59 290.30 L463.75 290.30 L463.90 290.29 L464.05 290.28 L464.20 290.28 L464.35 290.27 L464.50 290.26 L464.65 290.26 L464.80 290.25 L464.95 290.24 L465.10 290.23 L465.25 290.23 L465.41 290.22 L465.56 290.21 L465.71 290.20 L465.86 290.19 L466.01 290.18 L466.16 290.17 L466.31 290.16 L466.46 290.15 L466.61 290.14 L466.76 290.13 L466.91 290.12 L467.06 290.11 L467.22 290.10 L467.37 290.09 L467.52 290.08 L467.67 290.07 L467.82 290.05 L467.97 290.04 L468.12 290.03 L468.27 290.01 L468.42 290.00 L468.57 289.99 L468.72 289.97 L468.88 289.96 L469.03 289.94 L469.18 289.92 L469.33 289.91 L469.48 289.89 L469.63 289.87 L469.78 289.85 L469.93 289.83 L470.08 289.81 L470.23 289.79 L470.38 289.77 L470.54 289.75 L470.69 289.73 L470.84 289.70 L470.99 289.68 L471.14 289.65 L471.29 289.63 L471.44 289.60 L471.59 289.57 L471.74 289.54 L471.89 289.51 L472.04 289.47 L472.19 289.44 L472.35 289.40 L472.50 289.37 L472.65 289.33 L472.80 289.28 L472.95 289.24 L473.10 289.20 L473.25 289.15 L473.40 289.10 L473.55 289.04 L473.70 288.99 L473.85 288.93 L474.01 288.87 L474.16 288.80 L474.31 288.73 L474.46 288.65 L474.61 288.58 L474.76 288.49 L474.91 288.40 L475.06 288.30 L475.21 288.20 L475.36 288.09 L475.51 287.97 L475.66 287.84 L475.82 287.70 L475.97 287.55 L476.12 287.39 L476.27 287.21 L476.42 287.02 L476.57 286.81 L476.72 286.57 L476.80 286.44 L476.85 286.35 L476.87 286.31 L476.90 286.26 L476.95 286.17 L477.00 286.07 L477.02 286.02 L477.05 285.97 L477.10 285.87 L477.15 285.76 L477.17 285.70 L477.20 285.64 L477.25 285.53 L477.30 285.41 L477.32 285.34 L477.35 285.28 L477.40 285.15 L477.45 285.01 L477.48 284.94 L477.50 284.87 L477.55 284.72 L477.60 284.57 L477.63 284.48 L477.65 284.40 L477.70 284.23 L477.75 284.06 L477.78 283.96 L477.80 283.87 L477.85 283.68 L477.90 283.47 L477.93 283.35 L477.95 283.26 L478.00 283.03 L478.05 282.79 L478.08 282.65 L478.10 282.54 L478.15 282.28 L478.20 282.00 L478.23 281.83 L478.25 281.71 L478.30 281.39 L478.35 281.06 L478.38 280.85 L478.40 280.71 L478.45 280.34 L478.50 279.94 L478.53 279.67 L478.55 279.51 L478.60 279.06 L478.65 278.57 L478.68 278.24 L478.70 278.05 L478.75 277.49 L478.80 276.89 L478.83 276.46 L478.85 276.23 L478.90 275.52 L478.95 274.76 L478.98 274.19 L479.00 273.92 L479.05 273.00 L479.10 272.00 L479.14 271.23 L479.15 270.89 L479.20 269.67 L479.25 268.31 L479.29 267.24 L479.30 266.80 L479.35 265.10 L479.40 263.19 L479.44 261.62 L479.45 261.02 L479.50 258.54 L479.55 255.68 L479.59 253.22 L479.60 252.36 L479.65 248.46 L479.70 243.83 L479.74 239.63 L479.75 238.26 L479.80 231.45 L479.85 238.72 L479.89 243.46 L479.90 244.61 L479.95 249.47 L480.00 253.53 L480.04 256.35 L480.05 256.97 L480.10 259.91 L480.15 262.45 L480.19 264.29 L480.20 264.66 L480.25 266.59 L480.30 268.30 L480.34 269.59 L480.35 269.82 L480.40 271.17 L480.45 272.39 L480.49 273.33 L480.50 273.48 L480.55 274.47 L480.60 275.37 L480.64 276.09 L480.65 276.19 L480.70 276.94 L480.75 277.62 L480.79 278.19 L480.80 278.26 L480.85 278.84 L480.90 279.38 L480.95 279.84 L480.95 279.88 L481.00 280.34 L481.05 280.78 L481.10 281.15 L481.10 281.18 L481.15 281.56 L481.20 281.91 L481.25 282.22 L481.25 282.24 L481.30 282.55 L481.35 282.85 L481.40 283.11 L481.40 283.12 L481.45 283.38 L481.50 283.63 L481.55 283.86 L481.55 283.86 L481.60 284.08 L481.65 284.29 L481.70 284.49 L481.75 284.68 L481.80 284.86 L481.85 285.03 L481.85 285.03 L481.90 285.19 L481.95 285.34 L482.00 285.49 L482.00 285.50 L482.05 285.63 L482.10 285.77 L482.15 285.90 L482.15 285.91 L482.20 286.02 L482.25 286.14 L482.30 286.26 L482.30 286.26 L482.35 286.37 L482.40 286.47 L482.45 286.57 L482.45 286.58 L482.50 286.67 L482.55 286.76 L482.60 286.85 L482.61 286.86 L482.65 286.94 L482.70 287.02 L482.75 287.10 L482.76 287.11 L482.80 287.18 L482.91 287.34 L483.06 287.54 L483.21 287.73 L483.36 287.89 L483.51 288.05 L483.66 288.19 L483.81 288.32 L483.96 288.43 L484.11 288.54 L484.26 288.64 L484.42 288.74 L484.57 288.83 L484.72 288.91 L484.87 288.98 L485.02 289.05 L485.17 289.12 L485.32 289.18 L485.47 289.24 L485.62 289.30 L485.77 289.35 L485.92 289.40 L486.08 289.44 L486.23 289.49 L486.38 289.53 L486.53 289.57 L486.68 289.60 L486.83 289.64 L486.98 289.67 L487.13 289.71 L487.28 289.74 L487.43 289.77 L487.58 289.79 L487.74 289.82 L487.89 289.85 L488.04 289.87 L488.19 289.89 L488.34 289.92 L488.49 289.94 L488.64 289.96 L488.79 289.98 L488.94 290.00 L489.09 290.02 L489.24 290.03 L489.39 290.05 L489.55 290.07 L489.70 290.08 L489.85 290.10 L490.00 290.11 L490.15 290.13 L490.30 290.14 L490.45 290.15 L490.60 290.17 L490.75 290.18 L490.90 290.19 L491.05 290.20 L491.21 290.21 L491.36 290.23 L491.51 290.24 L491.66 290.25 L491.81 290.26 L491.96 290.27 L492.11 290.28 L492.26 290.28 L492.41 290.29 L492.56 290.30 L492.71 290.31 L492.86 290.32 L493.02 290.33 L493.17 290.33 L493.32 290.34 L493.47 290.35 L493.62 290.36 L493.77 290.36 L493.92 290.37 L494.07 290.38 L494.22 290.38 L494.37 290.39 L494.52 290.39 L494.68 290.40 L494.83 290.41 L494.98 290.41 L495.13 290.42 L495.28 290.42 L495.43 290.43 L495.58 290.43 L495.73 290.44 L495.88 290.44 L496.03 290.45 L496.18 290.45 L496.34 290.46 L496.49 290.46 L496.64 290.47 L496.79 290.47 L496.94 290.47 L497.09 290.48 L497.24 290.48 L497.39 290.49 L497.54 290.49 L497.69 290.49 L497.84 290.50 L497.99 290.50 L498.15 290.51 L498.30 290.51 L498.45 290.51 L498.60 290.52 L498.75 290.52 L498.90 290.52 L499.05 290.53 L499.20 290.53 L499.35 290.53 L499.50 290.53 L499.65 290.54 L499.81 290.54 L499.96 290.54 L500.11 290.55 L500.26 290.55 L500.41 290.55 L500.56 290.55 L500.71 290.56 L500.86 290.56 L501.01 290.56 L501.16 290.56 L501.31 290.57 L501.46 290.57 L501.62 290.57 L501.77 290.57 L501.92 290.58 L502.07 290.58 L502.22 290.58 L502.37 290.58 L502.52 290.58 L502.67 290.59 L502.82 290.59 L502.97 290.59 L503.12 290.59 L503.28 290.59 L503.43 290.60 L503.58 290.60 L503.73 290.60 L503.88 290.60 L504.03 290.60 L504.18 290.61 L504.33 290.61 L504.48 290.61 L504.63 290.61 L504.78 290.61 L504.94 290.61 L505.09 290.62 L505.24 290.62 L505.39 290.62 L505.54 290.62 L505.69 290.62 L505.84 290.62 L505.99 290.62 L506.14 290.63 L506.29 290.63 L506.44 290.63 L506.59 290.63 L506.75 290.63 L506.90 290.63 L507.05 290.63 L507.20 290.64 L507.35 290.64 L507.50 290.64" stroke="#dc3030" stroke-width="1.2" fill="none" stroke-linejoin="round" stroke-linecap="round" />
<path d="M447.30 290.59 L447.45 290.59 L447.60 290.58 L447.75 290.58 L447.90 290.58 L448.05 290.58 L448.21 290.58 L448.36 290.58 L448.51 290.57 L448.66 290.57 L448.81 290.57 L448.96 290.57 L449.11 290.57 L449.26 290.57 L449.41 290.56 L449.56 290.56 L449.71 290.56 L449.86 290.56 L450.02 290.56 L450.17 290.55 L450.32 290.55 L450.47 290.55 L450.62 290.55 L450.77 290.55 L450.92 290.55 L451.07 290.54 L451.22 290.54 L451.37 290.54 L451.52 290.54 L451.68 290.53 L451.83 290.53 L451.98 290.53 L452.13 290.53 L452.28 290.53 L452.43 290.52 L452.58 290.52 L452.73 290.52 L452.88 290.52 L453.03 290.51 L453.18 290.51 L453.34 290.51 L453.49 290.51 L453.64 290.50 L453.79 290.50 L453.94 290.50 L454.09 290.50 L454.24 290.49 L454.39 290.49 L454.54 290.49 L454.69 290.48 L454.84 290.48 L454.99 290.48 L455.15 290.48 L455.30 290.47 L455.45 290.47 L455.60 290.47 L455.75 290.46 L455.90 290.46 L456.05 290.46 L456.20 290.45 L456.35 290.45 L456.50 290.45 L456.65 290.44 L456.81 290.44 L456.96 290.44 L457.11 290.43 L457.26 290.43 L457.41 290.42 L457.56 290.42 L457.71 290.42 L457.86 290.41 L458.01 290.41 L458.16 290.40 L458.31 290.40 L458.46 290.39 L458.62 290.39 L458.77 290.39 L458.92 290.38 L459.07 290.38 L459.22 290.37 L459.37 290.37 L459.52 290.36 L459.67 290.36 L459.82 290.35 L459.97 290.35 L460.12 290.34 L460.28 290.33 L460.43 290.33 L460.58 290.32 L460.73 290.32 L460.88 290.31 L461.03 290.30 L461.18 290.30 L461.33 290.29 L461.48 290.28 L461.63 290.28 L461.78 290.27 L461.94 290.26 L462.09 290.26 L462.24 290.25 L462.39 290.24 L462.54 290.23 L462.69 290.23 L462.84 290.22 L462.99 290.21 L463.14 290.20 L463.29 290.19 L463.44 290.18 L463.59 290.17 L463.75 290.16 L463.90 290.15 L464.05 290.14 L464.20 290.13 L464.35 290.12 L464.50 290.11 L464.65 290.10 L464.80 290.09 L464.95 290.08 L465.10 290.07 L465.25 290.05 L465.41 290.04 L465.56 290.03 L465.71 290.01 L465.86 290.00 L466.01 289.98 L466.16 289.97 L466.31 289.95 L466.46 289.94 L466.61 289.92 L466.76 289.90 L466.91 289.89 L467.06 289.87 L467.22 289.85 L467.37 289.83 L467.52 289.81 L467.67 289.79 L467.82 289.77 L467.97 289.74 L468.12 289.72 L468.27 289.70 L468.42 289.67 L468.57 289.64 L468.72 289.62 L468.88 289.59 L469.03 289.56 L469.18 289.53 L469.33 289.49 L469.48 289.46 L469.63 289.43 L469.78 289.39 L469.93 289.35 L470.08 289.31 L470.23 289.27 L470.38 289.22 L470.54 289.17 L470.69 289.12 L470.84 289.07 L470.99 289.02 L471.14 288.96 L471.29 288.90 L471.44 288.83 L471.59 288.76 L471.74 288.69 L471.89 288.61 L472.04 288.53 L472.19 288.44 L472.35 288.35 L472.50 288.25 L472.65 288.14 L472.80 288.02 L472.95 287.90 L473.10 287.76 L473.25 287.61 L473.40 287.45 L473.55 287.28 L473.70 287.09 L473.85 286.88 L474.01 286.65 L474.10 286.50 L474.15 286.41 L474.16 286.40 L474.20 286.32 L474.25 286.23 L474.30 286.13 L474.31 286.12 L474.35 286.03 L474.40 285.93 L474.45 285.82 L474.46 285.81 L474.50 285.71 L474.55 285.60 L474.60 285.48 L474.61 285.46 L474.65 285.35 L474.70 285.22 L474.75 285.09 L474.76 285.06 L474.80 284.95 L474.85 284.80 L474.90 284.65 L474.91 284.61 L474.95 284.49 L475.00 284.32 L475.05 284.14 L475.06 284.10 L475.10 283.96 L475.15 283.77 L475.20 283.57 L475.21 283.52 L475.25 283.36 L475.30 283.13 L475.35 282.90 L475.36 282.84 L475.40 282.65 L475.45 282.39 L475.50 282.12 L475.51 282.04 L475.55 281.83 L475.60 281.52 L475.65 281.19 L475.66 281.09 L475.70 280.84 L475.75 280.48 L475.80 280.08 L475.82 279.95 L475.85 279.66 L475.90 279.22 L475.95 278.74 L475.97 278.57 L476.00 278.22 L476.05 277.67 L476.10 277.07 L476.12 276.85 L476.15 276.43 L476.20 275.73 L476.25 274.97 L476.27 274.67 L476.30 274.14 L476.35 273.24 L476.40 272.25 L476.42 271.84 L476.45 271.15 L476.50 269.95 L476.55 268.61 L476.57 268.03 L476.60 267.12 L476.65 265.44 L476.70 263.55 L476.72 262.69 L476.75 261.41 L476.80 258.96 L476.85 256.14 L476.87 254.77 L476.90 252.87 L476.95 249.02 L477.00 244.45 L477.02 242.07 L477.05 238.96 L477.10 232.24 L477.15 239.40 L477.17 242.30 L477.20 245.22 L477.25 250.01 L477.30 254.02 L477.32 255.76 L477.35 257.42 L477.40 260.32 L477.45 262.82 L477.48 263.97 L477.50 265.00 L477.55 266.91 L477.60 268.60 L477.63 269.41 L477.65 270.10 L477.70 271.43 L477.75 272.63 L477.78 273.23 L477.80 273.71 L477.85 274.68 L477.90 275.57 L477.93 276.03 L477.95 276.38 L478.00 277.12 L478.05 277.80 L478.08 278.17 L478.10 278.42 L478.15 279.00 L478.20 279.53 L478.23 279.83 L478.25 280.02 L478.30 280.48 L478.35 280.91 L478.38 281.16 L478.40 281.31 L478.45 281.68 L478.50 282.03 L478.53 282.24 L478.55 282.35 L478.60 282.66 L478.65 282.95 L478.68 283.13 L478.70 283.22 L478.75 283.48 L478.80 283.72 L478.83 283.88 L478.85 283.95 L478.90 284.17 L478.95 284.38 L478.98 284.51 L479.00 284.57 L479.05 284.76 L479.10 284.93 L479.14 285.05 L479.15 285.10 L479.20 285.26 L479.25 285.42 L479.29 285.52 L479.30 285.56 L479.35 285.70 L479.40 285.84 L479.44 285.93 L479.45 285.96 L479.50 286.09 L479.55 286.20 L479.59 286.29 L479.60 286.32 L479.65 286.42 L479.70 286.53 L479.74 286.60 L479.75 286.63 L479.80 286.72 L479.85 286.82 L479.89 286.89 L479.90 286.90 L479.95 286.99 L480.00 287.07 L480.04 287.14 L480.05 287.15 L480.10 287.23 L480.19 287.36 L480.34 287.57 L480.49 287.75 L480.64 287.92 L480.79 288.07 L480.95 288.21 L481.10 288.34 L481.25 288.45 L481.40 288.56 L481.55 288.66 L481.70 288.76 L481.85 288.84 L482.00 288.92 L482.15 289.00 L482.30 289.07 L482.45 289.14 L482.61 289.20 L482.76 289.26 L482.91 289.31 L483.06 289.36 L483.21 289.41 L483.36 289.46 L483.51 289.50 L483.66 289.54 L483.81 289.58 L483.96 289.62 L484.11 289.65 L484.26 289.69 L484.42 289.72 L484.57 289.75 L484.72 289.78 L484.87 289.80 L485.02 289.83 L485.17 289.86 L485.32 289.88 L485.47 289.90 L485.62 289.93 L485.77 289.95 L485.92 289.97 L486.08 289.99 L486.23 290.01 L486.38 290.02 L486.53 290.04 L486.68 290.06 L486.83 290.08 L486.98 290.09 L487.13 290.11 L487.28 290.12 L487.43 290.13 L487.58 290.15 L487.74 290.16 L487.89 290.17 L488.04 290.19 L488.19 290.20 L488.34 290.21 L488.49 290.22 L488.64 290.23 L488.79 290.24 L488.94 290.25 L489.09 290.26 L489.24 290.27 L489.39 290.28 L489.55 290.29 L489.70 290.30 L489.85 290.31 L490.00 290.32 L490.15 290.32 L490.30 290.33 L490.45 290.34 L490.60 290.35 L490.75 290.35 L490.90 290.36 L491.05 290.37 L491.21 290.37 L491.36 290.38 L491.51 290.39 L491.66 290.39 L491.81 290.40 L491.96 290.41 L492.11 290.41 L492.26 290.42 L492.41 290.42 L492.56 290.43 L492.71 290.43 L492.86 290.44 L493.02 290.44 L493.17 290.45 L493.32 290.45 L493.47 290.46 L493.62 290.46 L493.77 290.47 L493.92 290.47 L494.07 290.47 L494.22 290.48 L494.37 290.48 L494.52 290.49 L494.68 290.49 L494.83 290.49 L494.98 290.50 L495.13 290.50 L495.28 290.51 L495.43 290.51 L495.58 290.51 L495.73 290.52 L495.88 290.52 L496.03 290.52 L496.18 290.53 L496.34 290.53 L496.49 290.53 L496.64 290.53 L496.79 290.54 L496.94 290.54 L497.09 290.54 L497.24 290.55 L497.39 290.55 L497.54 290.55 L497.69 290.55 L497.84 290.56 L497.99 290.56 L498.15 290.56 L498.30 290.56 L498.45 290.57 L498.60 290.57 L498.75 290.57 L498.90 290.57 L499.05 290.58 L499.20 290.58 L499.35 290.58 L499.50 290.58 L499.65 290.58 L499.81 290.59 L499.96 290.59 L500.11 290.59 L500.26 290.59 L500.41 290.60 L500.56 290.60 L500.71 290.60 L500.86 290.60 L501.01 290.60 L501.16 290.60 L501.31 290.61 L501.46 290.61 L501.62 290.61 L501.77 290.61 L501.92 290.61 L502.07 290.61 L502.22 290.62 L502.37 290.62 L502.52 290.62 L502.67 290.62 L502.82 290.62 L502.97 290.62 L503.12 290.63 L503.28 290.63 L503.43 290.63 L503.58 290.63 L503.73 290.63 L503.88 290.63 L504.03 290.63 L504.18 290.64 L504.33 290.64 L504.48 290.64 L504.63 290.64 L504.78 290.64 L504.94 290.64 L505.09 290.64 L505.24 290.64 L505.39 290.65 L505.54 290.65 L505.69 290.65 L505.84 290.65 L505.99 290.65 L506.14 290.65 L506.29 290.65 L506.44 290.65 L506.59 290.65 L506.75 290.66 L506.90 290.66 L507.05 290.66 L507.20 290.66 L507.35 290.66 L507.50 290.66" stroke="#000000" stroke-width="1.2" fill="none" stroke-linejoin="round" stroke-linecap="round" />
</g>
<path d="M447.10 290.80V288.80 M477.60 290.80V288.80 M508.10 290.80V288.80 M462.35 290.80V289.60 M492.85 290.80V289.60 M441.00 290.80H443.00 M441.00 275.10H443.00 M441.00 259.40H443.00 M441.00 243.70H443.00 M441.00 228.00H443.00" stroke="#444" stroke-width="0.9" fill="none"/>
<text x="438.60" y="293.50" font-size="8" text-anchor="end" >0</text>
<text x="438.60" y="277.80" font-size="8" text-anchor="end" >10</text>
<text x="438.60" y="262.10" font-size="8" text-anchor="end" >20</text>
<text x="438.60" y="246.40" font-size="8" text-anchor="end" >30</text>
<text x="438.60" y="230.70" font-size="8" text-anchor="end" >40</text>
<text x="447.10" y="298.50" font-size="8" text-anchor="middle" >0.0</text>
<text x="477.60" y="298.50" font-size="8" text-anchor="middle" >0.5</text>
<text x="508.10" y="298.50" font-size="8" text-anchor="middle" >1.0</text>
<text x="468.50" y="306.20" font-size="8.5" text-anchor="start" >V<tspan font-size="5.8" dy="2.2">IN</tspan><tspan dy="-2.2"> (V)</tspan></text>
<text transform="translate(427.80,280.70) rotate(-90)" font-size="8.5">Gain (V/V)</text>
</svg>
</body></html>
